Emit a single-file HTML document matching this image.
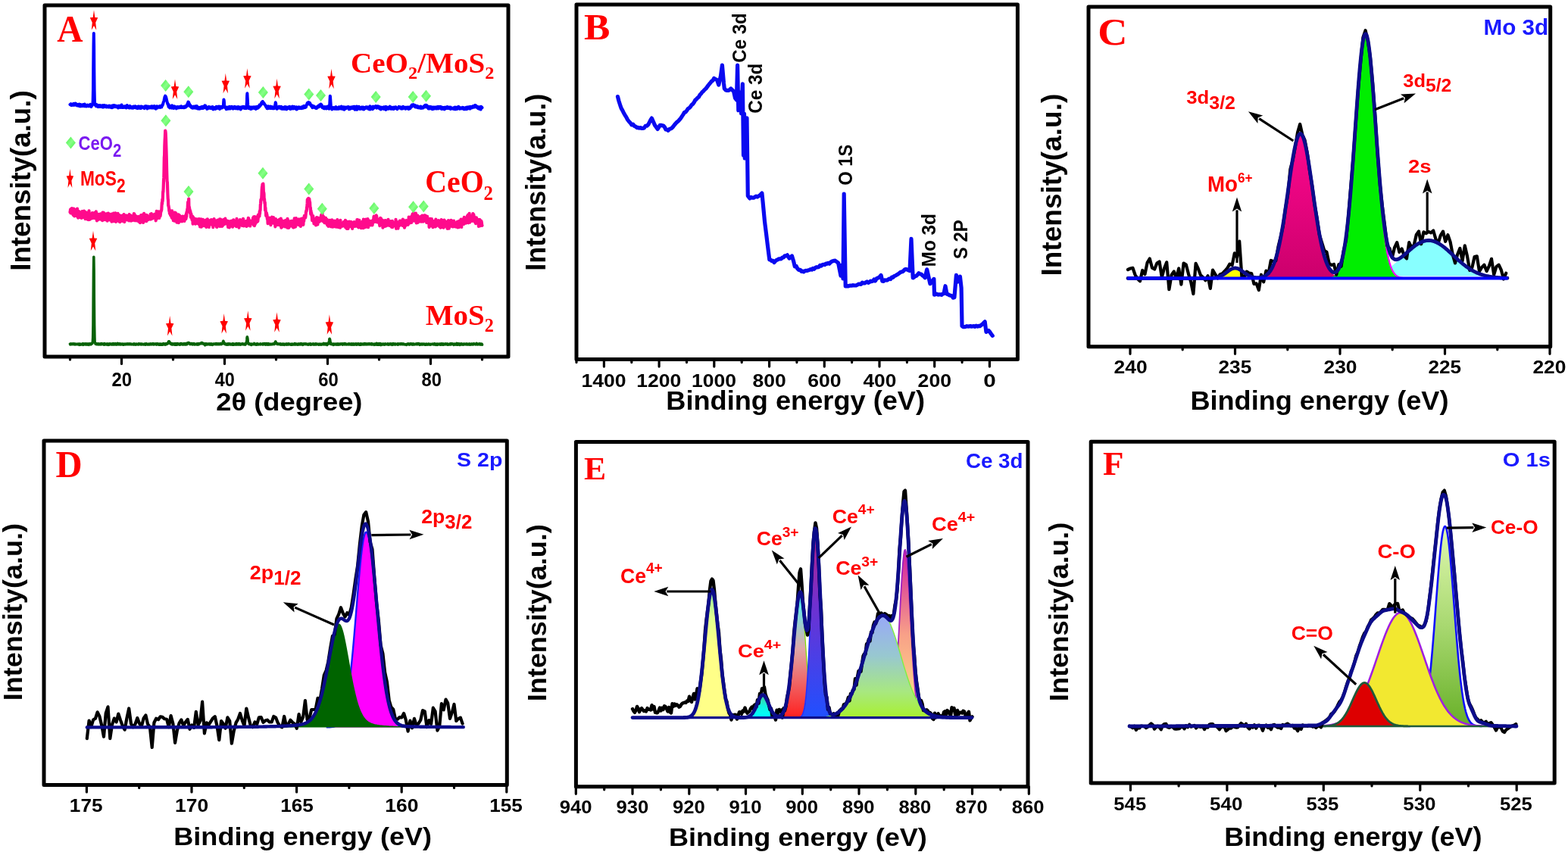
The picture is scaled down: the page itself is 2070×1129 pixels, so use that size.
<!DOCTYPE html>
<html><head><meta charset="utf-8"><title>CeO2/MoS2 XRD and XPS</title>
<style>html,body{margin:0;padding:0;background:#fff;}svg{display:block;filter:blur(0.55px);}</style></head>
<body><svg width="2070" height="1129" viewBox="0 0 2070 1129">
<defs><linearGradient id="dgrad" x1="0" y1="0" x2="1" y2="1"><stop offset="0" stop-color="#44ee44"/><stop offset="0.5" stop-color="#88ff88"/><stop offset="1" stop-color="#44ee44"/></linearGradient><linearGradient id="gP" gradientUnits="userSpaceOnUse" x1="0" y1="170" x2="0" y2="367"><stop offset="0" stop-color="#ff0890"/><stop offset="1" stop-color="#cc006c"/></linearGradient><linearGradient id="gE1" gradientUnits="userSpaceOnUse" x1="0" y1="778" x2="0" y2="947"><stop offset="0" stop-color="#90e8a0"/><stop offset="0.22" stop-color="#e0ff90"/><stop offset="0.45" stop-color="#ffff88"/><stop offset="1" stop-color="#ffff88"/></linearGradient><linearGradient id="gE2" gradientUnits="userSpaceOnUse" x1="0" y1="917" x2="0" y2="947"><stop offset="0" stop-color="#50c890"/><stop offset="0.5" stop-color="#10f0e0"/><stop offset="1" stop-color="#00ffff"/></linearGradient><linearGradient id="gE3" gradientUnits="userSpaceOnUse" x1="0" y1="782" x2="0" y2="947"><stop offset="0" stop-color="#40ffff"/><stop offset="0.45" stop-color="#e0a8a8"/><stop offset="1" stop-color="#ff2020"/></linearGradient><linearGradient id="gE4" gradientUnits="userSpaceOnUse" x1="0" y1="697" x2="0" y2="947"><stop offset="0" stop-color="#c02080"/><stop offset="0.4" stop-color="#7030d0"/><stop offset="1" stop-color="#2050ff"/></linearGradient><linearGradient id="gE5" gradientUnits="userSpaceOnUse" x1="0" y1="812" x2="0" y2="947"><stop offset="0" stop-color="#98a8f8"/><stop offset="0.4" stop-color="#98c8d0"/><stop offset="0.75" stop-color="#a8e880"/><stop offset="1" stop-color="#a8f030"/></linearGradient><linearGradient id="gE6" gradientUnits="userSpaceOnUse" x1="0" y1="728" x2="0" y2="947"><stop offset="0" stop-color="#d020a0"/><stop offset="0.5" stop-color="#f8a088"/><stop offset="1" stop-color="#ffe888"/></linearGradient><linearGradient id="gF" gradientUnits="userSpaceOnUse" x1="0" y1="695" x2="0" y2="958"><stop offset="0" stop-color="#e0f8b0"/><stop offset="0.5" stop-color="#a8d870"/><stop offset="1" stop-color="#68b028"/></linearGradient></defs>
<rect width="2070" height="1129" fill="#fff"/>
<rect x="59" y="7" width="612" height="464" fill="none" stroke="#000" stroke-width="5" stroke-linejoin="round"/>
<path d="M160.5,471.0V480.5 M296.5,471.0V480.5 M432.5,471.0V480.5 M568.5,471.0V480.5 M92.5,471.0V475.0 M228.5,471.0V475.0 M364.5,471.0V475.0 M500.5,471.0V475.0 M636.5,471.0V475.0" stroke="#000" stroke-width="3.2" stroke-linecap="round" fill="none"/>
<text transform="translate(147.51,510.00) scale(0.9410,1)" font-family='"Liberation Sans", Arial, sans-serif' font-weight="bold" font-size="25.36" fill="#000" ><tspan>20</tspan></text>
<text transform="translate(283.70,510.00) scale(0.9231,1)" font-family='"Liberation Sans", Arial, sans-serif' font-weight="bold" font-size="25.36" fill="#000" ><tspan>40</tspan></text>
<text transform="translate(420.21,510.00) scale(0.9410,1)" font-family='"Liberation Sans", Arial, sans-serif' font-weight="bold" font-size="25.36" fill="#000" ><tspan>60</tspan></text>
<text transform="translate(556.44,510.00) scale(0.9364,1)" font-family='"Liberation Sans", Arial, sans-serif' font-weight="bold" font-size="25.36" fill="#000" ><tspan>80</tspan></text>
<text transform="translate(285.23,542.00) scale(1.0759,1)" font-family='"Liberation Sans", Arial, sans-serif' font-weight="bold" font-size="33.77" fill="#000" ><tspan>2θ (degree)</tspan></text>
<text transform="translate(39.70,357.78) rotate(-90) scale(0.9698,1)" font-family='"Liberation Sans", Arial, sans-serif' font-weight="bold" font-size="37.83" fill="#000" ><tspan>Intensity(a.u.)</tspan></text>
<text transform="translate(75.13,55.00) scale(0.9347,1)" font-family='"Liberation Serif", "Times New Roman", serif' font-weight="bold" font-size="50.69" fill="#ff0000" ><tspan>A</tspan></text>
<polyline points="92.5,138.0 92.8,138.3 93.0,137.8 93.3,137.3 93.6,137.7 93.9,137.3 94.1,138.2 94.4,139.2 94.7,137.8 94.9,137.7 95.2,138.6 95.5,138.5 95.8,138.3 96.0,137.5 96.3,138.2 96.6,138.8 96.9,137.2 97.1,138.0 97.4,136.8 97.7,137.3 97.9,136.9 98.2,138.2 98.5,137.4 98.8,138.7 99.0,138.6 99.3,138.3 99.6,136.5 99.8,138.1 100.1,138.5 100.4,138.6 100.7,137.3 100.9,138.2 101.2,137.8 101.5,138.0 101.7,139.5 102.0,138.0 102.3,138.6 102.6,139.4 102.8,138.2 103.1,138.6 103.4,138.8 103.7,138.8 103.9,137.8 104.2,138.8 104.5,139.9 104.7,137.6 105.0,139.5 105.3,138.9 105.6,138.4 105.8,140.5 106.1,139.5 106.4,138.0 106.6,139.0 106.9,139.4 107.2,138.8 107.5,139.5 107.7,138.9 108.0,139.5 108.3,140.2 108.5,138.5 108.8,139.2 109.1,138.7 109.4,139.2 109.6,138.1 109.9,138.6 110.2,139.0 110.5,139.9 110.7,140.1 111.0,138.1 111.3,138.5 111.5,139.7 111.8,137.6 112.1,138.9 112.4,139.2 112.6,140.3 112.9,139.8 113.2,139.0 113.4,139.0 113.7,139.1 114.0,140.5 114.3,139.0 114.5,139.1 114.8,139.6 115.1,139.3 115.3,139.2 115.6,138.5 115.9,139.4 116.2,139.0 116.4,140.3 116.7,139.9 117.0,139.4 117.3,140.0 117.5,139.2 117.8,140.3 118.1,139.4 118.3,139.9 118.6,138.4 118.9,139.7 119.2,138.1 119.4,137.8 119.7,139.2 120.0,138.7 120.2,139.5 120.5,141.1 120.8,138.6 121.1,138.7 121.3,139.2 121.6,139.3 121.9,138.5 122.1,138.0 122.4,137.3 122.7,132.3 123.0,117.6 123.2,92.2 123.5,60.5 123.8,44.0 124.1,60.8 124.3,91.7 124.6,119.3 124.9,132.1 125.1,136.9 125.4,137.9 125.7,138.7 126.0,137.5 126.2,138.4 126.5,139.7 126.8,137.8 127.0,140.3 127.3,138.3 127.6,140.3 127.9,139.1 128.1,140.4 128.4,139.9 128.7,138.6 128.9,140.9 129.2,141.1 129.5,139.9 129.8,139.8 130.0,139.9 130.3,139.2 130.6,140.9 130.9,139.6 131.1,140.0 131.4,139.4 131.7,139.6 131.9,139.1 132.2,141.1 132.5,140.0 132.8,140.9 133.0,140.2 133.3,139.6 133.6,139.9 133.8,139.8 134.1,140.2 134.4,139.9 134.7,140.0 134.9,139.2 135.2,139.6 135.5,141.6 135.7,139.8 136.0,139.5 136.3,140.6 136.6,141.5 136.8,139.2 137.1,140.2 137.4,139.9 137.7,139.0 137.9,141.0 138.2,140.4 138.5,140.5 138.7,139.8 139.0,140.8 139.3,140.0 139.6,140.3 139.8,139.6 140.1,139.5 140.4,141.5 140.6,140.1 140.9,140.7 141.2,140.5 141.5,140.2 141.7,140.1 142.0,141.0 142.3,140.3 142.5,140.4 142.8,140.6 143.1,141.5 143.4,141.1 143.6,140.9 143.9,140.1 144.2,139.5 144.5,141.4 144.7,141.4 145.0,140.5 145.3,141.1 145.5,141.3 145.8,141.3 146.1,141.4 146.4,140.3 146.6,141.9 146.9,139.7 147.2,141.4 147.4,141.1 147.7,141.4 148.0,142.2 148.3,141.9 148.5,139.8 148.8,139.4 149.1,141.4 149.3,140.0 149.6,140.8 149.9,141.5 150.2,139.5 150.4,139.1 150.7,141.0 151.0,140.8 151.3,140.6 151.5,140.9 151.8,140.1 152.1,139.6 152.3,140.7 152.6,140.1 152.9,139.6 153.2,141.3 153.4,140.8 153.7,141.2 154.0,140.1 154.2,140.4 154.5,140.1 154.8,140.2 155.1,141.1 155.3,140.3 155.6,141.2 155.9,141.2 156.1,142.6 156.4,139.8 156.7,141.7 157.0,140.9 157.2,141.0 157.5,139.8 157.8,140.6 158.1,141.6 158.3,140.9 158.6,141.1 158.9,140.8 159.1,142.0 159.4,141.0 159.7,139.3 160.0,140.5 160.2,139.5 160.5,138.5 160.8,140.6 161.0,142.1 161.3,141.1 161.6,140.2 161.9,140.3 162.1,142.0 162.4,141.2 162.7,141.2 162.9,141.1 163.2,141.2 163.5,141.8 163.8,141.6 164.0,141.3 164.3,140.3 164.6,141.6 164.9,140.6 165.1,142.1 165.4,140.2 165.7,141.1 165.9,141.2 166.2,140.1 166.5,142.6 166.8,142.4 167.0,140.8 167.3,141.8 167.6,141.5 167.8,139.1 168.1,141.4 168.4,141.2 168.7,141.3 168.9,140.4 169.2,141.0 169.5,141.1 169.7,142.2 170.0,141.5 170.3,141.3 170.6,142.5 170.8,140.9 171.1,141.0 171.4,139.9 171.7,142.6 171.9,142.1 172.2,142.1 172.5,141.9 172.7,141.4 173.0,141.5 173.3,141.1 173.6,141.2 173.8,141.4 174.1,142.6 174.4,141.8 174.6,141.3 174.9,140.9 175.2,140.9 175.5,142.7 175.7,141.8 176.0,141.5 176.3,141.1 176.5,140.5 176.8,141.4 177.1,142.1 177.4,141.1 177.6,141.2 177.9,141.3 178.2,141.5 178.5,140.2 178.7,141.3 179.0,140.8 179.3,142.2 179.5,140.8 179.8,141.9 180.1,142.7 180.4,141.2 180.6,141.0 180.9,141.6 181.2,141.5 181.4,140.7 181.7,141.9 182.0,143.1 182.3,141.3 182.5,141.3 182.8,140.7 183.1,141.8 183.3,140.5 183.6,140.6 183.9,142.6 184.2,140.8 184.4,142.4 184.7,142.8 185.0,141.7 185.3,142.0 185.5,143.1 185.8,141.4 186.1,141.1 186.3,140.5 186.6,141.6 186.9,142.8 187.2,142.3 187.4,140.8 187.7,140.9 188.0,141.2 188.2,141.8 188.5,141.4 188.8,141.8 189.1,141.8 189.3,141.4 189.6,141.6 189.9,141.8 190.1,141.5 190.4,142.0 190.7,143.1 191.0,142.1 191.2,141.7 191.5,140.3 191.8,141.9 192.1,140.1 192.3,140.5 192.6,142.3 192.9,142.2 193.1,141.5 193.4,140.3 193.7,141.3 194.0,141.1 194.2,142.2 194.5,143.5 194.8,141.8 195.0,141.0 195.3,140.7 195.6,141.6 195.9,141.5 196.1,140.7 196.4,141.8 196.7,140.7 196.9,142.6 197.2,142.5 197.5,142.5 197.8,141.3 198.0,142.1 198.3,141.6 198.6,141.4 198.9,141.4 199.1,140.6 199.4,140.5 199.7,142.3 199.9,141.5 200.2,141.9 200.5,142.5 200.8,140.3 201.0,141.1 201.3,141.8 201.6,142.0 201.8,141.4 202.1,142.5 202.4,141.8 202.7,140.7 202.9,140.9 203.2,142.3 203.5,142.0 203.7,140.1 204.0,142.7 204.3,142.1 204.6,142.7 204.8,141.3 205.1,141.4 205.4,140.7 205.7,143.7 205.9,141.5 206.2,142.9 206.5,141.1 206.7,141.7 207.0,140.2 207.3,141.3 207.6,142.3 207.8,140.5 208.1,142.4 208.4,141.8 208.6,140.7 208.9,141.1 209.2,141.1 209.5,141.4 209.7,141.0 210.0,140.7 210.3,141.1 210.5,140.5 210.8,140.2 211.1,141.2 211.4,141.9 211.6,139.9 211.9,141.0 212.2,140.4 212.5,140.1 212.7,141.4 213.0,140.1 213.3,141.5 213.5,139.5 213.8,140.1 214.1,139.3 214.4,138.4 214.6,139.0 214.9,137.8 215.2,137.8 215.4,136.5 215.7,134.8 216.0,134.6 216.3,133.8 216.5,133.5 216.8,130.9 217.1,130.6 217.3,128.3 217.6,129.4 217.9,127.5 218.2,126.6 218.4,128.0 218.7,129.2 219.0,127.7 219.3,128.8 219.5,130.0 219.8,130.8 220.1,133.0 220.3,133.1 220.6,134.2 220.9,136.2 221.2,136.0 221.4,137.7 221.7,137.2 222.0,137.6 222.2,137.6 222.5,141.0 222.8,139.6 223.1,140.4 223.3,140.4 223.6,140.8 223.9,140.8 224.1,142.5 224.4,140.2 224.7,139.9 225.0,140.4 225.2,140.2 225.5,141.9 225.8,142.1 226.1,140.7 226.3,140.4 226.6,141.2 226.9,142.7 227.1,139.3 227.4,142.0 227.7,140.8 228.0,142.5 228.2,140.8 228.5,141.5 228.8,140.5 229.0,141.0 229.3,142.9 229.6,142.4 229.9,141.5 230.1,141.1 230.4,140.3 230.7,141.5 230.9,141.8 231.2,141.8 231.5,141.8 231.8,141.0 232.0,141.8 232.3,141.9 232.6,142.9 232.9,143.4 233.1,141.8 233.4,141.3 233.7,141.9 233.9,141.4 234.2,141.3 234.5,141.9 234.8,141.1 235.0,142.4 235.3,141.9 235.6,142.2 235.8,141.8 236.1,141.4 236.4,141.2 236.7,141.8 236.9,141.5 237.2,142.2 237.5,142.0 237.7,140.9 238.0,142.0 238.3,140.9 238.6,141.5 238.8,141.7 239.1,140.3 239.4,142.0 239.7,142.1 239.9,141.8 240.2,141.6 240.5,141.6 240.7,141.1 241.0,141.7 241.3,141.5 241.6,142.0 241.8,140.9 242.1,142.1 242.4,142.0 242.6,141.7 242.9,141.5 243.2,142.2 243.5,140.4 243.7,142.1 244.0,141.8 244.3,141.8 244.5,141.8 244.8,140.8 245.1,141.0 245.4,141.5 245.6,141.2 245.9,140.7 246.2,139.0 246.5,140.3 246.7,140.3 247.0,139.7 247.3,138.6 247.5,136.7 247.8,138.1 248.1,136.8 248.4,134.5 248.6,136.6 248.9,135.0 249.2,135.2 249.4,136.0 249.7,137.9 250.0,137.1 250.3,138.1 250.5,139.8 250.8,140.2 251.1,139.4 251.3,139.7 251.6,139.2 251.9,140.0 252.2,141.2 252.4,141.4 252.7,141.4 253.0,142.2 253.3,140.9 253.5,141.6 253.8,142.3 254.1,142.3 254.3,142.7 254.6,142.2 254.9,141.7 255.2,142.2 255.4,141.2 255.7,140.7 256.0,142.5 256.2,142.0 256.5,142.3 256.8,140.7 257.1,141.8 257.3,141.6 257.6,141.4 257.9,140.3 258.1,141.8 258.4,142.8 258.7,142.4 259.0,141.7 259.2,142.1 259.5,142.8 259.8,139.9 260.1,142.1 260.3,142.6 260.6,142.7 260.9,143.5 261.1,143.1 261.4,142.4 261.7,142.4 262.0,142.8 262.2,141.8 262.5,142.2 262.8,142.9 263.0,143.8 263.3,142.1 263.6,142.2 263.9,142.4 264.1,143.3 264.4,142.2 264.7,143.4 264.9,141.4 265.2,142.1 265.5,142.1 265.8,142.8 266.0,143.0 266.3,141.0 266.6,141.5 266.9,142.5 267.1,141.6 267.4,140.9 267.7,143.0 267.9,142.5 268.2,142.5 268.5,141.6 268.8,142.7 269.0,141.5 269.3,142.4 269.6,140.4 269.8,140.0 270.1,140.5 270.4,139.4 270.7,140.3 270.9,140.2 271.2,139.6 271.5,140.8 271.7,140.9 272.0,142.2 272.3,141.2 272.6,141.6 272.8,143.0 273.1,143.9 273.4,143.8 273.7,142.2 273.9,142.4 274.2,143.5 274.5,142.1 274.7,141.5 275.0,142.4 275.3,142.6 275.6,141.6 275.8,141.0 276.1,141.1 276.4,142.8 276.6,141.7 276.9,142.2 277.2,142.5 277.5,142.8 277.7,142.0 278.0,142.7 278.3,141.6 278.5,142.0 278.8,141.5 279.1,143.2 279.4,142.3 279.6,141.7 279.9,142.1 280.2,142.2 280.5,142.9 280.7,141.1 281.0,141.5 281.3,142.0 281.5,144.4 281.8,143.1 282.1,142.3 282.4,142.9 282.6,144.0 282.9,142.2 283.2,142.1 283.4,143.3 283.7,142.7 284.0,142.9 284.3,141.9 284.5,143.9 284.8,143.7 285.1,142.8 285.3,142.9 285.6,140.7 285.9,142.9 286.2,142.2 286.4,142.7 286.7,142.9 287.0,142.1 287.3,141.0 287.5,142.7 287.8,141.8 288.1,142.1 288.3,141.9 288.6,142.1 288.9,140.5 289.2,143.3 289.4,142.6 289.7,143.3 290.0,143.9 290.2,142.4 290.5,140.9 290.8,141.6 291.1,141.4 291.3,142.0 291.6,142.4 291.9,140.7 292.1,142.6 292.4,141.1 292.7,142.6 293.0,142.2 293.2,142.0 293.5,142.2 293.8,141.8 294.1,141.6 294.3,140.4 294.6,140.6 294.9,139.4 295.1,135.3 295.4,131.6 295.7,132.3 296.0,135.3 296.2,140.6 296.5,141.3 296.8,141.9 297.0,141.9 297.3,142.3 297.6,141.9 297.9,142.2 298.1,141.5 298.4,142.0 298.7,144.2 298.9,142.3 299.2,142.2 299.5,142.8 299.8,142.9 300.0,141.5 300.3,142.2 300.6,143.1 300.9,142.6 301.1,142.5 301.4,143.6 301.7,141.9 301.9,142.5 302.2,142.0 302.5,143.6 302.8,140.8 303.0,141.9 303.3,142.0 303.6,142.9 303.8,142.9 304.1,143.5 304.4,141.2 304.7,143.0 304.9,142.2 305.2,141.9 305.5,142.8 305.7,141.7 306.0,140.8 306.3,142.1 306.6,141.2 306.8,141.9 307.1,142.7 307.4,142.7 307.7,143.7 307.9,142.3 308.2,141.2 308.5,141.8 308.7,141.7 309.0,141.4 309.3,142.8 309.6,141.9 309.8,140.8 310.1,143.0 310.4,142.3 310.6,142.7 310.9,142.5 311.2,142.9 311.5,142.5 311.7,143.4 312.0,142.8 312.3,142.7 312.5,142.8 312.8,141.3 313.1,142.3 313.4,142.2 313.6,142.6 313.9,141.3 314.2,143.7 314.5,142.5 314.7,141.5 315.0,141.1 315.3,142.2 315.5,142.3 315.8,141.8 316.1,142.5 316.4,141.9 316.6,142.9 316.9,141.8 317.2,142.4 317.4,143.2 317.7,144.5 318.0,141.6 318.3,142.0 318.5,141.7 318.8,143.0 319.1,141.5 319.3,142.0 319.6,142.4 319.9,141.6 320.2,141.6 320.4,142.0 320.7,140.7 321.0,141.2 321.3,142.1 321.5,142.5 321.8,142.2 322.1,141.0 322.3,142.0 322.6,143.0 322.9,142.8 323.2,142.3 323.4,141.6 323.7,142.8 324.0,141.8 324.2,141.3 324.5,141.5 324.8,143.2 325.1,142.0 325.3,142.0 325.6,138.4 325.9,134.5 326.1,126.5 326.4,123.3 326.7,129.0 327.0,134.3 327.2,138.4 327.5,141.0 327.8,142.1 328.1,143.0 328.3,141.7 328.6,140.8 328.9,142.0 329.1,142.3 329.4,142.4 329.7,143.3 330.0,142.5 330.2,143.0 330.5,141.4 330.8,143.0 331.0,144.0 331.3,142.9 331.6,142.5 331.9,142.4 332.1,143.7 332.4,141.6 332.7,142.2 332.9,142.7 333.2,142.9 333.5,141.9 333.8,142.5 334.0,142.1 334.3,142.4 334.6,142.2 334.9,141.3 335.1,142.2 335.4,142.9 335.7,141.5 335.9,142.0 336.2,142.7 336.5,141.3 336.8,142.3 337.0,141.3 337.3,143.0 337.6,144.0 337.8,143.7 338.1,141.9 338.4,142.6 338.7,142.1 338.9,142.1 339.2,143.2 339.5,140.8 339.7,142.7 340.0,141.7 340.3,142.8 340.6,141.7 340.8,140.9 341.1,141.6 341.4,141.8 341.7,141.0 341.9,141.2 342.2,140.2 342.5,138.6 342.7,140.8 343.0,140.3 343.3,139.5 343.6,139.1 343.8,139.5 344.1,137.9 344.4,137.2 344.6,137.2 344.9,137.9 345.2,135.4 345.5,137.1 345.7,135.2 346.0,134.6 346.3,136.2 346.5,135.0 346.8,134.0 347.1,134.8 347.4,135.9 347.6,136.4 347.9,135.4 348.2,136.4 348.5,137.1 348.7,136.4 349.0,137.7 349.3,137.8 349.5,137.8 349.8,138.3 350.1,139.1 350.4,139.4 350.6,139.3 350.9,139.7 351.2,141.2 351.4,140.8 351.7,141.5 352.0,142.0 352.3,141.7 352.5,143.2 352.8,140.8 353.1,142.2 353.3,141.4 353.6,143.2 353.9,143.2 354.2,140.3 354.4,141.2 354.7,142.5 355.0,142.7 355.3,142.6 355.5,142.0 355.8,142.5 356.1,142.7 356.3,142.1 356.6,143.0 356.9,140.4 357.2,142.7 357.4,141.4 357.7,143.0 358.0,142.1 358.2,141.5 358.5,142.6 358.8,141.5 359.1,141.5 359.3,141.0 359.6,142.3 359.9,142.7 360.1,143.1 360.4,142.2 360.7,143.1 361.0,142.3 361.2,142.2 361.5,142.7 361.8,143.1 362.1,141.9 362.3,141.9 362.6,141.6 362.9,141.0 363.1,138.7 363.4,138.1 363.7,135.3 364.0,136.0 364.2,136.7 364.5,139.7 364.8,141.3 365.0,141.5 365.3,143.7 365.6,142.6 365.9,143.7 366.1,143.1 366.4,141.8 366.7,142.1 366.9,142.7 367.2,142.4 367.5,142.4 367.8,142.2 368.0,141.0 368.3,142.2 368.6,140.6 368.9,142.7 369.1,141.9 369.4,141.9 369.7,142.3 369.9,142.7 370.2,141.3 370.5,141.0 370.8,141.6 371.0,140.8 371.3,141.7 371.6,143.7 371.8,141.6 372.1,143.0 372.4,141.4 372.7,142.7 372.9,142.2 373.2,142.4 373.5,142.9 373.7,143.9 374.0,142.6 374.3,142.6 374.6,141.7 374.8,142.9 375.1,142.3 375.4,143.1 375.7,142.4 375.9,143.9 376.2,140.9 376.5,142.2 376.7,143.2 377.0,142.2 377.3,141.8 377.6,142.3 377.8,141.4 378.1,142.6 378.4,144.4 378.6,143.4 378.9,141.6 379.2,141.8 379.5,142.1 379.7,143.3 380.0,141.8 380.3,141.9 380.5,143.2 380.8,143.2 381.1,142.2 381.4,141.6 381.6,141.2 381.9,141.9 382.2,140.7 382.5,143.1 382.7,142.0 383.0,142.9 383.3,144.0 383.5,143.4 383.8,141.5 384.1,143.2 384.4,143.4 384.6,141.9 384.9,141.7 385.2,142.4 385.4,141.2 385.7,143.6 386.0,140.5 386.3,141.6 386.5,142.2 386.8,142.3 387.1,142.6 387.3,142.7 387.6,142.3 387.9,143.4 388.2,140.7 388.4,142.4 388.7,141.9 389.0,142.5 389.3,142.6 389.5,141.7 389.8,141.9 390.1,143.1 390.3,142.7 390.6,141.9 390.9,144.0 391.2,144.3 391.4,141.2 391.7,142.6 392.0,144.4 392.2,143.0 392.5,142.6 392.8,142.2 393.1,141.9 393.3,142.2 393.6,141.9 393.9,143.0 394.1,142.0 394.4,142.0 394.7,141.4 395.0,142.3 395.2,141.6 395.5,142.2 395.8,143.1 396.1,142.6 396.3,142.7 396.6,142.6 396.9,142.3 397.1,142.1 397.4,142.0 397.7,142.8 398.0,141.3 398.2,143.2 398.5,142.2 398.8,141.5 399.0,141.7 399.3,141.5 399.6,142.2 399.9,141.4 400.1,142.8 400.4,141.2 400.7,140.0 400.9,141.1 401.2,140.0 401.5,141.5 401.8,142.2 402.0,141.7 402.3,140.0 402.6,140.2 402.9,142.1 403.1,140.6 403.4,140.1 403.7,140.7 403.9,141.4 404.2,140.2 404.5,138.9 404.8,138.6 405.0,138.4 405.3,137.0 405.6,136.3 405.8,136.8 406.1,135.6 406.4,136.0 406.7,135.9 406.9,137.5 407.2,134.9 407.5,135.4 407.7,135.5 408.0,136.2 408.3,136.9 408.6,136.0 408.8,136.1 409.1,135.8 409.4,136.8 409.7,138.4 409.9,138.4 410.2,137.9 410.5,138.8 410.7,139.5 411.0,140.2 411.3,139.6 411.6,140.2 411.8,139.1 412.1,139.9 412.4,142.3 412.6,139.4 412.9,141.1 413.2,141.6 413.5,141.3 413.7,141.0 414.0,141.7 414.3,141.8 414.5,141.8 414.8,140.4 415.1,141.8 415.4,141.3 415.6,141.5 415.9,142.2 416.2,142.5 416.5,142.7 416.7,141.6 417.0,142.8 417.3,143.0 417.5,142.9 417.8,143.1 418.1,141.9 418.4,141.8 418.6,142.5 418.9,140.7 419.2,141.9 419.4,141.2 419.7,141.2 420.0,139.9 420.3,140.4 420.5,140.8 420.8,141.3 421.1,141.0 421.3,139.8 421.6,139.4 421.9,138.6 422.2,139.2 422.4,138.5 422.7,139.0 423.0,139.8 423.3,138.5 423.5,137.5 423.8,138.2 424.1,138.1 424.3,138.6 424.6,141.0 424.9,140.5 425.2,139.4 425.4,141.4 425.7,142.2 426.0,141.1 426.2,141.0 426.5,141.5 426.8,142.1 427.1,142.5 427.3,143.0 427.6,143.1 427.9,143.1 428.1,143.3 428.4,142.8 428.7,141.0 429.0,142.2 429.2,142.5 429.5,142.0 429.8,143.0 430.1,142.0 430.3,141.6 430.6,143.5 430.9,142.9 431.1,142.5 431.4,143.1 431.7,143.2 432.0,142.6 432.2,140.4 432.5,141.8 432.8,142.0 433.0,141.6 433.3,142.5 433.6,143.3 433.9,141.9 434.1,141.3 434.4,143.7 434.7,141.4 434.9,139.6 435.2,137.8 435.5,132.7 435.8,126.7 436.0,127.9 436.3,131.9 436.6,136.9 436.9,140.8 437.1,142.4 437.4,141.6 437.7,142.5 437.9,142.2 438.2,144.6 438.5,141.8 438.8,143.5 439.0,142.4 439.3,142.3 439.6,143.0 439.8,143.2 440.1,143.5 440.4,142.7 440.7,142.0 440.9,142.1 441.2,142.9 441.5,143.0 441.7,143.6 442.0,142.8 442.3,143.4 442.6,143.7 442.8,142.6 443.1,141.3 443.4,141.6 443.7,141.4 443.9,143.8 444.2,141.8 444.5,143.5 444.7,143.0 445.0,143.9 445.3,143.3 445.6,142.4 445.8,142.4 446.1,142.6 446.4,142.7 446.6,142.1 446.9,142.5 447.2,143.8 447.5,141.2 447.7,142.7 448.0,141.8 448.3,142.7 448.5,143.2 448.8,142.5 449.1,143.2 449.4,141.3 449.6,143.4 449.9,142.1 450.2,143.0 450.5,142.7 450.7,140.5 451.0,141.9 451.3,142.7 451.5,143.8 451.8,142.8 452.1,142.8 452.4,141.4 452.6,143.7 452.9,144.0 453.2,142.6 453.4,142.4 453.7,141.3 454.0,143.3 454.3,144.7 454.5,143.1 454.8,143.6 455.1,143.0 455.3,141.8 455.6,143.6 455.9,141.6 456.2,142.4 456.4,142.8 456.7,143.3 457.0,142.9 457.3,142.9 457.5,141.9 457.8,141.5 458.1,142.6 458.3,142.0 458.6,141.5 458.9,141.5 459.2,142.2 459.4,141.1 459.7,141.5 460.0,141.2 460.2,142.7 460.5,142.9 460.8,144.2 461.1,141.4 461.3,142.0 461.6,143.3 461.9,142.4 462.1,142.3 462.4,143.9 462.7,142.3 463.0,141.6 463.2,141.5 463.5,142.8 463.8,142.8 464.1,141.5 464.3,141.8 464.6,143.0 464.9,143.0 465.1,142.0 465.4,143.1 465.7,143.0 466.0,141.1 466.2,142.3 466.5,142.9 466.8,142.1 467.0,140.8 467.3,142.3 467.6,143.2 467.9,143.8 468.1,140.8 468.4,144.7 468.7,141.7 468.9,143.3 469.2,143.5 469.5,143.3 469.8,142.7 470.0,141.6 470.3,143.1 470.6,142.0 470.9,140.5 471.1,144.8 471.4,143.1 471.7,144.0 471.9,141.8 472.2,143.7 472.5,143.8 472.8,143.8 473.0,142.5 473.3,141.6 473.6,142.4 473.8,140.8 474.1,141.2 474.4,142.6 474.7,141.8 474.9,142.4 475.2,142.5 475.5,144.1 475.7,143.6 476.0,142.5 476.3,143.5 476.6,141.9 476.8,142.3 477.1,143.3 477.4,141.6 477.7,142.3 477.9,141.5 478.2,142.6 478.5,143.9 478.7,142.0 479.0,142.7 479.3,141.8 479.6,141.6 479.8,141.6 480.1,143.7 480.4,144.4 480.6,142.9 480.9,142.0 481.2,143.1 481.5,142.3 481.7,143.2 482.0,142.8 482.3,142.8 482.5,143.0 482.8,142.1 483.1,142.2 483.4,141.2 483.6,142.2 483.9,141.4 484.2,142.4 484.5,141.8 484.7,142.6 485.0,142.9 485.3,141.4 485.5,141.9 485.8,141.8 486.1,143.1 486.4,143.9 486.6,143.2 486.9,142.2 487.2,143.7 487.4,141.3 487.7,143.7 488.0,142.0 488.3,140.3 488.5,144.6 488.8,143.7 489.1,141.6 489.3,142.6 489.6,142.3 489.9,142.5 490.2,141.2 490.4,141.9 490.7,142.8 491.0,142.6 491.3,143.3 491.5,142.4 491.8,144.2 492.1,141.7 492.3,142.4 492.6,140.6 492.9,141.1 493.2,143.1 493.4,141.2 493.7,142.3 494.0,141.7 494.2,140.8 494.5,141.2 494.8,141.0 495.1,140.9 495.3,141.7 495.6,141.5 495.9,140.4 496.1,140.0 496.4,140.9 496.7,140.5 497.0,141.4 497.2,142.7 497.5,141.3 497.8,140.6 498.1,140.6 498.3,140.2 498.6,140.3 498.9,140.3 499.1,140.9 499.4,141.0 499.7,142.1 500.0,141.3 500.2,141.6 500.5,140.9 500.8,143.3 501.0,142.4 501.3,143.5 501.6,142.8 501.9,143.4 502.1,142.1 502.4,142.9 502.7,144.5 502.9,141.4 503.2,143.3 503.5,143.8 503.8,142.8 504.0,143.0 504.3,143.5 504.6,141.9 504.9,142.8 505.1,141.8 505.4,141.9 505.7,142.0 505.9,142.4 506.2,142.6 506.5,142.9 506.8,141.3 507.0,144.1 507.3,143.5 507.6,143.1 507.8,142.2 508.1,142.4 508.4,143.0 508.7,142.9 508.9,141.1 509.2,143.1 509.5,144.9 509.7,141.0 510.0,143.3 510.3,142.8 510.6,142.4 510.8,143.7 511.1,141.6 511.4,142.7 511.7,143.7 511.9,142.4 512.2,142.2 512.5,142.6 512.7,142.2 513.0,143.8 513.3,141.8 513.6,143.3 513.8,141.5 514.1,143.1 514.4,142.5 514.6,140.4 514.9,142.5 515.2,141.7 515.5,142.2 515.7,143.8 516.0,141.6 516.3,141.7 516.5,143.7 516.8,142.6 517.1,143.8 517.4,142.8 517.6,141.8 517.9,142.5 518.2,143.6 518.5,143.3 518.7,142.5 519.0,142.6 519.3,142.5 519.5,142.1 519.8,144.1 520.1,142.6 520.4,141.6 520.6,142.2 520.9,143.1 521.2,143.1 521.4,142.4 521.7,142.0 522.0,142.6 522.3,141.2 522.5,141.5 522.8,143.2 523.1,142.1 523.3,142.8 523.6,143.5 523.9,143.1 524.2,142.6 524.4,144.3 524.7,143.1 525.0,142.2 525.3,143.1 525.5,142.9 525.8,141.8 526.1,142.6 526.3,142.4 526.6,140.9 526.9,142.4 527.2,142.3 527.4,142.2 527.7,141.2 528.0,142.2 528.2,142.5 528.5,142.6 528.8,141.6 529.1,143.0 529.3,141.5 529.6,142.3 529.9,143.6 530.1,141.9 530.4,142.1 530.7,143.4 531.0,142.2 531.2,142.3 531.5,142.7 531.8,143.4 532.1,140.7 532.3,141.8 532.6,141.7 532.9,141.6 533.1,141.8 533.4,141.8 533.7,142.7 534.0,141.7 534.2,142.6 534.5,142.8 534.8,141.9 535.0,142.6 535.3,143.8 535.6,142.7 535.9,141.9 536.1,142.4 536.4,141.7 536.7,142.6 536.9,143.1 537.2,141.7 537.5,142.2 537.8,143.3 538.0,141.9 538.3,142.5 538.6,141.5 538.9,141.6 539.1,141.8 539.4,143.9 539.7,141.8 539.9,141.7 540.2,141.6 540.5,141.8 540.8,142.4 541.0,142.0 541.3,143.4 541.6,141.8 541.8,142.6 542.1,141.6 542.4,141.7 542.7,139.9 542.9,140.8 543.2,140.6 543.5,140.3 543.7,138.5 544.0,140.8 544.3,139.5 544.6,139.3 544.8,139.3 545.1,139.1 545.4,139.5 545.7,138.1 545.9,138.3 546.2,139.3 546.5,139.2 546.7,138.9 547.0,138.8 547.3,138.8 547.6,139.6 547.8,140.8 548.1,139.2 548.4,141.5 548.6,141.1 548.9,140.3 549.2,141.4 549.5,139.8 549.7,139.8 550.0,140.3 550.3,141.1 550.5,141.3 550.8,141.2 551.1,141.8 551.4,140.1 551.6,142.3 551.9,140.8 552.2,141.5 552.5,141.7 552.7,141.2 553.0,141.0 553.3,141.3 553.5,142.1 553.8,142.6 554.1,142.6 554.4,141.4 554.6,141.5 554.9,141.4 555.2,142.5 555.4,140.5 555.7,143.1 556.0,141.6 556.3,141.4 556.5,142.2 556.8,142.7 557.1,142.1 557.3,142.6 557.6,141.8 557.9,142.6 558.2,142.5 558.4,141.4 558.7,142.5 559.0,141.4 559.3,141.2 559.5,140.3 559.8,140.7 560.1,141.5 560.3,139.7 560.6,141.2 560.9,140.9 561.2,140.8 561.4,138.8 561.7,140.4 562.0,141.1 562.2,140.0 562.5,140.7 562.8,138.8 563.1,141.3 563.3,140.3 563.6,141.7 563.9,139.6 564.1,141.7 564.4,141.1 564.7,142.0 565.0,140.8 565.2,141.1 565.5,143.5 565.8,141.1 566.1,141.3 566.3,141.7 566.6,141.2 566.9,143.0 567.1,143.5 567.4,141.6 567.7,140.8 568.0,143.2 568.2,143.2 568.5,143.0 568.8,143.2 569.0,141.7 569.3,142.2 569.6,141.3 569.9,141.3 570.1,143.2 570.4,141.9 570.7,144.3 570.9,142.5 571.2,141.9 571.5,143.1 571.8,143.9 572.0,142.9 572.3,141.5 572.6,142.8 572.9,143.6 573.1,142.1 573.4,141.9 573.7,143.3 573.9,142.6 574.2,141.6 574.5,142.2 574.8,141.9 575.0,142.7 575.3,142.6 575.6,143.4 575.8,143.1 576.1,141.3 576.4,142.8 576.7,143.2 576.9,142.9 577.2,143.4 577.5,142.1 577.7,141.8 578.0,143.3 578.3,141.7 578.6,140.8 578.8,143.4 579.1,142.0 579.4,142.3 579.7,141.4 579.9,141.5 580.2,141.6 580.5,142.3 580.7,142.8 581.0,140.7 581.3,143.1 581.6,141.6 581.8,141.7 582.1,143.1 582.4,142.5 582.6,141.3 582.9,144.0 583.2,141.9 583.5,142.8 583.7,142.7 584.0,143.7 584.3,142.2 584.5,143.4 584.8,142.0 585.1,143.5 585.4,141.9 585.6,142.3 585.9,144.1 586.2,142.8 586.5,142.6 586.7,144.4 587.0,142.9 587.3,141.9 587.5,143.2 587.8,141.6 588.1,143.5 588.4,143.5 588.6,142.1 588.9,142.1 589.2,142.7 589.4,142.6 589.7,141.8 590.0,143.0 590.3,140.9 590.5,142.2 590.8,142.2 591.1,142.3 591.3,142.8 591.6,141.6 591.9,143.0 592.2,142.4 592.4,142.0 592.7,141.5 593.0,141.6 593.3,142.9 593.5,141.8 593.8,142.6 594.1,143.4 594.3,143.4 594.6,143.8 594.9,142.3 595.2,141.7 595.4,143.4 595.7,142.8 596.0,143.5 596.2,142.6 596.5,143.5 596.8,143.2 597.1,143.1 597.3,143.0 597.6,142.9 597.9,142.8 598.1,142.8 598.4,143.4 598.7,142.2 599.0,144.0 599.2,142.5 599.5,143.4 599.8,142.5 600.1,142.4 600.3,144.2 600.6,142.3 600.9,141.5 601.1,142.0 601.4,142.3 601.7,144.3 602.0,142.7 602.2,143.3 602.5,141.8 602.8,142.9 603.0,143.1 603.3,144.0 603.6,142.0 603.9,143.1 604.1,142.8 604.4,141.7 604.7,142.6 604.9,142.4 605.2,140.7 605.5,143.0 605.8,143.0 606.0,142.2 606.3,141.5 606.6,143.7 606.9,142.8 607.1,143.4 607.4,143.7 607.7,142.1 607.9,143.2 608.2,142.4 608.5,142.5 608.8,142.5 609.0,142.6 609.3,143.4 609.6,142.7 609.8,142.4 610.1,142.3 610.4,142.8 610.7,141.8 610.9,142.2 611.2,142.5 611.5,142.1 611.7,142.5 612.0,142.1 612.3,144.2 612.6,143.6 612.8,142.9 613.1,142.5 613.4,144.3 613.7,142.8 613.9,142.5 614.2,142.8 614.5,142.8 614.7,143.7 615.0,142.5 615.3,144.2 615.6,141.8 615.8,143.1 616.1,141.7 616.4,144.0 616.6,142.2 616.9,142.5 617.2,143.2 617.5,143.5 617.7,141.6 618.0,142.2 618.3,141.4 618.5,142.6 618.8,142.4 619.1,142.2 619.4,141.9 619.6,142.1 619.9,141.8 620.2,142.8 620.5,143.6 620.7,140.8 621.0,142.2 621.3,142.0 621.5,142.7 621.8,141.5 622.1,142.0 622.4,141.3 622.6,142.6 622.9,142.0 623.2,141.7 623.4,142.0 623.7,141.4 624.0,140.2 624.3,141.8 624.5,141.4 624.8,140.9 625.1,141.7 625.3,141.7 625.6,139.7 625.9,139.8 626.2,141.5 626.4,141.3 626.7,139.5 627.0,139.1 627.3,139.6 627.5,139.8 627.8,139.0 628.1,140.4 628.3,139.5 628.6,139.7 628.9,141.6 629.2,140.5 629.4,141.1 629.7,141.8 630.0,142.1 630.2,141.3 630.5,141.8 630.8,141.2 631.1,143.3 631.3,142.5 631.6,141.2 631.9,142.2 632.1,142.8 632.4,142.6 632.7,143.8 633.0,143.4 633.2,141.9 633.5,142.3 633.8,141.4 634.1,142.6 634.3,142.6 634.6,144.6 634.9,142.5 635.1,140.8 635.4,141.9 635.7,142.6 636.0,141.5 636.2,141.8 636.5,142.2" fill="none" stroke="#0000ff" stroke-width="4.0" stroke-linejoin="round" stroke-linecap="round" />
<polyline points="92.5,279.9 92.8,278.6 93.0,276.6 93.3,281.4 93.6,277.8 93.9,278.0 94.1,275.6 94.4,277.3 94.7,281.4 94.9,275.2 95.2,279.6 95.5,281.9 95.8,278.9 96.0,280.7 96.3,277.0 96.6,283.8 96.9,283.3 97.1,281.0 97.4,275.5 97.7,277.6 97.9,283.3 98.2,285.4 98.5,281.6 98.8,284.3 99.0,279.2 99.3,280.4 99.6,281.0 99.8,282.3 100.1,276.9 100.4,283.8 100.7,285.0 100.9,278.1 101.2,277.6 101.5,282.4 101.7,279.7 102.0,275.6 102.3,283.9 102.6,282.1 102.8,280.4 103.1,287.7 103.4,282.3 103.7,279.8 103.9,282.3 104.2,279.1 104.5,280.0 104.7,283.2 105.0,280.7 105.3,281.0 105.6,287.0 105.8,284.8 106.1,284.7 106.4,284.0 106.6,283.9 106.9,286.7 107.2,282.6 107.5,288.0 107.7,280.2 108.0,282.2 108.3,279.1 108.5,282.0 108.8,284.5 109.1,287.2 109.4,281.3 109.6,283.3 109.9,282.3 110.2,281.3 110.5,280.1 110.7,283.7 111.0,278.7 111.3,283.9 111.5,283.7 111.8,281.9 112.1,281.0 112.4,280.0 112.6,289.1 112.9,280.2 113.2,288.3 113.4,285.7 113.7,283.0 114.0,280.8 114.3,287.0 114.5,289.0 114.8,281.5 115.1,283.3 115.3,287.1 115.6,285.2 115.9,289.9 116.2,282.7 116.4,285.8 116.7,280.8 117.0,290.2 117.3,282.3 117.5,278.4 117.8,284.1 118.1,284.1 118.3,289.9 118.6,283.6 118.9,284.5 119.2,286.2 119.4,289.0 119.7,284.4 120.0,287.6 120.2,286.1 120.5,283.9 120.8,284.9 121.1,284.8 121.3,282.2 121.6,288.2 121.9,281.0 122.1,288.1 122.4,287.6 122.7,284.7 123.0,282.8 123.2,284.3 123.5,286.3 123.8,287.1 124.1,285.9 124.3,287.9 124.6,283.5 124.9,285.8 125.1,280.8 125.4,287.3 125.7,285.6 126.0,284.1 126.2,288.5 126.5,287.2 126.8,279.3 127.0,285.4 127.3,281.3 127.6,288.4 127.9,291.4 128.1,284.0 128.4,285.7 128.7,284.8 128.9,286.5 129.2,287.4 129.5,289.2 129.8,282.8 130.0,290.0 130.3,283.0 130.6,286.5 130.9,289.0 131.1,287.7 131.4,283.1 131.7,283.8 131.9,284.5 132.2,285.7 132.5,289.1 132.8,282.3 133.0,287.2 133.3,287.7 133.6,287.5 133.8,287.3 134.1,290.2 134.4,287.4 134.7,288.4 134.9,287.6 135.2,291.1 135.5,280.7 135.7,289.7 136.0,285.4 136.3,285.3 136.6,283.4 136.8,280.9 137.1,285.1 137.4,284.2 137.7,287.6 137.9,282.1 138.2,290.2 138.5,287.0 138.7,285.5 139.0,284.3 139.3,284.1 139.6,283.1 139.8,284.8 140.1,286.3 140.4,285.8 140.6,282.4 140.9,285.6 141.2,283.9 141.5,286.8 141.7,291.6 142.0,288.2 142.3,285.6 142.5,281.9 142.8,282.5 143.1,281.7 143.4,288.5 143.6,284.4 143.9,286.7 144.2,284.8 144.5,286.8 144.7,290.5 145.0,284.7 145.3,285.6 145.5,284.3 145.8,289.1 146.1,283.8 146.4,283.5 146.6,282.8 146.9,282.7 147.2,288.0 147.4,292.7 147.7,283.9 148.0,289.4 148.3,287.5 148.5,283.7 148.8,286.0 149.1,286.1 149.3,284.9 149.6,292.2 149.9,281.5 150.2,287.9 150.4,287.8 150.7,285.3 151.0,287.3 151.3,289.4 151.5,287.3 151.8,288.1 152.1,288.9 152.3,281.3 152.6,291.1 152.9,293.0 153.2,289.8 153.4,289.9 153.7,283.1 154.0,286.7 154.2,284.8 154.5,285.4 154.8,289.8 155.1,284.9 155.3,286.8 155.6,281.8 155.9,286.7 156.1,287.4 156.4,285.2 156.7,285.2 157.0,292.5 157.2,283.8 157.5,284.3 157.8,285.0 158.1,290.6 158.3,293.2 158.6,288.2 158.9,285.3 159.1,286.1 159.4,290.3 159.7,284.8 160.0,291.4 160.2,291.3 160.5,287.6 160.8,289.2 161.0,289.5 161.3,291.8 161.6,284.5 161.9,290.8 162.1,286.4 162.4,285.3 162.7,287.8 162.9,286.9 163.2,284.7 163.5,283.0 163.8,284.9 164.0,291.6 164.3,293.0 164.6,289.4 164.9,290.9 165.1,286.1 165.4,287.4 165.7,288.4 165.9,284.6 166.2,284.8 166.5,287.9 166.8,286.7 167.0,284.7 167.3,288.7 167.6,286.9 167.8,290.5 168.1,287.7 168.4,286.9 168.7,288.1 168.9,287.2 169.2,285.9 169.5,286.6 169.7,289.9 170.0,289.6 170.3,291.4 170.6,283.0 170.8,286.7 171.1,286.6 171.4,288.3 171.7,286.6 171.9,286.4 172.2,290.0 172.5,288.4 172.7,284.6 173.0,291.6 173.3,290.7 173.6,286.3 173.8,290.2 174.1,285.8 174.4,291.1 174.6,287.3 174.9,285.7 175.2,286.9 175.5,285.8 175.7,288.5 176.0,288.5 176.3,288.1 176.5,286.4 176.8,282.0 177.1,288.3 177.4,282.7 177.6,288.7 177.9,291.2 178.2,288.8 178.5,286.9 178.7,287.5 179.0,287.7 179.3,286.5 179.5,286.4 179.8,285.5 180.1,291.4 180.4,288.0 180.6,290.8 180.9,287.4 181.2,288.3 181.4,287.6 181.7,289.4 182.0,290.4 182.3,288.8 182.5,286.2 182.8,285.9 183.1,292.7 183.3,287.3 183.6,287.3 183.9,292.2 184.2,291.1 184.4,289.6 184.7,287.0 185.0,294.1 185.3,289.2 185.5,289.6 185.8,287.6 186.1,284.1 186.3,284.3 186.6,289.2 186.9,289.2 187.2,287.4 187.4,284.8 187.7,284.0 188.0,287.1 188.2,284.0 188.5,290.5 188.8,291.2 189.1,294.0 189.3,290.4 189.6,286.3 189.9,285.5 190.1,281.9 190.4,286.3 190.7,287.4 191.0,290.6 191.2,289.6 191.5,289.5 191.8,288.4 192.1,289.7 192.3,291.9 192.6,284.8 192.9,286.5 193.1,283.8 193.4,292.2 193.7,291.3 194.0,289.8 194.2,284.3 194.5,288.1 194.8,286.9 195.0,287.8 195.3,287.0 195.6,288.9 195.9,286.4 196.1,289.8 196.4,288.1 196.7,286.5 196.9,287.0 197.2,286.1 197.5,289.5 197.8,286.4 198.0,288.0 198.3,286.0 198.6,282.9 198.9,289.6 199.1,284.0 199.4,288.8 199.7,288.1 199.9,282.2 200.2,284.1 200.5,285.3 200.8,284.4 201.0,283.3 201.3,288.6 201.6,285.8 201.8,287.5 202.1,285.2 202.4,287.2 202.7,284.1 202.9,286.1 203.2,287.7 203.5,286.1 203.7,284.7 204.0,282.8 204.3,286.2 204.6,286.6 204.8,284.9 205.1,283.3 205.4,286.9 205.7,291.3 205.9,284.3 206.2,286.0 206.5,286.0 206.7,278.8 207.0,285.1 207.3,282.6 207.6,288.3 207.8,283.6 208.1,281.9 208.4,283.3 208.6,284.2 208.9,282.0 209.2,283.2 209.5,279.4 209.7,282.3 210.0,284.9 210.3,287.9 210.5,284.1 210.8,282.5 211.1,284.7 211.4,283.9 211.6,285.3 211.9,283.1 212.2,279.2 212.5,279.6 212.7,278.6 213.0,278.1 213.3,276.7 213.5,272.6 213.8,267.3 214.1,269.3 214.4,263.0 214.6,265.8 214.9,261.9 215.2,252.7 215.4,253.9 215.7,248.1 216.0,238.7 216.3,234.9 216.5,226.5 216.8,208.3 217.1,204.8 217.3,193.8 217.6,185.5 217.9,180.7 218.2,172.7 218.4,173.1 218.7,175.8 219.0,182.3 219.3,192.4 219.5,198.0 219.8,208.9 220.1,223.0 220.3,230.2 220.6,239.7 220.9,240.7 221.2,250.1 221.4,256.2 221.7,262.4 222.0,264.4 222.2,271.7 222.5,271.5 222.8,273.7 223.1,275.4 223.3,278.6 223.6,276.5 223.9,281.9 224.1,280.8 224.4,280.6 224.7,280.9 225.0,282.8 225.2,284.6 225.5,284.8 225.8,283.6 226.1,285.4 226.3,283.6 226.6,287.1 226.9,283.8 227.1,278.3 227.4,288.1 227.7,284.9 228.0,281.5 228.2,284.4 228.5,282.7 228.8,291.2 229.0,286.9 229.3,281.3 229.6,287.4 229.9,284.9 230.1,291.6 230.4,283.4 230.7,280.5 230.9,286.8 231.2,285.8 231.5,285.7 231.8,281.0 232.0,288.3 232.3,292.0 232.6,282.0 232.9,290.8 233.1,286.0 233.4,293.7 233.7,289.0 233.9,287.4 234.2,291.1 234.5,289.6 234.8,286.5 235.0,290.3 235.3,286.9 235.6,283.4 235.8,294.2 236.1,287.6 236.4,287.0 236.7,289.7 236.9,284.4 237.2,285.1 237.5,287.5 237.7,287.5 238.0,289.2 238.3,292.2 238.6,287.8 238.8,290.6 239.1,290.9 239.4,286.2 239.7,289.9 239.9,286.7 240.2,292.3 240.5,290.6 240.7,289.4 241.0,285.6 241.3,289.6 241.6,287.2 241.8,291.2 242.1,288.9 242.4,286.9 242.6,291.6 242.9,290.9 243.2,287.1 243.5,291.8 243.7,287.5 244.0,287.1 244.3,287.9 244.5,285.0 244.8,285.3 245.1,285.3 245.4,289.2 245.6,288.2 245.9,282.1 246.2,286.1 246.5,280.0 246.7,279.6 247.0,279.4 247.3,276.0 247.5,279.4 247.8,272.4 248.1,266.9 248.4,272.8 248.6,267.2 248.9,267.3 249.2,262.5 249.4,272.1 249.7,272.8 250.0,274.3 250.3,276.6 250.5,280.4 250.8,277.4 251.1,281.9 251.3,278.8 251.6,281.4 251.9,286.8 252.2,286.1 252.4,282.4 252.7,288.0 253.0,287.3 253.3,286.2 253.5,290.3 253.8,288.4 254.1,285.6 254.3,287.2 254.6,295.6 254.9,286.6 255.2,291.7 255.4,293.0 255.7,293.3 256.0,288.2 256.2,290.9 256.5,292.3 256.8,294.2 257.1,290.3 257.3,288.9 257.6,295.1 257.9,295.5 258.1,293.5 258.4,290.8 258.7,293.7 259.0,293.0 259.2,295.1 259.5,289.3 259.8,293.2 260.1,292.5 260.3,289.9 260.6,293.6 260.9,293.2 261.1,292.0 261.4,294.3 261.7,289.3 262.0,293.1 262.2,294.5 262.5,294.2 262.8,296.4 263.0,290.1 263.3,289.2 263.6,294.1 263.9,294.8 264.1,299.4 264.4,295.2 264.7,291.1 264.9,295.8 265.2,291.2 265.5,289.4 265.8,299.6 266.0,294.5 266.3,295.6 266.6,295.2 266.9,298.7 267.1,294.5 267.4,297.1 267.7,290.8 267.9,289.8 268.2,297.7 268.5,297.9 268.8,295.2 269.0,294.4 269.3,294.3 269.6,291.9 269.8,298.1 270.1,295.7 270.4,295.3 270.7,294.9 270.9,296.8 271.2,295.3 271.5,296.0 271.7,290.6 272.0,295.3 272.3,299.9 272.6,292.5 272.8,293.6 273.1,296.4 273.4,296.6 273.7,295.7 273.9,289.4 274.2,295.4 274.5,290.7 274.7,291.7 275.0,295.5 275.3,293.2 275.6,296.3 275.8,300.0 276.1,296.2 276.4,296.1 276.6,291.6 276.9,292.3 277.2,291.1 277.5,292.6 277.7,291.0 278.0,292.3 278.3,293.5 278.5,291.3 278.8,290.2 279.1,290.3 279.4,295.4 279.6,294.3 279.9,297.0 280.2,297.1 280.5,293.2 280.7,296.1 281.0,290.2 281.3,300.2 281.5,297.6 281.8,293.6 282.1,291.0 282.4,295.3 282.6,289.0 282.9,292.1 283.2,296.3 283.4,294.5 283.7,292.9 284.0,296.9 284.3,291.4 284.5,295.1 284.8,292.9 285.1,291.9 285.3,295.6 285.6,291.5 285.9,299.6 286.2,292.7 286.4,299.9 286.7,291.3 287.0,296.0 287.3,291.0 287.5,290.6 287.8,294.8 288.1,296.3 288.3,290.8 288.6,297.7 288.9,292.2 289.2,294.8 289.4,295.5 289.7,296.1 290.0,289.4 290.2,299.0 290.5,296.0 290.8,293.2 291.1,291.6 291.3,289.7 291.6,290.6 291.9,296.0 292.1,293.5 292.4,291.3 292.7,293.0 293.0,298.9 293.2,293.6 293.5,292.9 293.8,298.3 294.1,295.8 294.3,294.6 294.6,292.8 294.9,290.2 295.1,291.3 295.4,293.2 295.7,293.9 296.0,295.5 296.2,296.1 296.5,295.2 296.8,295.2 297.0,291.8 297.3,288.6 297.6,293.1 297.9,291.9 298.1,292.8 298.4,293.8 298.7,291.1 298.9,291.5 299.2,294.3 299.5,294.9 299.8,292.8 300.0,296.0 300.3,294.0 300.6,291.8 300.9,294.8 301.1,299.9 301.4,292.8 301.7,297.9 301.9,298.5 302.2,298.9 302.5,292.4 302.8,300.3 303.0,295.0 303.3,294.0 303.6,294.0 303.8,296.4 304.1,294.8 304.4,294.2 304.7,298.3 304.9,292.7 305.2,291.8 305.5,296.9 305.7,296.7 306.0,297.8 306.3,291.7 306.6,297.8 306.8,296.1 307.1,299.7 307.4,291.2 307.7,295.4 307.9,294.0 308.2,290.3 308.5,292.7 308.7,297.9 309.0,293.4 309.3,292.7 309.6,297.2 309.8,297.5 310.1,297.5 310.4,292.5 310.6,294.6 310.9,297.6 311.2,292.9 311.5,292.7 311.7,297.1 312.0,299.1 312.3,291.5 312.5,288.8 312.8,290.7 313.1,291.9 313.4,294.4 313.6,296.5 313.9,294.3 314.2,292.8 314.5,295.2 314.7,292.0 315.0,294.6 315.3,292.9 315.5,300.7 315.8,297.0 316.1,292.4 316.4,291.9 316.6,293.5 316.9,290.1 317.2,292.6 317.4,292.6 317.7,297.1 318.0,293.5 318.3,292.4 318.5,290.9 318.8,291.3 319.1,294.4 319.3,294.0 319.6,297.8 319.9,292.8 320.2,297.5 320.4,295.3 320.7,294.5 321.0,288.9 321.3,290.9 321.5,296.6 321.8,298.4 322.1,295.0 322.3,296.6 322.6,293.3 322.9,293.3 323.2,292.5 323.4,297.1 323.7,295.3 324.0,293.6 324.2,293.4 324.5,295.8 324.8,295.1 325.1,291.9 325.3,299.0 325.6,294.9 325.9,294.1 326.1,298.2 326.4,296.9 326.7,293.8 327.0,295.5 327.2,291.0 327.5,292.1 327.8,287.9 328.1,297.3 328.3,288.5 328.6,295.7 328.9,291.4 329.1,291.0 329.4,293.1 329.7,294.4 330.0,295.3 330.2,298.5 330.5,294.5 330.8,295.9 331.0,291.7 331.3,295.3 331.6,293.7 331.9,291.9 332.1,292.9 332.4,292.9 332.7,293.6 332.9,294.1 333.2,291.5 333.5,290.8 333.8,294.8 334.0,287.9 334.3,290.9 334.6,296.9 334.9,286.4 335.1,290.4 335.4,294.2 335.7,287.5 335.9,298.1 336.2,286.0 336.5,295.9 336.8,296.1 337.0,294.2 337.3,290.9 337.6,292.3 337.8,288.7 338.1,293.3 338.4,287.7 338.7,289.9 338.9,293.3 339.2,287.1 339.5,289.0 339.7,290.2 340.0,285.7 340.3,292.3 340.6,289.6 340.8,283.9 341.1,287.4 341.4,284.7 341.7,284.3 341.9,285.4 342.2,282.1 342.5,285.5 342.7,279.3 343.0,282.3 343.3,277.4 343.6,277.6 343.8,271.2 344.1,268.5 344.4,263.6 344.6,265.2 344.9,262.8 345.2,262.6 345.5,256.8 345.7,250.7 346.0,246.6 346.3,246.0 346.5,243.4 346.8,247.1 347.1,246.1 347.4,242.6 347.6,245.2 347.9,253.8 348.2,254.1 348.5,256.0 348.7,263.5 349.0,262.5 349.3,266.1 349.5,268.6 349.8,267.2 350.1,277.7 350.4,274.2 350.6,278.0 350.9,279.2 351.2,284.8 351.4,283.9 351.7,285.2 352.0,281.4 352.3,286.7 352.5,283.5 352.8,289.0 353.1,289.7 353.3,289.0 353.6,295.2 353.9,291.3 354.2,291.7 354.4,290.7 354.7,290.0 355.0,293.4 355.3,294.0 355.5,287.5 355.8,294.2 356.1,292.8 356.3,294.2 356.6,293.0 356.9,288.3 357.2,288.6 357.4,297.1 357.7,292.8 358.0,288.3 358.2,293.3 358.5,291.4 358.8,287.4 359.1,286.6 359.3,288.2 359.6,293.5 359.9,292.7 360.1,292.2 360.4,293.8 360.7,294.7 361.0,287.2 361.2,292.3 361.5,290.9 361.8,289.9 362.1,291.8 362.3,293.1 362.6,292.7 362.9,289.5 363.1,292.2 363.4,299.3 363.7,290.7 364.0,289.0 364.2,294.6 364.5,295.5 364.8,295.2 365.0,290.8 365.3,296.8 365.6,291.8 365.9,290.9 366.1,292.4 366.4,293.8 366.7,296.2 366.9,295.9 367.2,294.2 367.5,296.9 367.8,294.5 368.0,296.8 368.3,290.4 368.6,290.0 368.9,296.6 369.1,290.6 369.4,293.6 369.7,294.2 369.9,293.2 370.2,293.3 370.5,298.5 370.8,288.6 371.0,297.1 371.3,300.6 371.6,294.7 371.8,294.6 372.1,296.7 372.4,299.8 372.7,291.4 372.9,295.0 373.2,294.2 373.5,296.4 373.7,295.2 374.0,296.7 374.3,293.6 374.6,295.0 374.8,293.0 375.1,293.0 375.4,294.5 375.7,294.5 375.9,291.6 376.2,299.3 376.5,294.5 376.7,291.0 377.0,298.0 377.3,292.8 377.6,296.3 377.8,294.9 378.1,295.6 378.4,295.4 378.6,293.3 378.9,295.0 379.2,300.6 379.5,288.9 379.7,295.1 380.0,296.1 380.3,291.9 380.5,291.0 380.8,300.9 381.1,293.8 381.4,300.7 381.6,296.4 381.9,295.1 382.2,296.2 382.5,296.6 382.7,298.1 383.0,296.0 383.3,295.2 383.5,295.3 383.8,298.5 384.1,297.0 384.4,291.9 384.6,292.9 384.9,295.6 385.2,292.9 385.4,293.6 385.7,291.9 386.0,293.9 386.3,295.8 386.5,297.3 386.8,294.6 387.1,300.3 387.3,294.3 387.6,300.4 387.9,297.2 388.2,295.8 388.4,293.0 388.7,288.3 389.0,293.9 389.3,294.8 389.5,299.6 389.8,290.3 390.1,299.5 390.3,293.4 390.6,296.1 390.9,288.1 391.2,294.4 391.4,293.0 391.7,295.8 392.0,294.1 392.2,290.6 392.5,296.4 392.8,295.7 393.1,295.4 393.3,296.5 393.6,296.7 393.9,293.5 394.1,289.7 394.4,289.5 394.7,297.1 395.0,295.3 395.2,293.5 395.5,292.0 395.8,293.2 396.1,293.1 396.3,292.0 396.6,290.9 396.9,298.8 397.1,293.3 397.4,290.9 397.7,288.8 398.0,290.3 398.2,294.3 398.5,294.3 398.8,291.4 399.0,292.0 399.3,290.8 399.6,288.4 399.9,294.9 400.1,292.1 400.4,296.8 400.7,288.4 400.9,289.8 401.2,292.2 401.5,288.6 401.8,284.9 402.0,285.5 402.3,287.7 402.6,287.6 402.9,285.4 403.1,287.5 403.4,286.2 403.7,283.1 403.9,280.8 404.2,278.4 404.5,279.0 404.8,278.2 405.0,273.9 405.3,273.0 405.6,268.9 405.8,263.9 406.1,263.2 406.4,266.5 406.7,264.3 406.9,266.6 407.2,261.8 407.5,264.0 407.7,265.8 408.0,265.8 408.3,262.7 408.6,265.4 408.8,268.1 409.1,266.9 409.4,273.0 409.7,276.5 409.9,274.2 410.2,282.8 410.5,278.2 410.7,280.0 411.0,281.3 411.3,281.3 411.6,285.6 411.8,285.6 412.1,291.1 412.4,288.9 412.6,289.4 412.9,287.9 413.2,285.0 413.5,289.2 413.7,287.4 414.0,292.8 414.3,290.3 414.5,295.3 414.8,292.8 415.1,293.3 415.4,291.7 415.6,291.7 415.9,293.1 416.2,293.9 416.5,289.3 416.7,292.7 417.0,297.3 417.3,291.1 417.5,290.5 417.8,289.3 418.1,287.1 418.4,294.3 418.6,291.0 418.9,291.6 419.2,295.7 419.4,296.4 419.7,287.7 420.0,292.9 420.3,291.4 420.5,290.5 420.8,290.5 421.1,288.8 421.3,293.0 421.6,290.0 421.9,288.9 422.2,291.2 422.4,289.9 422.7,288.4 423.0,287.8 423.3,291.6 423.5,288.0 423.8,286.2 424.1,284.0 424.3,285.5 424.6,283.6 424.9,286.9 425.2,287.5 425.4,281.3 425.7,287.4 426.0,289.5 426.2,288.4 426.5,285.7 426.8,292.3 427.1,287.1 427.3,286.0 427.6,286.8 427.9,290.2 428.1,293.4 428.4,294.2 428.7,291.9 429.0,288.3 429.2,290.1 429.5,289.7 429.8,292.0 430.1,287.8 430.3,293.3 430.6,295.0 430.9,293.0 431.1,294.9 431.4,291.1 431.7,289.8 432.0,292.2 432.2,297.4 432.5,297.1 432.8,293.1 433.0,297.8 433.3,293.6 433.6,298.9 433.9,296.0 434.1,293.5 434.4,297.0 434.7,292.7 434.9,292.3 435.2,290.9 435.5,295.7 435.8,294.9 436.0,294.9 436.3,294.0 436.6,299.2 436.9,294.0 437.1,293.2 437.4,298.7 437.7,299.2 437.9,296.2 438.2,290.4 438.5,293.6 438.8,297.1 439.0,295.4 439.3,299.7 439.6,291.6 439.8,297.3 440.1,293.7 440.4,299.1 440.7,295.2 440.9,298.4 441.2,293.7 441.5,291.6 441.7,292.4 442.0,293.8 442.3,292.7 442.6,298.9 442.8,299.3 443.1,296.3 443.4,292.7 443.7,295.3 443.9,293.7 444.2,299.7 444.5,296.5 444.7,297.0 445.0,294.5 445.3,290.0 445.6,293.5 445.8,292.5 446.1,296.7 446.4,295.9 446.6,293.4 446.9,294.6 447.2,300.1 447.5,293.0 447.7,293.1 448.0,295.1 448.3,293.8 448.5,294.5 448.8,297.2 449.1,300.6 449.4,290.8 449.6,295.7 449.9,295.9 450.2,295.5 450.5,295.2 450.7,294.8 451.0,298.6 451.3,294.5 451.5,295.4 451.8,295.8 452.1,296.1 452.4,295.3 452.6,298.6 452.9,295.8 453.2,296.3 453.4,295.6 453.7,293.0 454.0,293.5 454.3,292.9 454.5,296.3 454.8,293.8 455.1,292.8 455.3,296.5 455.6,297.3 455.9,290.9 456.2,300.5 456.4,295.9 456.7,295.5 457.0,298.8 457.3,296.0 457.5,294.1 457.8,301.8 458.1,292.8 458.3,295.6 458.6,298.2 458.9,292.8 459.2,295.5 459.4,296.9 459.7,301.8 460.0,293.3 460.2,295.7 460.5,297.7 460.8,296.1 461.1,292.5 461.3,297.0 461.6,296.1 461.9,297.1 462.1,299.0 462.4,298.7 462.7,297.0 463.0,296.7 463.2,292.8 463.5,295.5 463.8,296.5 464.1,294.7 464.3,296.1 464.6,293.5 464.9,300.1 465.1,301.8 465.4,294.8 465.7,297.0 466.0,295.2 466.2,299.4 466.5,297.1 466.8,296.1 467.0,295.2 467.3,296.2 467.6,293.0 467.9,297.7 468.1,293.8 468.4,297.3 468.7,296.2 468.9,298.9 469.2,295.8 469.5,298.7 469.8,293.3 470.0,297.5 470.3,295.2 470.6,296.4 470.9,296.0 471.1,298.5 471.4,290.2 471.7,296.7 471.9,291.6 472.2,299.2 472.5,290.3 472.8,293.0 473.0,291.1 473.3,300.4 473.6,292.2 473.8,296.1 474.1,294.3 474.4,290.8 474.7,294.9 474.9,297.7 475.2,295.3 475.5,298.4 475.7,294.8 476.0,295.8 476.3,294.7 476.6,296.7 476.8,301.1 477.1,296.8 477.4,296.3 477.7,294.0 477.9,293.6 478.2,299.8 478.5,292.6 478.7,293.2 479.0,295.5 479.3,294.5 479.6,301.2 479.8,289.7 480.1,296.7 480.4,297.7 480.6,292.5 480.9,293.9 481.2,296.9 481.5,300.2 481.7,293.0 482.0,291.2 482.3,298.3 482.5,299.8 482.8,294.6 483.1,289.5 483.4,299.6 483.6,294.9 483.9,298.6 484.2,295.3 484.5,294.3 484.7,294.1 485.0,299.4 485.3,299.3 485.5,289.2 485.8,292.5 486.1,300.1 486.4,294.0 486.6,291.2 486.9,294.9 487.2,294.5 487.4,294.4 487.7,293.3 488.0,293.6 488.3,293.1 488.5,295.2 488.8,291.8 489.1,293.2 489.3,293.4 489.6,297.3 489.9,294.6 490.2,293.0 490.4,294.7 490.7,294.1 491.0,295.8 491.3,294.0 491.5,297.4 491.8,295.9 492.1,291.8 492.3,290.6 492.6,294.0 492.9,292.8 493.2,290.9 493.4,286.8 493.7,285.6 494.0,291.6 494.2,292.6 494.5,292.5 494.8,286.6 495.1,293.0 495.3,288.6 495.6,291.1 495.9,291.2 496.1,287.8 496.4,288.5 496.7,284.4 497.0,287.7 497.2,285.4 497.5,291.8 497.8,290.9 498.1,293.5 498.3,292.1 498.6,289.5 498.9,292.5 499.1,290.6 499.4,293.7 499.7,293.0 500.0,289.6 500.2,292.6 500.5,292.9 500.8,292.1 501.0,295.7 501.3,298.1 501.6,292.5 501.9,292.7 502.1,287.8 502.4,293.6 502.7,292.9 502.9,288.3 503.2,295.2 503.5,296.2 503.8,292.6 504.0,293.7 504.3,292.1 504.6,297.0 504.9,290.7 505.1,294.2 505.4,300.6 505.7,295.3 505.9,296.5 506.2,294.9 506.5,292.0 506.8,295.3 507.0,296.5 507.3,292.6 507.6,296.4 507.8,299.0 508.1,298.5 508.4,291.1 508.7,292.8 508.9,291.1 509.2,298.6 509.5,297.3 509.7,297.6 510.0,293.2 510.3,292.4 510.6,295.9 510.8,296.0 511.1,293.3 511.4,296.1 511.7,297.5 511.9,296.4 512.2,292.8 512.5,289.8 512.7,295.0 513.0,296.2 513.3,295.0 513.6,294.6 513.8,293.8 514.1,297.8 514.4,295.6 514.6,296.1 514.9,293.1 515.2,294.0 515.5,296.2 515.7,293.0 516.0,292.3 516.3,294.9 516.5,299.2 516.8,296.3 517.1,299.9 517.4,295.4 517.6,294.9 517.9,291.9 518.2,294.2 518.5,299.8 518.7,296.7 519.0,297.9 519.3,297.8 519.5,295.8 519.8,295.2 520.1,296.1 520.4,297.7 520.6,297.1 520.9,297.2 521.2,296.2 521.4,293.6 521.7,295.1 522.0,293.2 522.3,298.6 522.5,289.9 522.8,295.2 523.1,301.8 523.3,294.8 523.6,292.6 523.9,295.7 524.2,299.4 524.4,295.3 524.7,297.5 525.0,296.0 525.3,294.7 525.5,301.7 525.8,295.9 526.1,294.2 526.3,294.3 526.6,296.8 526.9,296.8 527.2,297.9 527.4,296.1 527.7,291.7 528.0,297.2 528.2,294.8 528.5,294.8 528.8,291.5 529.1,294.0 529.3,293.6 529.6,295.5 529.9,291.5 530.1,295.7 530.4,295.9 530.7,292.4 531.0,293.8 531.2,293.1 531.5,298.0 531.8,289.5 532.1,294.5 532.3,290.8 532.6,294.2 532.9,297.7 533.1,293.6 533.4,295.7 533.7,292.9 534.0,300.7 534.2,297.8 534.5,298.3 534.8,291.4 535.0,292.0 535.3,298.0 535.6,294.4 535.9,294.1 536.1,295.7 536.4,291.2 536.7,296.7 536.9,294.5 537.2,295.7 537.5,292.3 537.8,295.5 538.0,292.0 538.3,296.4 538.6,296.7 538.9,295.9 539.1,294.6 539.4,294.7 539.7,286.7 539.9,294.8 540.2,291.4 540.5,292.1 540.8,290.7 541.0,287.3 541.3,289.3 541.6,292.3 541.8,294.1 542.1,288.0 542.4,286.8 542.7,293.1 542.9,286.1 543.2,294.0 543.5,288.0 543.7,285.0 544.0,289.9 544.3,291.5 544.6,282.5 544.8,290.6 545.1,285.2 545.4,290.0 545.7,284.6 545.9,281.2 546.2,287.0 546.5,288.2 546.7,291.6 547.0,290.7 547.3,287.9 547.6,285.5 547.8,285.0 548.1,285.9 548.4,284.7 548.6,286.5 548.9,281.6 549.2,288.4 549.5,288.1 549.7,294.5 550.0,290.9 550.3,287.7 550.5,290.8 550.8,286.0 551.1,288.0 551.4,284.6 551.6,294.0 551.9,291.7 552.2,286.8 552.5,290.0 552.7,292.9 553.0,291.6 553.3,291.2 553.5,287.7 553.8,288.2 554.1,290.1 554.4,292.3 554.6,287.2 554.9,286.2 555.2,292.3 555.4,286.3 555.7,291.6 556.0,289.0 556.3,290.6 556.5,292.7 556.8,289.5 557.1,289.5 557.3,284.6 557.6,285.0 557.9,288.6 558.2,291.0 558.4,290.5 558.7,292.6 559.0,287.4 559.3,287.2 559.5,289.5 559.8,286.9 560.1,286.9 560.3,284.3 560.6,290.3 560.9,284.8 561.2,289.6 561.4,284.5 561.7,291.9 562.0,286.3 562.2,291.8 562.5,285.4 562.8,289.0 563.1,293.8 563.3,288.6 563.6,291.4 563.9,290.2 564.1,285.8 564.4,293.0 564.7,293.6 565.0,289.5 565.2,294.5 565.5,290.9 565.8,290.5 566.1,293.6 566.3,291.8 566.6,299.9 566.9,289.7 567.1,296.3 567.4,297.1 567.7,288.9 568.0,289.7 568.2,296.3 568.5,293.4 568.8,296.0 569.0,298.1 569.3,294.0 569.6,292.1 569.9,289.2 570.1,295.8 570.4,292.7 570.7,296.2 570.9,296.0 571.2,291.5 571.5,300.2 571.8,298.5 572.0,297.8 572.3,292.2 572.6,294.4 572.9,294.0 573.1,294.4 573.4,292.4 573.7,296.8 573.9,296.3 574.2,296.7 574.5,294.2 574.8,299.3 575.0,296.2 575.3,289.7 575.6,293.9 575.8,295.6 576.1,298.4 576.4,294.9 576.7,295.0 576.9,293.9 577.2,297.6 577.5,294.5 577.7,294.1 578.0,293.7 578.3,297.4 578.6,294.3 578.8,291.1 579.1,297.6 579.4,293.9 579.7,296.8 579.9,296.9 580.2,299.2 580.5,298.8 580.7,294.2 581.0,295.4 581.3,292.2 581.6,300.6 581.8,297.1 582.1,299.8 582.4,295.0 582.6,290.1 582.9,300.2 583.2,296.1 583.5,296.3 583.7,296.0 584.0,297.7 584.3,297.4 584.5,291.4 584.8,298.9 585.1,294.4 585.4,294.6 585.6,300.7 585.9,298.5 586.2,295.0 586.5,290.7 586.7,296.4 587.0,297.4 587.3,295.7 587.5,292.4 587.8,293.7 588.1,292.4 588.4,296.5 588.6,298.2 588.9,298.8 589.2,293.9 589.4,296.6 589.7,297.5 590.0,294.5 590.3,295.5 590.5,301.8 590.8,296.5 591.1,298.4 591.3,294.7 591.6,296.0 591.9,291.1 592.2,295.8 592.4,299.2 592.7,301.7 593.0,299.2 593.3,297.8 593.5,296.0 593.8,294.2 594.1,295.4 594.3,297.6 594.6,293.6 594.9,298.4 595.2,293.1 595.4,290.8 595.7,293.0 596.0,291.1 596.2,292.0 596.5,299.0 596.8,295.2 597.1,296.4 597.3,299.0 597.6,299.3 597.9,294.3 598.1,299.5 598.4,296.8 598.7,295.7 599.0,296.9 599.2,291.7 599.5,293.5 599.8,295.3 600.1,297.3 600.3,294.6 600.6,295.2 600.9,298.3 601.1,299.5 601.4,297.7 601.7,299.1 602.0,294.3 602.2,294.6 602.5,296.3 602.8,294.5 603.0,293.9 603.3,300.0 603.6,294.7 603.9,292.5 604.1,296.6 604.4,300.3 604.7,295.3 604.9,298.5 605.2,293.8 605.5,293.6 605.8,293.0 606.0,294.4 606.3,299.9 606.6,291.5 606.9,299.2 607.1,291.7 607.4,293.8 607.7,296.7 607.9,296.1 608.2,295.0 608.5,289.5 608.8,295.0 609.0,291.1 609.3,299.8 609.6,293.1 609.8,294.1 610.1,290.3 610.4,292.0 610.7,289.6 610.9,295.8 611.2,292.2 611.5,294.4 611.7,290.7 612.0,291.1 612.3,295.9 612.6,289.4 612.8,286.9 613.1,293.0 613.4,288.5 613.7,290.2 613.9,293.8 614.2,288.8 614.5,293.4 614.7,288.8 615.0,294.7 615.3,294.1 615.6,288.9 615.8,289.4 616.1,287.5 616.4,290.2 616.6,292.6 616.9,285.2 617.2,291.6 617.5,285.2 617.7,286.3 618.0,283.6 618.3,294.3 618.5,288.4 618.8,288.8 619.1,286.1 619.4,290.9 619.6,281.9 619.9,287.7 620.2,293.6 620.5,286.5 620.7,287.5 621.0,289.3 621.3,285.1 621.5,287.5 621.8,290.1 622.1,288.0 622.4,288.5 622.6,286.6 622.9,288.5 623.2,287.8 623.4,291.9 623.7,289.9 624.0,287.3 624.3,282.1 624.5,290.3 624.8,290.5 625.1,286.0 625.3,283.2 625.6,285.7 625.9,291.7 626.2,286.3 626.4,288.2 626.7,290.3 627.0,293.3 627.3,290.0 627.5,289.9 627.8,288.9 628.1,295.2 628.3,293.8 628.6,290.7 628.9,287.3 629.2,289.1 629.4,293.2 629.7,289.7 630.0,294.4 630.2,293.1 630.5,293.1 630.8,294.2 631.1,294.0 631.3,290.3 631.6,292.0 631.9,299.0 632.1,289.8 632.4,292.0 632.7,296.4 633.0,293.1 633.2,291.4 633.5,290.1 633.8,295.4 634.1,296.9 634.3,298.1 634.6,294.4 634.9,297.3 635.1,291.5 635.4,295.0 635.7,292.7 636.0,295.2 636.2,296.9 636.5,297.8" fill="none" stroke="#ff0a8c" stroke-width="4.2" stroke-linejoin="round" stroke-linecap="round" />
<polyline points="92.5,454.1 92.8,454.9 93.0,454.3 93.3,454.1 93.6,454.4 93.9,454.0 94.1,454.5 94.4,454.6 94.7,454.4 94.9,454.7 95.2,454.4 95.5,454.5 95.8,454.0 96.0,454.5 96.3,454.2 96.6,454.3 96.9,454.5 97.1,454.6 97.4,453.9 97.7,453.9 97.9,454.4 98.2,454.7 98.5,454.6 98.8,454.8 99.0,454.9 99.3,454.7 99.6,454.5 99.8,454.1 100.1,454.2 100.4,454.3 100.7,454.6 100.9,454.6 101.2,454.5 101.5,454.4 101.7,454.7 102.0,454.6 102.3,454.6 102.6,454.6 102.8,454.3 103.1,454.1 103.4,454.7 103.7,454.6 103.9,454.4 104.2,454.3 104.5,455.3 104.7,454.2 105.0,454.4 105.3,454.6 105.6,454.1 105.8,454.5 106.1,455.1 106.4,454.8 106.6,454.7 106.9,454.7 107.2,454.5 107.5,454.8 107.7,454.4 108.0,454.3 108.3,454.5 108.5,454.8 108.8,454.6 109.1,454.7 109.4,453.8 109.6,454.9 109.9,455.3 110.2,454.9 110.5,454.4 110.7,454.2 111.0,454.6 111.3,454.1 111.5,454.7 111.8,454.3 112.1,454.8 112.4,454.9 112.6,453.7 112.9,454.6 113.2,454.2 113.4,454.0 113.7,454.2 114.0,454.4 114.3,454.8 114.5,453.9 114.8,454.8 115.1,455.1 115.3,454.6 115.6,454.6 115.9,454.4 116.2,454.0 116.4,454.6 116.7,454.5 117.0,454.6 117.3,455.3 117.5,454.6 117.8,454.5 118.1,454.9 118.3,453.9 118.6,453.9 118.9,454.2 119.2,454.0 119.4,454.5 119.7,454.1 120.0,454.8 120.2,454.6 120.5,454.3 120.8,453.8 121.1,454.1 121.3,454.0 121.6,453.1 121.9,453.3 122.1,452.8 122.4,450.9 122.7,445.5 123.0,429.1 123.2,396.7 123.5,358.5 123.8,339.2 124.1,358.7 124.3,396.7 124.6,429.0 124.9,445.1 125.1,451.2 125.4,452.5 125.7,452.7 126.0,454.1 126.2,453.6 126.5,454.3 126.8,454.1 127.0,454.3 127.3,454.7 127.6,454.3 127.9,454.7 128.1,453.7 128.4,454.6 128.7,454.2 128.9,454.3 129.2,454.3 129.5,454.5 129.8,454.9 130.0,453.7 130.3,454.4 130.6,454.1 130.9,454.8 131.1,454.3 131.4,454.6 131.7,454.3 131.9,454.7 132.2,454.8 132.5,454.3 132.8,454.5 133.0,453.9 133.3,454.6 133.6,454.7 133.8,454.3 134.1,454.8 134.4,453.7 134.7,453.8 134.9,454.0 135.2,454.3 135.5,454.5 135.7,454.4 136.0,454.4 136.3,454.7 136.6,454.3 136.8,454.0 137.1,454.0 137.4,455.2 137.7,453.6 137.9,454.4 138.2,455.0 138.5,454.6 138.7,454.2 139.0,454.5 139.3,454.8 139.6,454.9 139.8,454.2 140.1,454.7 140.4,454.6 140.6,454.9 140.9,455.0 141.2,454.4 141.5,454.0 141.7,454.6 142.0,455.1 142.3,454.7 142.5,454.6 142.8,455.3 143.1,454.1 143.4,454.8 143.6,454.3 143.9,454.5 144.2,454.5 144.5,455.0 144.7,454.2 145.0,454.3 145.3,453.9 145.5,454.7 145.8,454.3 146.1,454.6 146.4,454.1 146.6,454.4 146.9,454.9 147.2,454.4 147.4,454.7 147.7,454.7 148.0,454.4 148.3,453.9 148.5,454.8 148.8,454.6 149.1,454.8 149.3,453.8 149.6,453.9 149.9,453.7 150.2,454.2 150.4,454.9 150.7,454.7 151.0,454.5 151.3,454.5 151.5,454.8 151.8,454.4 152.1,454.6 152.3,454.5 152.6,453.7 152.9,454.4 153.2,455.0 153.4,454.4 153.7,454.4 154.0,454.3 154.2,454.3 154.5,454.9 154.8,454.4 155.1,454.1 155.3,453.4 155.6,454.3 155.9,453.8 156.1,453.9 156.4,454.8 156.7,454.7 157.0,453.8 157.2,454.8 157.5,454.7 157.8,454.2 158.1,454.8 158.3,453.9 158.6,454.1 158.9,454.0 159.1,454.1 159.4,454.8 159.7,454.0 160.0,454.1 160.2,454.2 160.5,454.6 160.8,454.4 161.0,454.8 161.3,454.2 161.6,454.0 161.9,454.3 162.1,454.5 162.4,454.2 162.7,454.6 162.9,455.1 163.2,454.3 163.5,454.5 163.8,455.0 164.0,454.3 164.3,454.2 164.6,454.1 164.9,454.6 165.1,454.7 165.4,454.4 165.7,454.5 165.9,454.9 166.2,454.8 166.5,454.0 166.8,454.5 167.0,454.5 167.3,454.7 167.6,454.4 167.8,454.3 168.1,454.3 168.4,453.9 168.7,454.5 168.9,454.3 169.2,454.6 169.5,454.1 169.7,454.3 170.0,454.1 170.3,454.1 170.6,454.7 170.8,454.3 171.1,454.6 171.4,454.1 171.7,454.5 171.9,453.9 172.2,454.3 172.5,454.3 172.7,454.7 173.0,454.5 173.3,454.4 173.6,454.8 173.8,454.5 174.1,454.7 174.4,454.7 174.6,454.5 174.9,454.4 175.2,454.6 175.5,454.3 175.7,454.6 176.0,454.9 176.3,454.8 176.5,454.3 176.8,454.0 177.1,454.5 177.4,454.4 177.6,454.9 177.9,454.3 178.2,454.4 178.5,454.7 178.7,454.3 179.0,454.4 179.3,455.1 179.5,455.0 179.8,454.7 180.1,454.6 180.4,454.1 180.6,454.7 180.9,454.5 181.2,454.6 181.4,454.3 181.7,454.5 182.0,454.4 182.3,454.6 182.5,455.0 182.8,454.6 183.1,453.9 183.3,454.1 183.6,453.9 183.9,454.2 184.2,454.7 184.4,454.6 184.7,454.3 185.0,454.6 185.3,454.2 185.5,454.0 185.8,454.0 186.1,454.2 186.3,455.0 186.6,454.0 186.9,454.9 187.2,454.9 187.4,454.4 187.7,454.5 188.0,454.3 188.2,454.5 188.5,454.7 188.8,454.5 189.1,454.8 189.3,454.9 189.6,454.6 189.9,454.6 190.1,454.5 190.4,454.6 190.7,454.1 191.0,454.6 191.2,454.5 191.5,454.2 191.8,455.2 192.1,454.1 192.3,454.2 192.6,454.6 192.9,453.8 193.1,454.2 193.4,453.9 193.7,454.1 194.0,454.4 194.2,454.6 194.5,454.9 194.8,454.8 195.0,454.9 195.3,454.7 195.6,454.3 195.9,454.9 196.1,454.3 196.4,454.3 196.7,455.0 196.9,454.8 197.2,454.6 197.5,454.7 197.8,454.8 198.0,454.0 198.3,454.4 198.6,454.1 198.9,454.5 199.1,454.2 199.4,454.9 199.7,454.7 199.9,454.2 200.2,454.5 200.5,454.1 200.8,454.5 201.0,454.7 201.3,454.6 201.6,453.8 201.8,454.4 202.1,454.7 202.4,454.6 202.7,454.9 202.9,454.0 203.2,454.7 203.5,454.2 203.7,454.5 204.0,454.6 204.3,454.7 204.6,454.3 204.8,454.5 205.1,454.1 205.4,454.0 205.7,454.7 205.9,454.5 206.2,453.9 206.5,454.2 206.7,454.5 207.0,455.0 207.3,454.8 207.6,454.7 207.8,453.8 208.1,454.4 208.4,454.6 208.6,454.6 208.9,454.6 209.2,454.4 209.5,455.1 209.7,455.0 210.0,454.4 210.3,454.1 210.5,455.2 210.8,454.3 211.1,454.9 211.4,455.1 211.6,454.1 211.9,454.6 212.2,454.3 212.5,454.6 212.7,454.6 213.0,455.1 213.3,454.7 213.5,454.5 213.8,454.8 214.1,454.4 214.4,454.3 214.6,455.2 214.9,454.2 215.2,454.3 215.4,454.5 215.7,454.1 216.0,453.7 216.3,454.8 216.5,454.2 216.8,454.2 217.1,454.3 217.3,454.1 217.6,454.0 217.9,454.5 218.2,455.2 218.4,454.6 218.7,454.6 219.0,453.8 219.3,454.3 219.5,453.9 219.8,454.6 220.1,454.2 220.3,454.2 220.6,454.1 220.9,453.8 221.2,453.3 221.4,453.8 221.7,452.7 222.0,452.2 222.2,451.9 222.5,451.0 222.8,450.8 223.1,450.8 223.3,450.8 223.6,451.3 223.9,452.0 224.1,452.9 224.4,452.5 224.7,453.7 225.0,453.5 225.2,453.6 225.5,454.1 225.8,454.1 226.1,454.5 226.3,454.7 226.6,453.5 226.9,454.3 227.1,455.0 227.4,454.7 227.7,454.9 228.0,454.4 228.2,453.9 228.5,454.0 228.8,454.7 229.0,454.8 229.3,454.2 229.6,454.3 229.9,454.5 230.1,453.8 230.4,454.3 230.7,455.0 230.9,455.2 231.2,454.4 231.5,455.1 231.8,454.3 232.0,454.2 232.3,453.7 232.6,454.8 232.9,454.3 233.1,455.3 233.4,454.6 233.7,454.5 233.9,453.8 234.2,455.0 234.5,454.3 234.8,454.4 235.0,453.7 235.3,454.8 235.6,454.8 235.8,454.2 236.1,454.5 236.4,454.6 236.7,454.8 236.9,454.5 237.2,455.1 237.5,454.4 237.7,454.2 238.0,454.3 238.3,453.6 238.6,454.2 238.8,454.8 239.1,454.5 239.4,454.2 239.7,454.6 239.9,453.7 240.2,454.3 240.5,454.6 240.7,454.7 241.0,454.2 241.3,454.8 241.6,455.1 241.8,454.3 242.1,454.7 242.4,453.9 242.6,453.7 242.9,454.6 243.2,454.4 243.5,454.5 243.7,454.2 244.0,454.3 244.3,454.7 244.5,455.0 244.8,454.3 245.1,453.7 245.4,454.7 245.6,454.5 245.9,454.4 246.2,454.2 246.5,454.9 246.7,454.0 247.0,454.0 247.3,453.0 247.5,453.3 247.8,453.1 248.1,453.2 248.4,453.2 248.6,452.7 248.9,453.6 249.2,452.6 249.4,452.9 249.7,453.3 250.0,452.9 250.3,453.7 250.5,453.9 250.8,453.7 251.1,454.6 251.3,454.1 251.6,454.2 251.9,453.9 252.2,453.7 252.4,454.1 252.7,454.2 253.0,454.2 253.3,454.6 253.5,453.5 253.8,454.0 254.1,453.8 254.3,454.9 254.6,454.2 254.9,454.2 255.2,454.0 255.4,454.7 255.7,454.3 256.0,454.5 256.2,453.7 256.5,454.8 256.8,454.6 257.1,454.6 257.3,454.9 257.6,454.4 257.9,454.4 258.1,454.7 258.4,454.6 258.7,454.3 259.0,454.4 259.2,454.2 259.5,454.7 259.8,454.7 260.1,454.4 260.3,455.1 260.6,453.9 260.9,454.3 261.1,455.0 261.4,454.2 261.7,453.8 262.0,454.9 262.2,454.6 262.5,453.9 262.8,454.6 263.0,453.9 263.3,453.8 263.6,454.1 263.9,454.0 264.1,453.7 264.4,453.8 264.7,453.5 264.9,453.7 265.2,453.5 265.5,453.6 265.8,453.1 266.0,452.6 266.3,452.5 266.6,452.9 266.9,453.5 267.1,453.4 267.4,453.0 267.7,453.7 267.9,453.1 268.2,454.0 268.5,453.7 268.8,454.2 269.0,454.3 269.3,454.0 269.6,454.3 269.8,453.9 270.1,454.3 270.4,454.7 270.7,455.8 270.9,454.6 271.2,454.4 271.5,454.0 271.7,454.8 272.0,453.8 272.3,454.1 272.6,454.5 272.8,454.0 273.1,455.0 273.4,454.8 273.7,454.2 273.9,454.2 274.2,454.0 274.5,454.0 274.7,454.6 275.0,454.7 275.3,454.6 275.6,454.5 275.8,454.3 276.1,454.6 276.4,453.9 276.6,454.5 276.9,455.0 277.2,454.9 277.5,454.3 277.7,454.3 278.0,454.9 278.3,455.1 278.5,453.9 278.8,454.3 279.1,454.5 279.4,454.9 279.6,454.2 279.9,454.7 280.2,454.4 280.5,455.3 280.7,454.6 281.0,454.4 281.3,454.3 281.5,454.8 281.8,454.7 282.1,454.1 282.4,454.5 282.6,454.0 282.9,454.2 283.2,454.0 283.4,454.0 283.7,454.2 284.0,454.1 284.3,454.6 284.5,454.7 284.8,454.4 285.1,454.1 285.3,454.7 285.6,453.7 285.9,453.8 286.2,454.7 286.4,454.7 286.7,454.8 287.0,454.4 287.3,454.0 287.5,454.3 287.8,454.6 288.1,454.2 288.3,454.2 288.6,453.9 288.9,454.0 289.2,454.7 289.4,454.6 289.7,454.0 290.0,454.0 290.2,454.2 290.5,454.6 290.8,454.0 291.1,454.3 291.3,453.6 291.6,453.9 291.9,454.5 292.1,454.6 292.4,453.8 292.7,453.9 293.0,454.3 293.2,453.7 293.5,453.3 293.8,453.1 294.1,452.3 294.3,451.7 294.6,450.9 294.9,450.3 295.1,450.9 295.4,451.7 295.7,452.1 296.0,452.9 296.2,454.0 296.5,453.4 296.8,454.5 297.0,454.3 297.3,454.2 297.6,454.5 297.9,454.5 298.1,454.8 298.4,454.2 298.7,454.3 298.9,454.3 299.2,455.1 299.5,454.7 299.8,454.1 300.0,454.3 300.3,454.2 300.6,454.4 300.9,454.5 301.1,455.2 301.4,453.8 301.7,454.8 301.9,454.6 302.2,454.2 302.5,454.4 302.8,454.3 303.0,454.5 303.3,454.8 303.6,453.9 303.8,454.9 304.1,454.3 304.4,455.0 304.7,454.6 304.9,454.9 305.2,454.7 305.5,454.8 305.7,454.5 306.0,454.2 306.3,454.7 306.6,454.7 306.8,455.2 307.1,453.8 307.4,454.4 307.7,454.8 307.9,454.0 308.2,454.4 308.5,455.2 308.7,455.0 309.0,454.2 309.3,455.0 309.6,454.9 309.8,454.7 310.1,454.6 310.4,454.6 310.6,454.2 310.9,454.3 311.2,454.7 311.5,454.5 311.7,455.1 312.0,454.4 312.3,453.6 312.5,454.4 312.8,454.6 313.1,454.6 313.4,454.5 313.6,454.2 313.9,455.0 314.2,454.2 314.5,454.7 314.7,454.4 315.0,454.1 315.3,455.0 315.5,453.6 315.8,454.2 316.1,454.6 316.4,454.3 316.6,454.7 316.9,454.4 317.2,454.3 317.4,455.2 317.7,454.4 318.0,454.4 318.3,454.1 318.5,454.2 318.8,454.7 319.1,454.7 319.3,454.5 319.6,454.2 319.9,454.7 320.2,453.8 320.4,454.3 320.7,454.3 321.0,454.1 321.3,454.5 321.5,454.2 321.8,454.1 322.1,455.0 322.3,454.6 322.6,454.8 322.9,454.4 323.2,454.7 323.4,454.6 323.7,454.7 324.0,455.0 324.2,454.1 324.5,454.1 324.8,453.8 325.1,452.1 325.3,451.9 325.6,450.6 325.9,448.4 326.1,445.5 326.4,444.9 326.7,446.1 327.0,448.1 327.2,451.1 327.5,453.0 327.8,453.5 328.1,453.4 328.3,454.5 328.6,454.1 328.9,454.1 329.1,454.3 329.4,454.1 329.7,454.7 330.0,454.6 330.2,454.8 330.5,454.6 330.8,454.1 331.0,454.4 331.3,454.7 331.6,454.3 331.9,455.5 332.1,454.4 332.4,454.2 332.7,454.9 332.9,454.7 333.2,454.4 333.5,454.4 333.8,454.6 334.0,454.8 334.3,454.7 334.6,454.4 334.9,454.6 335.1,454.8 335.4,454.7 335.7,453.4 335.9,454.2 336.2,454.2 336.5,454.4 336.8,454.5 337.0,454.8 337.3,454.7 337.6,454.4 337.8,454.5 338.1,455.1 338.4,454.3 338.7,454.6 338.9,455.0 339.2,454.6 339.5,453.8 339.7,454.6 340.0,454.4 340.3,454.4 340.6,454.9 340.8,454.7 341.1,454.4 341.4,454.8 341.7,454.6 341.9,454.5 342.2,454.6 342.5,454.6 342.7,454.4 343.0,454.3 343.3,454.5 343.6,454.2 343.8,454.0 344.1,454.9 344.4,454.4 344.6,454.5 344.9,454.4 345.2,454.5 345.5,454.5 345.7,454.5 346.0,454.2 346.3,454.8 346.5,454.2 346.8,454.9 347.1,453.8 347.4,454.1 347.6,454.8 347.9,454.4 348.2,454.3 348.5,454.6 348.7,454.1 349.0,454.5 349.3,453.7 349.5,454.3 349.8,454.3 350.1,454.7 350.4,454.8 350.6,454.2 350.9,455.1 351.2,454.3 351.4,453.8 351.7,453.7 352.0,455.0 352.3,454.5 352.5,454.3 352.8,454.2 353.1,454.1 353.3,455.0 353.6,454.5 353.9,455.1 354.2,454.4 354.4,453.7 354.7,454.8 355.0,454.4 355.3,454.4 355.5,455.0 355.8,454.4 356.1,454.9 356.3,454.5 356.6,454.2 356.9,454.6 357.2,454.3 357.4,454.9 357.7,454.8 358.0,454.5 358.2,454.7 358.5,454.7 358.8,454.4 359.1,454.8 359.3,454.4 359.6,454.6 359.9,454.1 360.1,454.4 360.4,454.5 360.7,454.1 361.0,454.2 361.2,454.1 361.5,454.5 361.8,454.0 362.1,454.2 362.3,454.4 362.6,453.6 362.9,452.4 363.1,452.4 363.4,451.9 363.7,451.0 364.0,451.5 364.2,451.8 364.5,452.5 364.8,452.9 365.0,453.3 365.3,453.8 365.6,454.1 365.9,454.4 366.1,454.4 366.4,454.2 366.7,454.4 366.9,454.5 367.2,453.8 367.5,454.1 367.8,454.1 368.0,454.4 368.3,454.3 368.6,454.4 368.9,454.1 369.1,454.7 369.4,454.6 369.7,453.9 369.9,454.5 370.2,454.1 370.5,455.1 370.8,454.3 371.0,454.3 371.3,454.5 371.6,454.4 371.8,454.5 372.1,455.0 372.4,454.6 372.7,454.8 372.9,454.9 373.2,454.1 373.5,455.1 373.7,454.7 374.0,454.8 374.3,454.2 374.6,454.8 374.8,454.6 375.1,454.3 375.4,455.3 375.7,454.7 375.9,454.4 376.2,454.6 376.5,454.8 376.7,454.9 377.0,454.7 377.3,454.9 377.6,455.0 377.8,454.1 378.1,454.3 378.4,454.2 378.6,454.5 378.9,455.0 379.2,454.7 379.5,454.1 379.7,454.4 380.0,454.9 380.3,454.3 380.5,454.5 380.8,454.6 381.1,453.9 381.4,454.8 381.6,454.6 381.9,454.7 382.2,454.2 382.5,454.2 382.7,454.3 383.0,454.6 383.3,454.5 383.5,454.5 383.8,455.1 384.1,455.0 384.4,454.3 384.6,454.3 384.9,455.1 385.2,454.4 385.4,455.0 385.7,455.1 386.0,454.3 386.3,454.4 386.5,454.5 386.8,454.2 387.1,454.2 387.3,454.4 387.6,454.8 387.9,454.3 388.2,454.4 388.4,454.3 388.7,454.0 389.0,455.0 389.3,453.7 389.5,454.3 389.8,454.7 390.1,454.0 390.3,454.7 390.6,454.9 390.9,454.2 391.2,454.6 391.4,454.1 391.7,454.7 392.0,454.5 392.2,454.6 392.5,455.0 392.8,454.7 393.1,455.0 393.3,454.7 393.6,454.1 393.9,454.6 394.1,454.7 394.4,454.0 394.7,455.0 395.0,454.5 395.2,454.6 395.5,454.2 395.8,454.5 396.1,454.6 396.3,454.4 396.6,454.5 396.9,453.8 397.1,455.0 397.4,454.1 397.7,453.7 398.0,454.2 398.2,454.2 398.5,454.7 398.8,454.2 399.0,454.6 399.3,454.2 399.6,455.3 399.9,454.7 400.1,455.2 400.4,454.1 400.7,454.7 400.9,454.2 401.2,454.7 401.5,454.7 401.8,453.9 402.0,454.1 402.3,454.1 402.6,454.0 402.9,454.2 403.1,454.2 403.4,454.0 403.7,454.5 403.9,454.7 404.2,454.0 404.5,454.3 404.8,454.5 405.0,454.4 405.3,454.3 405.6,454.8 405.8,454.8 406.1,454.7 406.4,454.4 406.7,455.2 406.9,455.1 407.2,454.4 407.5,454.5 407.7,454.9 408.0,454.2 408.3,454.6 408.6,454.5 408.8,454.3 409.1,454.4 409.4,454.0 409.7,454.3 409.9,453.8 410.2,455.3 410.5,455.0 410.7,454.9 411.0,454.6 411.3,454.8 411.6,454.9 411.8,454.9 412.1,454.8 412.4,454.2 412.6,454.6 412.9,454.3 413.2,454.1 413.5,454.1 413.7,454.6 414.0,454.9 414.3,454.0 414.5,455.1 414.8,455.0 415.1,454.4 415.4,454.3 415.6,454.5 415.9,454.8 416.2,454.4 416.5,454.1 416.7,454.6 417.0,453.8 417.3,454.5 417.5,454.9 417.8,454.6 418.1,454.8 418.4,454.7 418.6,454.7 418.9,454.5 419.2,454.2 419.4,454.4 419.7,454.5 420.0,454.9 420.3,455.1 420.5,454.6 420.8,454.2 421.1,454.2 421.3,454.4 421.6,455.0 421.9,454.6 422.2,454.5 422.4,454.2 422.7,454.8 423.0,454.6 423.3,454.5 423.5,454.5 423.8,455.1 424.1,454.4 424.3,455.1 424.6,454.9 424.9,454.5 425.2,454.8 425.4,454.4 425.7,454.2 426.0,454.4 426.2,454.2 426.5,454.7 426.8,454.5 427.1,454.7 427.3,454.8 427.6,453.4 427.9,454.6 428.1,453.8 428.4,454.5 428.7,454.2 429.0,454.5 429.2,454.9 429.5,453.9 429.8,454.5 430.1,454.4 430.3,453.8 430.6,454.7 430.9,454.4 431.1,454.2 431.4,454.2 431.7,455.5 432.0,454.2 432.2,453.7 432.5,454.0 432.8,454.2 433.0,454.1 433.3,454.1 433.6,453.6 433.9,453.8 434.1,452.7 434.4,451.1 434.7,449.5 434.9,447.8 435.2,447.3 435.5,448.1 435.8,449.7 436.0,451.6 436.3,453.0 436.6,454.3 436.9,453.8 437.1,454.3 437.4,454.5 437.7,454.0 437.9,454.4 438.2,454.4 438.5,454.2 438.8,454.6 439.0,454.8 439.3,454.8 439.6,454.4 439.8,454.5 440.1,455.3 440.4,454.1 440.7,454.5 440.9,454.8 441.2,454.5 441.5,454.7 441.7,454.5 442.0,454.7 442.3,454.9 442.6,454.4 442.8,454.5 443.1,454.5 443.4,454.3 443.7,454.5 443.9,454.1 444.2,454.7 444.5,455.1 444.7,455.1 445.0,454.9 445.3,454.1 445.6,455.0 445.8,454.2 446.1,454.5 446.4,455.1 446.6,454.1 446.9,454.8 447.2,454.6 447.5,454.4 447.7,454.2 448.0,454.6 448.3,454.3 448.5,454.9 448.8,454.9 449.1,454.0 449.4,454.3 449.6,454.4 449.9,454.1 450.2,454.1 450.5,454.5 450.7,454.4 451.0,453.9 451.3,454.3 451.5,454.7 451.8,454.1 452.1,454.2 452.4,455.1 452.6,455.0 452.9,453.9 453.2,454.0 453.4,454.6 453.7,454.1 454.0,454.4 454.3,454.3 454.5,454.7 454.8,453.6 455.1,453.7 455.3,454.1 455.6,454.9 455.9,454.4 456.2,453.9 456.4,454.7 456.7,454.7 457.0,454.4 457.3,454.4 457.5,454.6 457.8,454.9 458.1,454.6 458.3,454.7 458.6,454.5 458.9,454.4 459.2,454.2 459.4,454.6 459.7,454.4 460.0,454.4 460.2,454.8 460.5,454.7 460.8,454.8 461.1,453.9 461.3,454.7 461.6,454.3 461.9,454.2 462.1,454.2 462.4,454.9 462.7,454.8 463.0,454.2 463.2,454.1 463.5,454.5 463.8,454.3 464.1,455.1 464.3,454.0 464.6,453.9 464.9,454.4 465.1,454.5 465.4,454.5 465.7,454.8 466.0,455.2 466.2,454.4 466.5,454.3 466.8,453.9 467.0,454.6 467.3,454.8 467.6,454.4 467.9,454.9 468.1,454.5 468.4,455.0 468.7,454.6 468.9,454.1 469.2,454.3 469.5,454.0 469.8,453.9 470.0,454.6 470.3,454.8 470.6,455.2 470.9,454.5 471.1,454.4 471.4,454.1 471.7,454.8 471.9,454.6 472.2,454.3 472.5,454.7 472.8,454.7 473.0,453.8 473.3,454.8 473.6,454.5 473.8,454.4 474.1,454.4 474.4,455.1 474.7,455.0 474.9,455.1 475.2,454.1 475.5,454.3 475.7,454.8 476.0,454.1 476.3,454.2 476.6,453.9 476.8,455.1 477.1,454.9 477.4,454.7 477.7,454.6 477.9,454.4 478.2,454.4 478.5,454.7 478.7,454.2 479.0,454.9 479.3,454.3 479.6,454.2 479.8,455.0 480.1,454.4 480.4,454.7 480.6,454.4 480.9,453.7 481.2,454.7 481.5,454.0 481.7,454.9 482.0,454.0 482.3,453.8 482.5,454.6 482.8,454.6 483.1,454.5 483.4,454.1 483.6,454.8 483.9,454.0 484.2,454.3 484.5,454.2 484.7,454.4 485.0,454.8 485.3,454.3 485.5,454.7 485.8,454.7 486.1,453.9 486.4,454.1 486.6,454.4 486.9,454.3 487.2,454.6 487.4,453.8 487.7,454.8 488.0,454.8 488.3,454.4 488.5,454.0 488.8,454.5 489.1,454.3 489.3,454.7 489.6,454.5 489.9,454.8 490.2,454.3 490.4,455.0 490.7,453.7 491.0,454.1 491.3,454.7 491.5,454.0 491.8,454.8 492.1,454.1 492.3,454.5 492.6,454.2 492.9,454.3 493.2,454.6 493.4,454.5 493.7,454.4 494.0,455.3 494.2,454.5 494.5,454.2 494.8,454.8 495.1,454.8 495.3,454.9 495.6,455.1 495.9,454.2 496.1,454.9 496.4,454.9 496.7,454.5 497.0,454.6 497.2,453.4 497.5,454.3 497.8,455.1 498.1,453.9 498.3,454.3 498.6,454.6 498.9,454.7 499.1,455.1 499.4,453.9 499.7,454.5 500.0,454.8 500.2,454.0 500.5,454.5 500.8,455.2 501.0,455.0 501.3,454.7 501.6,453.6 501.9,454.5 502.1,454.6 502.4,454.4 502.7,454.5 502.9,455.6 503.2,454.4 503.5,454.2 503.8,454.6 504.0,454.4 504.3,454.4 504.6,454.5 504.9,454.8 505.1,454.6 505.4,454.1 505.7,454.5 505.9,454.7 506.2,454.3 506.5,454.9 506.8,454.8 507.0,454.2 507.3,454.6 507.6,455.2 507.8,455.0 508.1,454.5 508.4,454.8 508.7,454.3 508.9,454.0 509.2,454.7 509.5,454.6 509.7,454.7 510.0,454.5 510.3,454.6 510.6,454.3 510.8,454.7 511.1,454.8 511.4,454.5 511.7,454.8 511.9,453.9 512.2,454.2 512.5,455.0 512.7,455.1 513.0,454.6 513.3,454.5 513.6,454.1 513.8,454.6 514.1,454.8 514.4,454.0 514.6,454.7 514.9,454.7 515.2,454.7 515.5,454.1 515.7,454.7 516.0,454.0 516.3,455.0 516.5,454.5 516.8,454.1 517.1,455.0 517.4,454.9 517.6,454.3 517.9,455.3 518.2,454.1 518.5,454.6 518.7,454.9 519.0,453.7 519.3,454.9 519.5,454.5 519.8,454.5 520.1,454.1 520.4,454.6 520.6,454.1 520.9,454.2 521.2,454.3 521.4,454.1 521.7,455.1 522.0,454.0 522.3,454.2 522.5,454.4 522.8,454.5 523.1,454.8 523.3,454.8 523.6,454.4 523.9,454.4 524.2,454.5 524.4,454.8 524.7,454.7 525.0,454.3 525.3,453.8 525.5,455.2 525.8,454.8 526.1,454.6 526.3,454.6 526.6,454.3 526.9,454.1 527.2,454.4 527.4,454.4 527.7,454.3 528.0,454.0 528.2,454.4 528.5,454.7 528.8,454.3 529.1,454.5 529.3,453.8 529.6,454.4 529.9,454.5 530.1,454.1 530.4,453.9 530.7,454.6 531.0,454.2 531.2,454.7 531.5,454.4 531.8,454.7 532.1,454.4 532.3,454.0 532.6,454.5 532.9,454.4 533.1,454.7 533.4,454.3 533.7,454.4 534.0,454.8 534.2,454.9 534.5,454.8 534.8,454.9 535.0,454.7 535.3,454.8 535.6,454.8 535.9,454.6 536.1,454.5 536.4,454.5 536.7,455.3 536.9,454.5 537.2,454.4 537.5,454.4 537.8,454.5 538.0,454.6 538.3,454.1 538.6,453.8 538.9,454.6 539.1,453.9 539.4,454.6 539.7,454.5 539.9,454.9 540.2,455.1 540.5,454.6 540.8,454.3 541.0,454.1 541.3,454.2 541.6,454.5 541.8,453.8 542.1,454.5 542.4,454.5 542.7,454.7 542.9,454.4 543.2,454.5 543.5,454.2 543.7,454.3 544.0,453.9 544.3,454.5 544.6,455.0 544.8,454.6 545.1,454.6 545.4,454.2 545.7,455.0 545.9,454.2 546.2,454.8 546.5,454.5 546.7,454.2 547.0,454.9 547.3,454.5 547.6,454.6 547.8,454.7 548.1,454.5 548.4,454.4 548.6,454.7 548.9,454.4 549.2,454.5 549.5,454.3 549.7,454.0 550.0,454.3 550.3,454.3 550.5,454.5 550.8,454.9 551.1,453.9 551.4,454.5 551.6,453.7 551.9,454.1 552.2,454.3 552.5,453.7 552.7,453.8 553.0,454.6 553.3,454.5 553.5,454.5 553.8,454.2 554.1,455.3 554.4,454.4 554.6,454.2 554.9,455.1 555.2,454.7 555.4,454.4 555.7,454.9 556.0,454.6 556.3,454.7 556.5,454.6 556.8,454.1 557.1,454.8 557.3,454.6 557.6,454.1 557.9,454.2 558.2,454.8 558.4,454.4 558.7,454.5 559.0,454.7 559.3,454.5 559.5,454.0 559.8,454.7 560.1,454.8 560.3,454.8 560.6,455.1 560.9,454.6 561.2,454.8 561.4,455.1 561.7,454.4 562.0,455.1 562.2,455.1 562.5,454.8 562.8,455.1 563.1,454.8 563.3,454.2 563.6,454.9 563.9,454.6 564.1,454.6 564.4,454.6 564.7,455.0 565.0,454.7 565.2,454.3 565.5,454.7 565.8,454.8 566.1,454.2 566.3,454.3 566.6,454.4 566.9,454.3 567.1,454.6 567.4,454.9 567.7,455.2 568.0,454.9 568.2,454.9 568.5,454.9 568.8,455.0 569.0,454.4 569.3,454.7 569.6,454.6 569.9,454.5 570.1,454.3 570.4,454.3 570.7,454.4 570.9,454.1 571.2,454.7 571.5,454.5 571.8,454.5 572.0,454.6 572.3,454.8 572.6,454.3 572.9,454.5 573.1,453.9 573.4,453.7 573.7,453.8 573.9,455.0 574.2,453.9 574.5,454.7 574.8,455.0 575.0,454.3 575.3,455.1 575.6,455.1 575.8,454.8 576.1,455.3 576.4,454.7 576.7,454.2 576.9,454.7 577.2,454.3 577.5,454.0 577.7,454.1 578.0,455.3 578.3,454.3 578.6,454.5 578.8,454.3 579.1,454.6 579.4,454.4 579.7,454.4 579.9,454.1 580.2,454.0 580.5,454.2 580.7,454.6 581.0,455.2 581.3,454.9 581.6,455.1 581.8,454.7 582.1,454.5 582.4,454.0 582.6,454.5 582.9,453.8 583.2,454.4 583.5,455.1 583.7,454.6 584.0,454.9 584.3,454.4 584.5,454.0 584.8,454.3 585.1,454.4 585.4,454.9 585.6,455.2 585.9,454.2 586.2,454.4 586.5,454.5 586.7,454.4 587.0,454.1 587.3,454.5 587.5,454.6 587.8,454.6 588.1,454.1 588.4,454.5 588.6,453.9 588.9,454.8 589.2,454.2 589.4,454.4 589.7,454.4 590.0,454.3 590.3,454.1 590.5,453.9 590.8,455.1 591.1,454.6 591.3,454.6 591.6,455.2 591.9,454.5 592.2,454.7 592.4,454.5 592.7,454.9 593.0,454.7 593.3,454.6 593.5,454.4 593.8,454.6 594.1,454.9 594.3,453.8 594.6,454.5 594.9,454.4 595.2,454.4 595.4,453.8 595.7,454.8 596.0,454.2 596.2,454.4 596.5,454.3 596.8,453.9 597.1,454.4 597.3,453.9 597.6,454.2 597.9,454.4 598.1,454.5 598.4,454.5 598.7,454.5 599.0,455.3 599.2,454.7 599.5,454.1 599.8,454.3 600.1,454.3 600.3,454.4 600.6,454.3 600.9,454.2 601.1,455.1 601.4,454.5 601.7,454.4 602.0,454.4 602.2,454.4 602.5,455.0 602.8,454.7 603.0,454.9 603.3,453.4 603.6,454.6 603.9,454.9 604.1,455.2 604.4,454.5 604.7,453.9 604.9,454.7 605.2,454.3 605.5,453.9 605.8,454.3 606.0,454.9 606.3,454.9 606.6,454.8 606.9,454.1 607.1,455.4 607.4,454.1 607.7,454.5 607.9,454.0 608.2,455.0 608.5,454.7 608.8,454.8 609.0,454.5 609.3,454.5 609.6,454.6 609.8,453.9 610.1,454.9 610.4,454.8 610.7,454.4 610.9,454.5 611.2,454.6 611.5,455.1 611.7,454.7 612.0,454.5 612.3,454.3 612.6,454.0 612.8,454.3 613.1,454.5 613.4,454.4 613.7,454.5 613.9,454.8 614.2,454.7 614.5,454.6 614.7,454.7 615.0,454.6 615.3,454.5 615.6,454.7 615.8,453.9 616.1,455.0 616.4,454.1 616.6,454.8 616.9,454.5 617.2,454.9 617.5,454.5 617.7,454.2 618.0,454.9 618.3,454.6 618.5,454.6 618.8,454.5 619.1,454.9 619.4,454.8 619.6,454.6 619.9,454.0 620.2,454.4 620.5,454.6 620.7,455.1 621.0,454.7 621.3,454.5 621.5,454.9 621.8,454.5 622.1,454.5 622.4,454.6 622.6,454.0 622.9,454.9 623.2,454.7 623.4,454.4 623.7,454.1 624.0,454.6 624.3,455.0 624.5,454.3 624.8,454.1 625.1,454.7 625.3,454.0 625.6,453.7 625.9,454.4 626.2,454.3 626.4,454.4 626.7,454.3 627.0,454.6 627.3,454.4 627.5,454.3 627.8,454.4 628.1,454.7 628.3,454.9 628.6,454.8 628.9,454.8 629.2,453.4 629.4,454.2 629.7,454.4 630.0,454.6 630.2,454.0 630.5,455.0 630.8,454.6 631.1,454.3 631.3,454.6 631.6,454.4 631.9,454.3 632.1,454.7 632.4,454.4 632.7,454.0 633.0,454.3 633.2,454.5 633.5,454.1 633.8,455.0 634.1,454.1 634.3,455.1 634.6,454.8 634.9,454.2 635.1,454.6 635.4,454.9 635.7,454.5 636.0,454.1 636.2,454.6 636.5,455.2" fill="none" stroke="#086208" stroke-width="3.6" stroke-linejoin="round" stroke-linecap="round" />
<polygon points="124.00,13.25 125.36,22.92 129.25,23.37 126.21,29.80 127.24,39.75 124.00,34.05 120.76,39.75 121.79,29.80 118.75,23.37 122.64,22.92" fill="#ff0000"/>
<polygon points="231.00,104.45 232.36,114.12 236.25,114.57 233.21,121.00 234.24,130.95 231.00,125.25 227.76,130.95 228.79,121.00 225.75,114.57 229.64,114.12" fill="#ff0000"/>
<polygon points="297.80,96.75 299.16,106.42 303.05,106.87 300.01,113.30 301.04,123.25 297.80,117.55 294.56,123.25 295.59,113.30 292.55,106.87 296.44,106.42" fill="#ff0000"/>
<polygon points="326.40,90.25 327.76,99.92 331.65,100.37 328.61,106.80 329.64,116.75 326.40,111.05 323.16,116.75 324.19,106.80 321.15,100.37 325.04,99.92" fill="#ff0000"/>
<polygon points="365.60,103.75 366.96,113.42 370.85,113.87 367.81,120.30 368.84,130.25 365.60,124.55 362.36,130.25 363.39,120.30 360.35,113.87 364.24,113.42" fill="#ff0000"/>
<polygon points="437.50,90.75 438.86,100.42 442.75,100.87 439.71,107.30 440.74,117.25 437.50,111.55 434.26,117.25 435.29,107.30 432.25,100.87 436.14,100.42" fill="#ff0000"/>
<polygon points="123.00,304.75 124.36,314.42 128.25,314.87 125.21,321.30 126.24,331.25 123.00,325.55 119.76,331.25 120.79,321.30 117.75,314.87 121.64,314.42" fill="#ff0000"/>
<polygon points="224.20,417.05 225.56,426.72 229.45,427.17 226.41,433.60 227.44,443.55 224.20,437.85 220.96,443.55 221.99,433.60 218.95,427.17 222.84,426.72" fill="#ff0000"/>
<polygon points="295.70,414.05 297.06,423.72 300.95,424.17 297.91,430.60 298.94,440.55 295.70,434.85 292.46,440.55 293.49,430.60 290.45,424.17 294.34,423.72" fill="#ff0000"/>
<polygon points="327.30,410.25 328.66,419.92 332.55,420.37 329.51,426.80 330.54,436.75 327.30,431.05 324.06,436.75 325.09,426.80 322.05,420.37 325.94,419.92" fill="#ff0000"/>
<polygon points="365.50,412.15 366.86,421.82 370.75,422.27 367.71,428.70 368.74,438.65 365.50,432.95 362.26,438.65 363.29,428.70 360.25,422.27 364.14,421.82" fill="#ff0000"/>
<polygon points="434.90,415.35 436.26,425.02 440.15,425.47 437.11,431.90 438.14,441.85 434.90,436.15 431.66,441.85 432.69,431.90 429.65,425.47 433.54,425.02" fill="#ff0000"/>
<polygon points="218.6,105.0 225.1,113.0 218.6,121.0 212.1,113.0" fill="url(#dgrad)"/>
<polygon points="248.8,113.3 255.3,121.3 248.8,129.3 242.3,121.3" fill="url(#dgrad)"/>
<polygon points="347.4,114.0 353.9,122.0 347.4,130.0 340.9,122.0" fill="url(#dgrad)"/>
<polygon points="407.8,116.5 414.3,124.5 407.8,132.5 401.3,124.5" fill="url(#dgrad)"/>
<polygon points="423.5,118.0 430.0,126.0 423.5,134.0 417.0,126.0" fill="url(#dgrad)"/>
<polygon points="496.2,120.1 502.7,128.1 496.2,136.1 489.7,128.1" fill="url(#dgrad)"/>
<polygon points="545.2,120.1 551.7,128.1 545.2,136.1 538.7,128.1" fill="url(#dgrad)"/>
<polygon points="562.5,118.7 569.0,126.7 562.5,134.7 556.0,126.7" fill="url(#dgrad)"/>
<polygon points="218.9,151.3 225.4,159.3 218.9,167.3 212.4,159.3" fill="url(#dgrad)"/>
<polygon points="249.0,245.0 255.5,253.0 249.0,261.0 242.5,253.0" fill="url(#dgrad)"/>
<polygon points="347.0,220.7 353.5,228.7 347.0,236.7 340.5,228.7" fill="url(#dgrad)"/>
<polygon points="407.8,241.4 414.3,249.4 407.8,257.4 401.3,249.4" fill="url(#dgrad)"/>
<polygon points="425.3,267.7 431.8,275.7 425.3,283.7 418.8,275.7" fill="url(#dgrad)"/>
<polygon points="493.8,267.0 500.3,275.0 493.8,283.0 487.3,275.0" fill="url(#dgrad)"/>
<polygon points="545.6,265.3 552.1,273.3 545.6,281.3 539.1,273.3" fill="url(#dgrad)"/>
<polygon points="559.2,264.5 565.7,272.5 559.2,280.5 552.7,272.5" fill="url(#dgrad)"/>
<polygon points="93.4,180.5 99.9,188.5 93.4,196.5 86.9,188.5" fill="url(#dgrad)"/>
<polygon points="92.40,223.00 93.63,232.12 97.15,232.55 94.40,238.61 95.34,248.00 92.40,242.62 89.46,248.00 90.40,238.61 87.65,232.55 91.17,232.12" fill="#ff0000"/>
<text transform="translate(103.52,198.00) scale(0.8420,1)" font-family='"Liberation Sans", Arial, sans-serif' font-weight="bold" font-size="26.23" fill="#7a1af0" ><tspan>CeO</tspan><tspan font-size="24.13" dy="8.66">2</tspan></text>
<text transform="translate(105.92,244.70) scale(0.8301,1)" font-family='"Liberation Sans", Arial, sans-serif' font-weight="bold" font-size="27.39" fill="#ff0000" ><tspan>MoS</tspan><tspan font-size="25.20" dy="9.04">2</tspan></text>
<text transform="translate(463.05,95.50) scale(1.0082,1)" font-family='"Liberation Serif", "Times New Roman", serif' font-weight="bold" font-size="38.78" fill="#ff0000" ><tspan>CeO</tspan><tspan font-size="24.04" dy="8.53">2</tspan><tspan dy="-8.53">/MoS</tspan><tspan font-size="24.04" dy="8.53">2</tspan></text>
<text transform="translate(561.21,254.20) scale(0.9348,1)" font-family='"Liberation Serif", "Times New Roman", serif' font-weight="bold" font-size="42.60" fill="#ff0000" ><tspan>CeO</tspan><tspan font-size="26.41" dy="9.37">2</tspan></text>
<text transform="translate(561.82,429.40) scale(1.0014,1)" font-family='"Liberation Serif", "Times New Roman", serif' font-weight="bold" font-size="38.93" fill="#ff0000" ><tspan>MoS</tspan><tspan font-size="24.14" dy="8.56">2</tspan></text>
<rect x="761" y="6" width="582.4000000000001" height="468.6" fill="none" stroke="#000" stroke-width="5" stroke-linejoin="round"/>
<path d="M797.4,474.6V484.1 M870.1,474.6V484.1 M942.8,474.6V484.1 M1015.6,474.6V484.1 M1088.3,474.6V484.1 M1161.0,474.6V484.1 M1233.7,474.6V484.1 M1306.4,474.6V484.1 M833.8,474.6V478.6 M906.5,474.6V478.6 M979.2,474.6V478.6 M1051.9,474.6V478.6 M1124.6,474.6V478.6 M1197.4,474.6V478.6 M1270.1,474.6V478.6 M761.0,474.6V478.6" stroke="#000" stroke-width="3.2" stroke-linecap="round" fill="none"/>
<text transform="translate(767.61,511.00) scale(1.1099,1)" font-family='"Liberation Sans", Arial, sans-serif' font-weight="bold" font-size="23.91" fill="#000" ><tspan>1400</tspan></text>
<text transform="translate(840.31,511.00) scale(1.1099,1)" font-family='"Liberation Sans", Arial, sans-serif' font-weight="bold" font-size="23.91" fill="#000" ><tspan>1200</tspan></text>
<text transform="translate(913.01,511.00) scale(1.1099,1)" font-family='"Liberation Sans", Arial, sans-serif' font-weight="bold" font-size="23.91" fill="#000" ><tspan>1000</tspan></text>
<text transform="translate(993.55,511.00) scale(1.1090,1)" font-family='"Liberation Sans", Arial, sans-serif' font-weight="bold" font-size="23.91" fill="#000" ><tspan>800</tspan></text>
<text transform="translate(1066.22,511.00) scale(1.1125,1)" font-family='"Liberation Sans", Arial, sans-serif' font-weight="bold" font-size="23.91" fill="#000" ><tspan>600</tspan></text>
<text transform="translate(1139.46,511.00) scale(1.0987,1)" font-family='"Liberation Sans", Arial, sans-serif' font-weight="bold" font-size="23.91" fill="#000" ><tspan>400</tspan></text>
<text transform="translate(1211.62,511.00) scale(1.1125,1)" font-family='"Liberation Sans", Arial, sans-serif' font-weight="bold" font-size="23.91" fill="#000" ><tspan>200</tspan></text>
<text transform="translate(1298.16,511.00) scale(1.2413,1)" font-family='"Liberation Sans", Arial, sans-serif' font-weight="bold" font-size="23.91" fill="#000" ><tspan>0</tspan></text>
<text transform="translate(879.35,541.40) scale(1.0532,1)" font-family='"Liberation Sans", Arial, sans-serif' font-weight="bold" font-size="34.35" fill="#000" ><tspan>Binding energy (eV)</tspan></text>
<text transform="translate(719.90,357.84) rotate(-90) scale(0.9524,1)" font-family='"Liberation Sans", Arial, sans-serif' font-weight="bold" font-size="37.83" fill="#000" ><tspan>Intensity(a.u.)</tspan></text>
<text transform="translate(771.03,52.10) scale(1.0448,1)" font-family='"Liberation Serif", "Times New Roman", serif' font-weight="bold" font-size="49.31" fill="#ff0000" ><tspan>B</tspan></text>
<text transform="translate(984.60,82.76) rotate(-90) scale(0.9609,1)" font-family='"Liberation Sans", Arial, sans-serif' font-weight="bold" font-size="25.07" fill="#000" ><tspan>Ce 3d</tspan></text>
<text transform="translate(1006.30,149.77) rotate(-90) scale(0.9685,1)" font-family='"Liberation Sans", Arial, sans-serif' font-weight="bold" font-size="25.07" fill="#000" ><tspan>Ce 3d</tspan></text>
<text transform="translate(1124.90,244.75) rotate(-90) scale(0.9391,1)" font-family='"Liberation Sans", Arial, sans-serif' font-weight="bold" font-size="25.22" fill="#000" ><tspan>O 1S</tspan></text>
<text transform="translate(1234.50,352.38) rotate(-90) scale(0.9614,1)" font-family='"Liberation Sans", Arial, sans-serif' font-weight="bold" font-size="25.36" fill="#000" ><tspan>Mo 3d</tspan></text>
<text transform="translate(1276.70,342.22) rotate(-90) scale(0.9352,1)" font-family='"Liberation Sans", Arial, sans-serif' font-weight="bold" font-size="25.65" fill="#000" ><tspan>S 2P</tspan></text>
<polyline points="815.5,127.6 817.0,133.5 818.6,138.5 820.1,142.9 821.7,145.6 823.2,148.7 824.8,151.6 826.6,154.4 828.5,158.0 830.4,160.5 832.2,162.3 833.9,164.9 835.7,164.2 837.4,166.3 839.2,167.1 840.9,168.7 842.4,168.4 843.9,169.1 845.4,168.6 846.9,169.5 848.4,169.3 850.2,169.2 852.1,166.3 853.9,166.2 855.8,164.5 857.3,161.6 858.9,158.5 860.4,156.1 862.5,160.8 864.5,165.4 866.4,167.9 868.2,170.4 869.8,167.9 871.3,165.4 872.8,165.4 874.4,165.7 876.0,166.3 877.5,168.0 879.0,171.0 880.6,171.3 882.1,172.3 883.7,170.5 885.2,170.1 886.8,169.2 888.5,167.4 890.3,165.0 892.0,163.0 893.8,161.1 895.5,159.9 897.1,158.0 898.7,156.1 900.3,153.6 901.8,151.4 903.4,148.5 905.0,148.0 906.6,146.1 908.2,143.6 909.8,142.6 911.4,141.1 913.0,138.6 914.6,137.4 916.2,135.2 917.8,132.2 919.3,131.1 920.9,129.3 922.5,128.0 924.0,125.3 925.5,123.7 927.1,121.5 928.7,120.2 930.2,118.4 931.8,117.1 933.3,115.1 934.9,112.9 936.4,111.0 938.0,109.1 939.5,107.2 941.1,106.2 942.6,103.4 944.5,104.5 946.5,105.5 948.8,112.1 951.5,100.0 953.4,86.0 955.5,110.0 956.3,117.0 958.1,118.9 960.0,119.4 961.6,119.5 963.3,118.5 964.9,117.0 966.8,118.9 968.6,120.8 970.5,129.4 972.4,132.0 973.6,86.0 974.8,145.6 977.3,122.0 978.5,150.0 980.4,110.8 981.5,205.0 982.5,150.0 983.3,209.0 984.5,170.0 986.0,155.8 987.3,258.7 989.8,261.9 991.4,260.4 993.1,261.1 994.8,261.2 996.4,260.2 998.1,259.1 999.7,260.0 1001.4,259.0 1003.0,258.0 1005.9,255.0 1007.0,266.0 1009.6,293.4 1011.5,308.3 1013.3,323.2 1015.8,342.8 1017.3,343.0 1018.9,344.7 1020.5,344.4 1022.0,346.6 1023.5,344.9 1025.1,343.5 1026.7,342.9 1028.2,341.8 1029.8,341.9 1031.3,341.8 1032.9,340.0 1034.4,339.9 1036.0,337.9 1037.7,337.9 1039.3,336.8 1042.0,341.0 1043.8,339.5 1045.5,338.0 1047.4,344.2 1049.3,351.8 1051.0,351.3 1052.8,354.7 1054.5,356.4 1056.3,356.3 1058.0,358.3 1059.5,358.1 1061.0,358.9 1062.5,357.7 1064.0,357.4 1065.6,357.5 1067.1,356.8 1068.6,356.4 1070.1,355.7 1071.6,356.1 1073.2,354.4 1074.7,355.3 1076.3,353.6 1077.9,352.7 1079.5,353.0 1081.0,352.3 1082.6,350.3 1084.2,351.1 1085.8,349.6 1087.3,349.3 1088.9,349.7 1090.4,348.2 1091.9,348.3 1093.5,347.3 1095.0,348.2 1096.5,346.4 1098.0,345.2 1099.6,344.7 1101.1,344.3 1102.6,344.2 1104.7,345.8 1106.7,347.4 1108.3,355.8 1110.0,364.2 1111.5,350.0 1113.0,368.0 1114.2,256.2 1116.2,377.8 1117.8,377.6 1119.4,378.0 1121.0,377.4 1122.6,377.2 1124.2,377.2 1125.7,376.7 1127.3,376.8 1128.9,377.0 1130.5,376.8 1132.1,375.9 1133.7,375.0 1135.3,375.1 1136.8,375.3 1138.4,373.1 1139.9,373.8 1141.5,373.9 1143.0,372.8 1144.6,372.0 1146.2,373.3 1147.7,372.6 1149.3,371.1 1150.8,371.6 1152.4,371.1 1153.9,369.1 1155.5,370.9 1157.3,367.7 1159.2,367.0 1161.0,366.0 1163.1,363.4 1164.8,371.2 1166.4,371.3 1167.9,369.8 1169.5,370.0 1171.0,370.1 1172.6,369.0 1174.1,368.1 1175.7,368.6 1177.3,366.2 1178.8,366.4 1180.4,364.7 1181.9,364.1 1183.5,363.1 1185.0,362.3 1186.6,361.2 1188.1,359.9 1189.7,359.1 1191.2,358.8 1192.8,357.6 1194.3,356.0 1195.9,355.4 1197.6,356.0 1199.3,356.9 1201.0,357.5 1203.0,315.4 1205.2,366.9 1206.7,366.0 1208.3,364.7 1209.8,364.3 1211.3,362.6 1212.9,360.8 1214.4,361.7 1216.1,362.0 1217.8,363.7 1219.5,364.8 1221.2,366.8 1223.7,355.8 1225.8,365.1 1227.9,374.7 1229.6,371.6 1231.2,370.6 1232.9,368.4 1233.5,389.2 1235.1,388.6 1236.6,388.1 1238.2,389.2 1239.8,388.9 1241.3,388.9 1242.9,389.3 1244.4,388.2 1246.0,387.8 1248.0,377.7 1250.0,388.2 1251.7,388.7 1253.3,389.7 1255.0,390.2 1256.6,390.7 1258.2,393.2 1259.9,392.8 1262.4,363.4 1264.5,372.0 1267.4,365.1 1269.1,380.0 1270.0,430.4 1271.6,431.6 1273.1,431.7 1274.7,431.4 1276.3,430.7 1277.8,431.1 1279.4,430.9 1281.0,430.5 1282.5,431.1 1284.1,430.8 1285.7,430.6 1287.2,431.3 1288.8,430.2 1290.4,431.1 1291.9,430.4 1293.5,430.7 1295.2,429.4 1297.0,428.0 1298.6,426.4 1300.2,424.8 1301.9,438.3 1303.5,437.1 1305.0,436.3 1306.8,438.5 1308.5,441.0 1310.3,443.3" fill="none" stroke="#0a0af0" stroke-width="5.2" stroke-linejoin="round" stroke-linecap="round" />
<rect x="1437" y="8.9" width="609.7" height="448.90000000000003" fill="none" stroke="#000" stroke-width="5" stroke-linejoin="round"/>
<path d="M1492.0,457.8V467.3 M1630.5,457.8V467.3 M1769.0,457.8V467.3 M1907.5,457.8V467.3 M2046.0,457.8V467.3 M1561.2,457.8V461.8 M1699.8,457.8V461.8 M1838.2,457.8V461.8 M1976.8,457.8V461.8" stroke="#000" stroke-width="3.2" stroke-linecap="round" fill="none"/>
<text transform="translate(1470.58,493.30) scale(1.1321,1)" font-family='"Liberation Sans", Arial, sans-serif' font-weight="bold" font-size="23.33" fill="#000" ><tspan>240</tspan></text>
<text transform="translate(1608.58,493.30) scale(1.1215,1)" font-family='"Liberation Sans", Arial, sans-serif' font-weight="bold" font-size="23.33" fill="#000" ><tspan>235</tspan></text>
<text transform="translate(1747.48,493.30) scale(1.1321,1)" font-family='"Liberation Sans", Arial, sans-serif' font-weight="bold" font-size="23.33" fill="#000" ><tspan>230</tspan></text>
<text transform="translate(1885.38,493.30) scale(1.1215,1)" font-family='"Liberation Sans", Arial, sans-serif' font-weight="bold" font-size="23.33" fill="#000" ><tspan>225</tspan></text>
<text transform="translate(2023.38,493.30) scale(1.1321,1)" font-family='"Liberation Sans", Arial, sans-serif' font-weight="bold" font-size="23.33" fill="#000" ><tspan>220</tspan></text>
<text transform="translate(1571.45,540.60) scale(1.0336,1)" font-family='"Liberation Sans", Arial, sans-serif' font-weight="bold" font-size="34.93" fill="#000" ><tspan>Binding energy (eV)</tspan></text>
<text transform="translate(1400.60,364.61) rotate(-90) scale(1.0111,1)" font-family='"Liberation Sans", Arial, sans-serif' font-weight="bold" font-size="36.67" fill="#000" ><tspan>Intensity(a.u.)</tspan></text>
<text transform="translate(1449.19,58.50) scale(1.0874,1)" font-family='"Liberation Serif", "Times New Roman", serif' font-weight="bold" font-size="49.92" fill="#ff0000" ><tspan>C</tspan></text>
<text transform="translate(1958.47,45.60) scale(0.9832,1)" font-family='"Liberation Sans", Arial, sans-serif' font-weight="bold" font-size="30.14" fill="#1a1aff" ><tspan>Mo 3d</tspan></text>
<polygon points="1595.0,367.5 1595.0,367.4 1596.0,367.4 1597.0,367.4 1598.0,367.3 1599.0,367.3 1600.0,367.2 1601.0,367.1 1602.0,367.1 1603.0,366.9 1604.0,366.8 1605.0,366.6 1606.0,366.4 1607.0,366.2 1608.0,365.9 1609.0,365.6 1610.0,365.2 1611.0,364.8 1612.0,364.3 1613.0,363.8 1614.0,363.2 1615.0,362.6 1616.0,362.0 1617.0,361.3 1618.0,360.6 1619.0,359.8 1620.0,359.1 1621.0,358.3 1622.0,357.6 1623.0,356.9 1624.0,356.3 1625.0,355.7 1626.0,355.2 1627.0,354.7 1628.0,354.4 1629.0,354.2 1630.0,354.0 1631.0,354.0 1632.0,354.1 1633.0,354.3 1634.0,354.6 1635.0,355.0 1636.0,355.5 1637.0,356.0 1638.0,356.7 1639.0,357.3 1640.0,358.1 1641.0,358.8 1642.0,359.5 1643.0,360.3 1644.0,361.0 1645.0,361.7 1646.0,362.4 1647.0,363.0 1648.0,363.6 1649.0,364.1 1650.0,364.6 1651.0,365.0 1652.0,365.4 1653.0,365.8 1654.0,366.1 1655.0,366.3 1656.0,366.5 1657.0,366.7 1658.0,366.9 1659.0,367.0 1660.0,367.1 1661.0,367.2 1662.0,367.3 1663.0,367.3 1664.0,367.4 1665.0,367.4 1666.0,367.4 1666.0,367.5" fill="#ffff00" stroke="none" />
<polygon points="1652.0,367.5 1652.0,367.4 1653.0,367.4 1654.0,367.4 1655.0,367.4 1656.0,367.3 1657.0,367.3 1658.0,367.2 1659.0,367.1 1660.0,367.0 1661.0,366.9 1662.0,366.8 1663.0,366.7 1664.0,366.5 1665.0,366.3 1666.0,366.0 1667.0,365.7 1668.0,365.3 1669.0,364.9 1670.0,364.3 1671.0,363.7 1672.0,363.1 1673.0,362.2 1674.0,361.3 1675.0,360.3 1676.0,359.0 1677.0,357.7 1678.0,356.1 1679.0,354.3 1680.0,352.4 1681.0,350.1 1682.0,347.7 1683.0,345.0 1684.0,342.0 1685.0,338.7 1686.0,335.1 1687.0,331.2 1688.0,327.0 1689.0,322.4 1690.0,317.6 1691.0,312.4 1692.0,306.9 1693.0,301.1 1694.0,295.1 1695.0,288.8 1696.0,282.2 1697.0,275.5 1698.0,268.6 1699.0,261.6 1700.0,254.5 1701.0,247.4 1702.0,240.3 1703.0,233.3 1704.0,226.5 1705.0,219.9 1706.0,213.5 1707.0,207.5 1708.0,201.9 1709.0,196.7 1710.0,192.0 1711.0,187.8 1712.0,184.3 1713.0,181.4 1714.0,179.1 1715.0,177.5 1716.0,176.7 1717.0,176.5 1718.0,177.1 1719.0,178.4 1720.0,180.4 1721.0,183.0 1722.0,186.3 1723.0,190.2 1724.0,194.7 1725.0,199.7 1726.0,205.2 1727.0,211.1 1728.0,217.3 1729.0,223.8 1730.0,230.6 1731.0,237.5 1732.0,244.6 1733.0,251.7 1734.0,258.8 1735.0,265.8 1736.0,272.7 1737.0,279.6 1738.0,286.2 1739.0,292.6 1740.0,298.7 1741.0,304.6 1742.0,310.2 1743.0,315.5 1744.0,320.5 1745.0,325.2 1746.0,329.5 1747.0,333.6 1748.0,337.3 1749.0,340.7 1750.0,343.8 1751.0,346.6 1752.0,349.2 1753.0,351.5 1754.0,353.6 1755.0,355.4 1756.0,357.1 1757.0,358.5 1758.0,359.8 1759.0,360.9 1760.0,361.9 1761.0,362.7 1762.0,363.5 1763.0,364.1 1764.0,364.7 1765.0,365.1 1766.0,365.5 1767.0,365.9 1768.0,366.2 1769.0,366.4 1770.0,366.6 1771.0,366.8 1772.0,366.9 1773.0,367.0 1774.0,367.1 1775.0,367.2 1776.0,367.2 1777.0,367.3 1778.0,367.3 1779.0,367.4 1780.0,367.4 1781.0,367.4 1781.0,367.5" fill="url(#gP)" stroke="none" />
<polygon points="1809.0,364.5 1809.0,364.5 1810.0,364.3 1811.0,364.0 1812.0,363.8 1813.0,363.5 1814.0,363.2 1815.0,362.9 1816.0,362.6 1817.0,362.2 1818.0,361.9 1819.0,361.5 1820.0,361.1 1821.0,360.7 1822.0,360.3 1823.0,359.9 1824.0,359.4 1825.0,358.9 1826.0,358.4 1827.0,357.9 1828.0,357.3 1829.0,356.8 1830.0,356.2 1831.0,355.6 1832.0,354.9 1833.0,354.3 1834.0,353.6 1835.0,352.9 1836.0,352.2 1837.0,351.5 1838.0,350.7 1839.0,349.9 1840.0,349.1 1841.0,348.3 1842.0,347.5 1843.0,346.7 1844.0,345.8 1845.0,344.9 1846.0,344.1 1847.0,343.2 1848.0,342.3 1849.0,341.3 1850.0,340.4 1851.0,339.5 1852.0,338.6 1853.0,337.6 1854.0,336.7 1855.0,335.8 1856.0,334.8 1857.0,333.9 1858.0,333.0 1859.0,332.1 1860.0,331.2 1861.0,330.3 1862.0,329.4 1863.0,328.6 1864.0,327.7 1865.0,326.9 1866.0,326.1 1867.0,325.4 1868.0,324.6 1869.0,323.9 1870.0,323.2 1871.0,322.6 1872.0,321.9 1873.0,321.3 1874.0,320.8 1875.0,320.3 1876.0,319.8 1877.0,319.4 1878.0,319.0 1879.0,318.6 1880.0,318.3 1881.0,318.1 1882.0,317.9 1883.0,317.7 1884.0,317.6 1885.0,317.5 1886.0,317.5 1887.0,317.5 1888.0,317.6 1889.0,317.7 1890.0,317.9 1891.0,318.1 1892.0,318.3 1893.0,318.6 1894.0,319.0 1895.0,319.4 1896.0,319.8 1897.0,320.3 1898.0,320.8 1899.0,321.3 1900.0,321.9 1901.0,322.6 1902.0,323.2 1903.0,323.9 1904.0,324.6 1905.0,325.4 1906.0,326.1 1907.0,326.9 1908.0,327.7 1909.0,328.6 1910.0,329.4 1911.0,330.3 1912.0,331.2 1913.0,332.1 1914.0,333.0 1915.0,333.9 1916.0,334.8 1917.0,335.8 1918.0,336.7 1919.0,337.6 1920.0,338.6 1921.0,339.5 1922.0,340.4 1923.0,341.3 1924.0,342.3 1925.0,343.2 1926.0,344.1 1927.0,344.9 1928.0,345.8 1929.0,346.7 1930.0,347.5 1931.0,348.3 1932.0,349.1 1933.0,349.9 1934.0,350.7 1935.0,351.5 1936.0,352.2 1937.0,352.9 1938.0,353.6 1939.0,354.3 1940.0,354.9 1941.0,355.6 1942.0,356.2 1943.0,356.8 1944.0,357.3 1945.0,357.9 1946.0,358.4 1947.0,358.9 1948.0,359.4 1949.0,359.9 1950.0,360.3 1951.0,360.7 1952.0,361.1 1953.0,361.5 1954.0,361.9 1955.0,362.2 1956.0,362.6 1957.0,362.9 1958.0,363.2 1959.0,363.5 1960.0,363.8 1961.0,364.0 1962.0,364.3 1963.0,364.5 1963.0,364.5" fill="#88ffff" stroke="none" />
<polygon points="1747.0,367.5 1747.0,367.4 1748.0,367.4 1749.0,367.4 1750.0,367.3 1751.0,367.3 1752.0,367.2 1753.0,367.1 1754.0,367.0 1755.0,366.8 1756.0,366.6 1757.0,366.3 1758.0,366.0 1759.0,365.6 1760.0,365.1 1761.0,364.5 1762.0,363.8 1763.0,362.9 1764.0,361.8 1765.0,360.5 1766.0,358.9 1767.0,357.1 1768.0,354.9 1769.0,352.3 1770.0,349.4 1771.0,345.9 1772.0,342.0 1773.0,337.4 1774.0,332.3 1775.0,326.6 1776.0,320.1 1777.0,312.9 1778.0,305.0 1779.0,296.3 1780.0,286.8 1781.0,276.6 1782.0,265.6 1783.0,253.9 1784.0,241.5 1785.0,228.6 1786.0,215.1 1787.0,201.2 1788.0,187.1 1789.0,172.8 1790.0,158.5 1791.0,144.4 1792.0,130.6 1793.0,117.3 1794.0,104.7 1795.0,92.9 1796.0,82.2 1797.0,72.6 1798.0,64.3 1799.0,57.6 1800.0,52.3 1801.0,48.7 1802.0,46.8 1803.0,46.6 1804.0,48.2 1805.0,51.5 1806.0,56.4 1807.0,62.9 1808.0,70.8 1809.0,80.1 1810.0,90.7 1811.0,102.2 1812.0,114.7 1813.0,127.9 1814.0,141.6 1815.0,155.7 1816.0,169.9 1817.0,184.2 1818.0,198.4 1819.0,212.4 1820.0,225.9 1821.0,239.0 1822.0,251.4 1823.0,263.3 1824.0,274.4 1825.0,284.8 1826.0,294.4 1827.0,303.3 1828.0,311.4 1829.0,318.7 1830.0,325.3 1831.0,331.2 1832.0,336.5 1833.0,341.1 1834.0,345.2 1835.0,348.7 1836.0,351.8 1837.0,354.4 1838.0,356.7 1839.0,358.6 1840.0,360.2 1841.0,361.5 1842.0,362.7 1843.0,363.6 1844.0,364.4 1845.0,365.0 1846.0,365.5 1847.0,365.9 1848.0,366.3 1849.0,366.5 1850.0,366.8 1851.0,366.9 1852.0,367.1 1853.0,367.2 1854.0,367.2 1855.0,367.3 1856.0,367.4 1857.0,367.4 1858.0,367.4 1859.0,367.4 1859.0,367.5" fill="#00ee00" stroke="none" />
<polyline points="1801.0,48.7 1802.0,46.8 1803.0,46.6 1804.0,48.2 1805.0,51.5 1806.0,56.4 1807.0,62.9 1808.0,70.8 1809.0,80.1 1810.0,90.7 1811.0,102.2 1812.0,114.7 1813.0,127.9 1814.0,141.6 1815.0,155.7 1816.0,169.9 1817.0,184.2 1818.0,198.4 1819.0,212.4 1820.0,225.9 1821.0,239.0 1822.0,251.4 1823.0,263.3 1824.0,274.4 1825.0,284.8 1826.0,294.4 1827.0,303.3 1828.0,311.4 1829.0,318.7 1830.0,325.3 1831.0,331.2 1832.0,336.5 1833.0,341.1 1834.0,345.2 1835.0,348.7 1836.0,351.8 1837.0,354.4 1838.0,356.7 1839.0,358.6 1840.0,360.2 1841.0,361.5 1842.0,362.7 1843.0,363.6 1844.0,364.4 1845.0,365.0 1846.0,365.5 1847.0,365.9 1848.0,366.3 1849.0,366.5 1850.0,366.8 1851.0,366.9 1852.0,367.1 1853.0,367.2 1854.0,367.2 1855.0,367.3 1856.0,367.4 1857.0,367.4 1858.0,367.4 1859.0,367.4 1860.0,367.5 1861.0,367.5 1862.0,367.5 1863.0,367.5 1864.0,367.5 1865.0,367.5 1866.0,367.5 1867.0,367.5 1868.0,367.5 1869.0,367.5 1870.0,367.5 1871.0,367.5 1872.0,367.5 1873.0,367.5 1874.0,367.5 1875.0,367.5 1876.0,367.5 1877.0,367.5 1878.0,367.5 1879.0,367.5 1880.0,367.5 1881.0,367.5 1882.0,367.5 1883.0,367.5 1884.0,367.5 1885.0,367.5 1886.0,367.5 1887.0,367.5 1888.0,367.5 1889.0,367.5 1890.0,367.5 1891.0,367.5 1892.0,367.5 1893.0,367.5 1894.0,367.5 1895.0,367.5 1896.0,367.5 1897.0,367.5 1898.0,367.5 1899.0,367.5 1900.0,367.5 1901.0,367.5 1902.0,367.5 1903.0,367.5 1904.0,367.5 1905.0,367.5 1906.0,367.5 1907.0,367.5 1908.0,367.5 1909.0,367.5 1910.0,367.5 1911.0,367.5 1912.0,367.5 1913.0,367.5 1914.0,367.5 1915.0,367.5 1916.0,367.5 1917.0,367.5 1918.0,367.5 1919.0,367.5 1920.0,367.5 1921.0,367.5 1922.0,367.5 1923.0,367.5 1924.0,367.5 1925.0,367.5 1926.0,367.5 1927.0,367.5 1928.0,367.5 1929.0,367.5 1930.0,367.5 1931.0,367.5 1932.0,367.5 1933.0,367.5 1934.0,367.5 1935.0,367.5 1936.0,367.5 1937.0,367.5 1938.0,367.5 1939.0,367.5 1940.0,367.5 1941.0,367.5 1942.0,367.5 1943.0,367.5 1944.0,367.5 1945.0,367.5 1946.0,367.5 1947.0,367.5 1948.0,367.5 1949.0,367.5 1950.0,367.5 1951.0,367.5 1952.0,367.5 1953.0,367.5 1954.0,367.5 1955.0,367.5 1956.0,367.5 1957.0,367.5 1958.0,367.5 1959.0,367.5 1960.0,367.5 1961.0,367.5 1962.0,367.5 1963.0,367.5 1964.0,367.5 1965.0,367.5 1966.0,367.5 1967.0,367.5 1968.0,367.5 1969.0,367.5 1970.0,367.5 1971.0,367.5 1972.0,367.5 1973.0,367.5 1974.0,367.5 1975.0,367.5 1976.0,367.5 1977.0,367.5 1978.0,367.5 1979.0,367.5 1980.0,367.5 1981.0,367.5 1982.0,367.5 1983.0,367.5 1984.0,367.5 1985.0,367.5 1986.0,367.5 1987.0,367.5 1988.0,367.5 1989.0,367.5 1990.0,367.5" fill="none" stroke="#ff00ff" stroke-width="2.2" stroke-linejoin="round" stroke-linecap="round" />
<polyline points="1489.0,356.0 1492.2,354.5 1495.4,353.8 1498.6,363.0 1501.8,368.2 1505.0,371.2 1508.2,357.0 1511.4,362.2 1514.6,346.9 1517.8,341.5 1521.0,353.7 1524.2,355.5 1527.4,347.5 1530.6,345.4 1533.8,366.2 1537.0,354.2 1540.2,346.3 1543.4,382.2 1546.6,362.9 1549.8,358.5 1553.0,367.5 1556.2,354.5 1559.4,375.6 1562.6,347.5 1565.8,349.6 1569.0,361.8 1572.2,372.3 1575.4,388.0 1578.6,347.8 1581.8,354.7 1585.0,363.4 1588.2,366.3 1591.4,370.2 1594.6,364.3 1597.8,380.9 1601.0,356.6 1604.2,362.1 1607.4,367.5 1610.6,362.5 1613.8,361.1 1617.0,357.8 1620.2,354.2 1623.4,348.6 1626.6,350.2 1629.8,334.4 1633.0,339.5 1636.2,318.6 1639.4,365.6 1642.6,365.6 1645.8,358.6 1649.0,360.7 1652.2,361.0 1655.4,374.8 1658.6,374.4 1661.8,383.1 1665.0,362.7 1668.2,372.3 1671.4,357.6 1674.6,361.1 1677.8,344.0 1681.0,345.3 1684.2,344.5 1687.4,326.0 1690.6,313.0 1693.8,298.5 1697.0,275.1 1700.2,256.6 1703.4,223.2 1706.6,211.5 1709.8,194.3 1713.0,175.0 1716.2,163.9 1719.4,178.0 1722.6,185.2 1725.8,202.0 1729.0,225.5 1732.2,244.8 1735.4,269.8 1738.6,287.3 1741.8,309.8 1745.0,320.2 1748.2,330.7 1751.4,332.7 1754.6,347.8 1757.8,350.1 1761.0,348.9 1764.2,362.7 1767.4,349.2 1770.6,351.8 1773.8,330.8 1777.0,317.1 1780.2,284.1 1783.4,244.4 1786.6,206.4 1789.8,161.6 1793.0,117.9 1796.2,82.1 1799.4,49.5 1802.6,40.2 1805.8,53.4 1809.0,76.1 1812.2,110.6 1815.4,153.6 1818.6,203.0 1821.8,244.1 1825.0,273.6 1828.2,298.4 1831.4,324.7 1834.6,328.2 1837.8,340.3 1841.0,326.9 1844.2,320.1 1847.4,332.9 1850.6,328.4 1853.8,338.0 1857.0,341.4 1860.2,320.2 1863.4,326.5 1866.6,324.0 1869.8,310.0 1873.0,305.5 1876.2,322.3 1879.4,306.4 1882.6,308.2 1885.8,305.9 1889.0,307.3 1892.2,304.5 1895.4,315.7 1898.6,321.1 1901.8,310.9 1905.0,305.6 1908.2,318.9 1911.4,310.1 1914.6,319.4 1917.8,336.3 1921.0,347.4 1924.2,335.8 1927.4,327.9 1930.6,344.4 1933.8,324.4 1937.0,338.3 1940.2,357.0 1943.4,353.1 1946.6,339.0 1949.8,338.4 1953.0,358.5 1956.2,352.9 1959.4,349.7 1962.6,358.0 1965.8,351.3 1969.0,341.8 1972.2,362.6 1975.4,352.1 1978.6,349.7 1981.8,356.5 1985.0,368.5 1988.2,360.7" fill="none" stroke="#000" stroke-width="4.2" stroke-linejoin="round" stroke-linecap="round" />
<polyline points="1489.0,367.5 1490.0,367.5 1491.0,367.5 1492.0,367.5 1493.0,367.5 1494.0,367.5 1495.0,367.5 1496.0,367.5 1497.0,367.5 1498.0,367.5 1499.0,367.5 1500.0,367.5 1501.0,367.5 1502.0,367.5 1503.0,367.5 1504.0,367.5 1505.0,367.5 1506.0,367.5 1507.0,367.5 1508.0,367.5 1509.0,367.5 1510.0,367.5 1511.0,367.5 1512.0,367.5 1513.0,367.5 1514.0,367.5 1515.0,367.5 1516.0,367.5 1517.0,367.5 1518.0,367.5 1519.0,367.5 1520.0,367.5 1521.0,367.5 1522.0,367.5 1523.0,367.5 1524.0,367.5 1525.0,367.5 1526.0,367.5 1527.0,367.5 1528.0,367.5 1529.0,367.5 1530.0,367.5 1531.0,367.5 1532.0,367.5 1533.0,367.5 1534.0,367.5 1535.0,367.5 1536.0,367.5 1537.0,367.5 1538.0,367.5 1539.0,367.5 1540.0,367.5 1541.0,367.5 1542.0,367.5 1543.0,367.5 1544.0,367.5 1545.0,367.5 1546.0,367.5 1547.0,367.5 1548.0,367.5 1549.0,367.5 1550.0,367.5 1551.0,367.5 1552.0,367.5 1553.0,367.5 1554.0,367.5 1555.0,367.5 1556.0,367.5 1557.0,367.5 1558.0,367.5 1559.0,367.5 1560.0,367.5 1561.0,367.5 1562.0,367.5 1563.0,367.5 1564.0,367.5 1565.0,367.5 1566.0,367.5 1567.0,367.5 1568.0,367.5 1569.0,367.5 1570.0,367.5 1571.0,367.5 1572.0,367.5 1573.0,367.5 1574.0,367.5 1575.0,367.5 1576.0,367.5 1577.0,367.5 1578.0,367.5 1579.0,367.5 1580.0,367.5 1581.0,367.5 1582.0,367.5 1583.0,367.5 1584.0,367.5 1585.0,367.5 1586.0,367.5 1587.0,367.5 1588.0,367.5 1589.0,367.5 1590.0,367.5 1591.0,367.5 1592.0,367.5 1593.0,367.5 1594.0,367.4 1595.0,367.4 1596.0,367.4 1597.0,367.4 1598.0,367.3 1599.0,367.3 1600.0,367.2 1601.0,367.1 1602.0,367.1 1603.0,366.9 1604.0,366.8 1605.0,366.6 1606.0,366.4 1607.0,366.2 1608.0,365.9 1609.0,365.6 1610.0,365.2 1611.0,364.8 1612.0,364.3 1613.0,363.8 1614.0,363.2 1615.0,362.6 1616.0,362.0 1617.0,361.3 1618.0,360.6 1619.0,359.8 1620.0,359.1 1621.0,358.3 1622.0,357.6 1623.0,356.9 1624.0,356.3 1625.0,355.7 1626.0,355.2 1627.0,354.7 1628.0,354.4 1629.0,354.2 1630.0,354.0 1631.0,354.0 1632.0,354.1 1633.0,354.3 1634.0,354.6 1635.0,355.0 1636.0,355.5 1637.0,356.0 1638.0,356.7 1639.0,357.3 1640.0,358.1 1641.0,358.8 1642.0,359.5 1643.0,360.3 1644.0,361.0 1645.0,361.7 1646.0,362.4 1647.0,363.0 1648.0,363.6 1649.0,364.1 1650.0,364.6 1651.0,365.0 1652.0,365.4 1653.0,365.7 1654.0,366.0 1655.0,366.2 1656.0,366.4 1657.0,366.5 1658.0,366.6 1659.0,366.6 1660.0,366.7 1661.0,366.6 1662.0,366.6 1663.0,366.5 1664.0,366.3 1665.0,366.1 1666.0,365.9 1667.0,365.6 1668.0,365.3 1669.0,364.8 1670.0,364.3 1671.0,363.7 1672.0,363.0 1673.0,362.2 1674.0,361.3 1675.0,360.3 1676.0,359.0 1677.0,357.7 1678.0,356.1 1679.0,354.3 1680.0,352.4 1681.0,350.1 1682.0,347.7 1683.0,345.0 1684.0,342.0 1685.0,338.7 1686.0,335.1 1687.0,331.2 1688.0,327.0 1689.0,322.4 1690.0,317.6 1691.0,312.4 1692.0,306.9 1693.0,301.1 1694.0,295.1 1695.0,288.8 1696.0,282.2 1697.0,275.5 1698.0,268.6 1699.0,261.6 1700.0,254.5 1701.0,247.4 1702.0,240.3 1703.0,233.3 1704.0,226.5 1705.0,219.9 1706.0,213.5 1707.0,207.5 1708.0,201.9 1709.0,196.7 1710.0,192.0 1711.0,187.8 1712.0,184.3 1713.0,181.4 1714.0,179.1 1715.0,177.5 1716.0,176.7 1717.0,176.5 1718.0,177.1 1719.0,178.4 1720.0,180.4 1721.0,183.0 1722.0,186.3 1723.0,190.2 1724.0,194.7 1725.0,199.7 1726.0,205.2 1727.0,211.1 1728.0,217.3 1729.0,223.8 1730.0,230.6 1731.0,237.5 1732.0,244.6 1733.0,251.7 1734.0,258.7 1735.0,265.8 1736.0,272.7 1737.0,279.5 1738.0,286.2 1739.0,292.6 1740.0,298.7 1741.0,304.6 1742.0,310.2 1743.0,315.5 1744.0,320.5 1745.0,325.1 1746.0,329.5 1747.0,333.5 1748.0,337.2 1749.0,340.5 1750.0,343.6 1751.0,346.4 1752.0,348.9 1753.0,351.1 1754.0,353.0 1755.0,354.7 1756.0,356.1 1757.0,357.3 1758.0,358.3 1759.0,359.0 1760.0,359.5 1761.0,359.7 1762.0,359.7 1763.0,359.5 1764.0,358.9 1765.0,358.1 1766.0,356.9 1767.0,355.4 1768.0,353.5 1769.0,351.1 1770.0,348.4 1771.0,345.1 1772.0,341.3 1773.0,336.8 1774.0,331.8 1775.0,326.1 1776.0,319.7 1777.0,312.5 1778.0,304.6 1779.0,295.9 1780.0,286.5 1781.0,276.2 1782.0,265.2 1783.0,253.5 1784.0,241.1 1785.0,228.1 1786.0,214.6 1787.0,200.7 1788.0,186.6 1789.0,172.2 1790.0,157.9 1791.0,143.7 1792.0,129.8 1793.0,116.5 1794.0,103.8 1795.0,91.9 1796.0,81.1 1797.0,71.4 1798.0,63.1 1799.0,56.2 1800.0,50.8 1801.0,47.1 1802.0,45.0 1803.0,44.7 1804.0,46.1 1805.0,49.2 1806.0,54.0 1807.0,60.3 1808.0,68.0 1809.0,77.1 1810.0,87.4 1811.0,98.8 1812.0,111.0 1813.0,123.9 1814.0,137.3 1815.0,151.1 1816.0,165.0 1817.0,179.0 1818.0,192.8 1819.0,206.4 1820.0,219.5 1821.0,232.2 1822.0,244.3 1823.0,255.6 1824.0,266.3 1825.0,276.2 1826.0,285.3 1827.0,293.7 1828.0,301.2 1829.0,308.0 1830.0,314.0 1831.0,319.3 1832.0,323.9 1833.0,327.9 1834.0,331.3 1835.0,334.1 1836.0,336.5 1837.0,338.4 1838.0,339.9 1839.0,341.0 1840.0,341.8 1841.0,342.4 1842.0,342.7 1843.0,342.8 1844.0,342.7 1845.0,342.4 1846.0,342.1 1847.0,341.6 1848.0,341.0 1849.0,340.4 1850.0,339.7 1851.0,338.9 1852.0,338.1 1853.0,337.3 1854.0,336.5 1855.0,335.6 1856.0,334.7 1857.0,333.8 1858.0,332.9 1859.0,332.0 1860.0,331.1 1861.0,330.3 1862.0,329.4 1863.0,328.6 1864.0,327.7 1865.0,326.9 1866.0,326.1 1867.0,325.3 1868.0,324.6 1869.0,323.9 1870.0,323.2 1871.0,322.6 1872.0,321.9 1873.0,321.3 1874.0,320.8 1875.0,320.3 1876.0,319.8 1877.0,319.4 1878.0,319.0 1879.0,318.6 1880.0,318.3 1881.0,318.1 1882.0,317.9 1883.0,317.7 1884.0,317.6 1885.0,317.5 1886.0,317.5 1887.0,317.5 1888.0,317.6 1889.0,317.7 1890.0,317.9 1891.0,318.1 1892.0,318.3 1893.0,318.6 1894.0,319.0 1895.0,319.4 1896.0,319.8 1897.0,320.3 1898.0,320.8 1899.0,321.3 1900.0,321.9 1901.0,322.6 1902.0,323.2 1903.0,323.9 1904.0,324.6 1905.0,325.4 1906.0,326.1 1907.0,326.9 1908.0,327.7 1909.0,328.6 1910.0,329.4 1911.0,330.3 1912.0,331.2 1913.0,332.1 1914.0,333.0 1915.0,333.9 1916.0,334.8 1917.0,335.8 1918.0,336.7 1919.0,337.6 1920.0,338.6 1921.0,339.5 1922.0,340.4 1923.0,341.3 1924.0,342.3 1925.0,343.2 1926.0,344.1 1927.0,344.9 1928.0,345.8 1929.0,346.7 1930.0,347.5 1931.0,348.3 1932.0,349.1 1933.0,349.9 1934.0,350.7 1935.0,351.5 1936.0,352.2 1937.0,352.9 1938.0,353.6 1939.0,354.3 1940.0,354.9 1941.0,355.6 1942.0,356.2 1943.0,356.8 1944.0,357.3 1945.0,357.9 1946.0,358.4 1947.0,358.9 1948.0,359.4 1949.0,359.9 1950.0,360.3 1951.0,360.7 1952.0,361.1 1953.0,361.5 1954.0,361.9 1955.0,362.2 1956.0,362.6 1957.0,362.9 1958.0,363.2 1959.0,363.5 1960.0,363.8 1961.0,364.0 1962.0,364.3 1963.0,364.5 1964.0,364.7 1965.0,364.9 1966.0,365.1 1967.0,365.3 1968.0,365.4 1969.0,365.6 1970.0,365.7 1971.0,365.9 1972.0,366.0 1973.0,366.1 1974.0,366.2 1975.0,366.3 1976.0,366.4 1977.0,366.5 1978.0,366.6 1979.0,366.7 1980.0,366.7 1981.0,366.8 1982.0,366.9 1983.0,366.9 1984.0,367.0 1985.0,367.0 1986.0,367.1 1987.0,367.1 1988.0,367.1 1989.0,367.2 1990.0,367.2" fill="none" stroke="#0c0c8a" stroke-width="4.8" stroke-linejoin="round" stroke-linecap="round" />
<line x1="1488.5" y1="367.5" x2="1990.5" y2="367.5" stroke="#0000ff" stroke-width="3.8"/>
<line x1="1633.0" y1="347.0" x2="1633.0" y2="277.4" stroke="#000" stroke-width="3.2"/>
<polygon points="1633.0,260.4 1639.2,279.4 1633.0,275.6 1626.8,279.4" fill="#000"/>
<line x1="1707.4" y1="186.0" x2="1662.2" y2="156.6" stroke="#000" stroke-width="3.2"/>
<polygon points="1647.9,147.3 1667.2,152.4 1660.6,155.6 1660.4,162.9" fill="#000"/>
<line x1="1815.0" y1="144.7" x2="1853.2" y2="129.7" stroke="#000" stroke-width="3.2"/>
<polygon points="1869.0,123.5 1853.6,136.3 1854.9,129.1 1849.0,124.6" fill="#000"/>
<line x1="1884.2" y1="306.6" x2="1884.2" y2="253.5" stroke="#000" stroke-width="3.2"/>
<polygon points="1884.2,236.5 1890.5,255.5 1884.2,251.7 1878.0,255.5" fill="#000"/>
<text transform="translate(1594.00,253.00) scale(0.9546,1)" font-family='"Liberation Sans", Arial, sans-serif' font-weight="bold" font-size="28.99" fill="#ff0000" ><tspan>Mo</tspan><tspan font-size="17.97" dy="-12.17">6+</tspan></text>
<text transform="translate(1566.26,137.40) scale(1.0376,1)" font-family='"Liberation Sans", Arial, sans-serif' font-weight="bold" font-size="24.78" fill="#ff0000" ><tspan>3d</tspan><tspan font-size="24.04" dy="6.69">3/2</tspan></text>
<text transform="translate(1852.26,114.80) scale(1.0651,1)" font-family='"Liberation Sans", Arial, sans-serif' font-weight="bold" font-size="23.91" fill="#ff0000" ><tspan>3d</tspan><tspan font-size="23.20" dy="6.46">5/2</tspan></text>
<text transform="translate(1859.04,228.20) scale(1.1545,1)" font-family='"Liberation Sans", Arial, sans-serif' font-weight="bold" font-size="23.77" fill="#ff0000" ><tspan>2s</tspan></text>
<rect x="58" y="582" width="611.3" height="454.5" fill="none" stroke="#000" stroke-width="5" stroke-linejoin="round"/>
<path d="M114.4,1036.5V1046.0 M253.0,1036.5V1046.0 M391.6,1036.5V1046.0 M530.2,1036.5V1046.0 M668.8,1036.5V1046.0 M183.7,1036.5V1040.5 M322.3,1036.5V1040.5 M460.9,1036.5V1040.5 M599.5,1036.5V1040.5" stroke="#000" stroke-width="3.2" stroke-linecap="round" fill="none"/>
<text transform="translate(91.83,1072.40) scale(1.1230,1)" font-family='"Liberation Sans", Arial, sans-serif' font-weight="bold" font-size="23.33" fill="#000" ><tspan>175</tspan></text>
<text transform="translate(231.11,1072.40) scale(1.1337,1)" font-family='"Liberation Sans", Arial, sans-serif' font-weight="bold" font-size="23.33" fill="#000" ><tspan>170</tspan></text>
<text transform="translate(370.23,1072.40) scale(1.1230,1)" font-family='"Liberation Sans", Arial, sans-serif' font-weight="bold" font-size="23.33" fill="#000" ><tspan>165</tspan></text>
<text transform="translate(508.31,1072.40) scale(1.1337,1)" font-family='"Liberation Sans", Arial, sans-serif' font-weight="bold" font-size="23.33" fill="#000" ><tspan>160</tspan></text>
<text transform="translate(646.13,1072.40) scale(1.1230,1)" font-family='"Liberation Sans", Arial, sans-serif' font-weight="bold" font-size="23.33" fill="#000" ><tspan>155</tspan></text>
<text transform="translate(229.25,1116.00) scale(1.1025,1)" font-family='"Liberation Sans", Arial, sans-serif' font-weight="bold" font-size="32.75" fill="#000" ><tspan>Binding energy (eV)</tspan></text>
<text transform="translate(29.30,925.24) rotate(-90) scale(1.0362,1)" font-family='"Liberation Sans", Arial, sans-serif' font-weight="bold" font-size="34.78" fill="#000" ><tspan>Intensity(a.u.)</tspan></text>
<text transform="translate(73.57,630.40) scale(0.9595,1)" font-family='"Liberation Serif", "Times New Roman", serif' font-weight="bold" font-size="50.69" fill="#ff0000" ><tspan>D</tspan></text>
<text transform="translate(603.04,615.50) scale(1.0794,1)" font-family='"Liberation Sans", Arial, sans-serif' font-weight="bold" font-size="26.52" fill="#1a1aff" ><tspan>S 2p</tspan></text>
<polygon points="431.8,960.5 431.8,960.4 432.8,960.4 433.8,960.4 434.8,960.3 435.8,960.2 436.8,960.1 437.8,960.0 438.8,959.9 439.8,959.7 440.8,959.5 441.8,959.2 442.8,958.8 443.8,958.3 444.8,957.7 445.8,957.0 446.8,956.1 447.8,955.0 448.8,953.7 449.8,952.1 450.8,950.2 451.8,948.0 452.8,945.4 453.8,942.4 454.8,938.9 455.8,934.8 456.8,930.2 457.8,925.0 458.8,919.2 459.8,912.7 460.8,905.5 461.8,897.6 462.8,888.9 463.8,879.7 464.8,869.7 465.8,859.2 466.8,848.1 467.8,836.6 468.8,824.7 469.8,812.6 470.8,800.3 471.8,788.2 472.8,776.2 473.8,764.6 474.8,753.6 475.8,743.2 476.8,733.7 477.8,725.3 478.8,718.0 479.8,712.0 480.8,707.4 481.8,704.3 482.8,702.7 483.8,702.7 484.8,703.9 485.8,706.4 486.8,710.1 487.8,715.0 488.8,720.9 489.8,727.8 490.8,735.7 491.8,744.3 492.8,753.6 493.8,763.5 494.8,773.8 495.8,784.4 496.8,795.3 497.8,806.2 498.8,817.1 499.8,827.9 500.8,838.5 501.8,848.8 502.8,858.7 503.8,868.2 504.8,877.2 505.8,885.7 506.8,893.6 507.8,901.0 508.8,907.9 509.8,914.2 510.8,919.9 511.8,925.1 512.8,929.8 513.8,934.0 514.8,937.7 515.8,941.0 516.8,943.9 517.8,946.4 518.8,948.7 519.8,950.6 520.8,952.2 521.8,953.6 522.8,954.8 523.8,955.8 524.8,956.7 525.8,957.4 526.8,958.0 527.8,958.5 528.8,958.9 529.8,959.2 530.8,959.5 531.8,959.7 532.8,959.9 533.8,960.0 534.8,960.1 535.8,960.2 536.8,960.3 537.8,960.3 538.8,960.4 539.8,960.4 540.8,960.4 540.8,960.5" fill="#ff00ff" stroke="none" />
<polyline points="431.8,960.4 432.8,960.4 433.8,960.4 434.8,960.3 435.8,960.2 436.8,960.1 437.8,960.0 438.8,959.9 439.8,959.7 440.8,959.5 441.8,959.2 442.8,958.8 443.8,958.3 444.8,957.7 445.8,957.0 446.8,956.1 447.8,955.0 448.8,953.7 449.8,952.1 450.8,950.2 451.8,948.0 452.8,945.4 453.8,942.4 454.8,938.9 455.8,934.8 456.8,930.2 457.8,925.0 458.8,919.2 459.8,912.7 460.8,905.5 461.8,897.6 462.8,888.9 463.8,879.7 464.8,869.7 465.8,859.2 466.8,848.1 467.8,836.6 468.8,824.7 469.8,812.6 470.8,800.3 471.8,788.2 472.8,776.2 473.8,764.6 474.8,753.6 475.8,743.2 476.8,733.7 477.8,725.3 478.8,718.0 479.8,712.0 480.8,707.4 481.8,704.3 482.8,702.7 483.8,702.7 484.8,703.9 485.8,706.4 486.8,710.1 487.8,715.0 488.8,720.9 489.8,727.8 490.8,735.7 491.8,744.3 492.8,753.6 493.8,763.5 494.8,773.8 495.8,784.4 496.8,795.3 497.8,806.2 498.8,817.1 499.8,827.9 500.8,838.5 501.8,848.8 502.8,858.7 503.8,868.2 504.8,877.2 505.8,885.7 506.8,893.6 507.8,901.0 508.8,907.9 509.8,914.2 510.8,919.9 511.8,925.1 512.8,929.8 513.8,934.0 514.8,937.7 515.8,941.0 516.8,943.9 517.8,946.4 518.8,948.7 519.8,950.6 520.8,952.2 521.8,953.6 522.8,954.8 523.8,955.8 524.8,956.7 525.8,957.4 526.8,958.0 527.8,958.5 528.8,958.9 529.8,959.2 530.8,959.5 531.8,959.7 532.8,959.9 533.8,960.0 534.8,960.1 535.8,960.2 536.8,960.3 537.8,960.3 538.8,960.4 539.8,960.4 540.8,960.4" fill="none" stroke="#1a1aff" stroke-width="2.4" stroke-linejoin="round" stroke-linecap="round" />
<polygon points="114.8,960.5 114.8,960.4 115.8,960.4 116.8,960.4 117.8,960.4 118.8,960.4 119.8,960.4 120.8,960.4 121.8,960.4 122.8,960.4 123.8,960.4 124.8,960.4 125.8,960.4 126.8,960.4 127.8,960.4 128.8,960.4 129.8,960.4 130.8,960.4 131.8,960.4 132.8,960.4 133.8,960.4 134.8,960.4 135.8,960.4 136.8,960.4 137.8,960.4 138.8,960.4 139.8,960.4 140.8,960.4 141.8,960.4 142.8,960.4 143.8,960.4 144.8,960.4 145.8,960.4 146.8,960.4 147.8,960.4 148.8,960.4 149.8,960.4 150.8,960.4 151.8,960.4 152.8,960.4 153.8,960.4 154.8,960.4 155.8,960.4 156.8,960.4 157.8,960.4 158.8,960.4 159.8,960.4 160.8,960.4 161.8,960.4 162.8,960.4 163.8,960.4 164.8,960.4 165.8,960.4 166.8,960.4 167.8,960.4 168.8,960.4 169.8,960.4 170.8,960.4 171.8,960.4 172.8,960.4 173.8,960.4 174.8,960.4 175.8,960.4 176.8,960.4 177.8,960.4 178.8,960.4 179.8,960.4 180.8,960.4 181.8,960.4 182.8,960.4 183.8,960.4 184.8,960.4 185.8,960.4 186.8,960.4 187.8,960.4 188.8,960.4 189.8,960.4 190.8,960.4 191.8,960.3 192.8,960.3 193.8,960.3 194.8,960.3 195.8,960.3 196.8,960.3 197.8,960.3 198.8,960.3 199.8,960.3 200.8,960.3 201.8,960.3 202.8,960.3 203.8,960.3 204.8,960.3 205.8,960.3 206.8,960.3 207.8,960.3 208.8,960.3 209.8,960.3 210.8,960.3 211.8,960.3 212.8,960.3 213.8,960.3 214.8,960.3 215.8,960.3 216.8,960.3 217.8,960.3 218.8,960.3 219.8,960.3 220.8,960.3 221.8,960.3 222.8,960.3 223.8,960.3 224.8,960.3 225.8,960.3 226.8,960.3 227.8,960.3 228.8,960.3 229.8,960.3 230.8,960.3 231.8,960.3 232.8,960.3 233.8,960.3 234.8,960.3 235.8,960.3 236.8,960.3 237.8,960.3 238.8,960.3 239.8,960.3 240.8,960.3 241.8,960.3 242.8,960.3 243.8,960.3 244.8,960.3 245.8,960.3 246.8,960.3 247.8,960.3 248.8,960.3 249.8,960.2 250.8,960.2 251.8,960.2 252.8,960.2 253.8,960.2 254.8,960.2 255.8,960.2 256.8,960.2 257.8,960.2 258.8,960.2 259.8,960.2 260.8,960.2 261.8,960.2 262.8,960.2 263.8,960.2 264.8,960.2 265.8,960.2 266.8,960.2 267.8,960.2 268.8,960.2 269.8,960.2 270.8,960.2 271.8,960.2 272.8,960.2 273.8,960.2 274.8,960.2 275.8,960.2 276.8,960.2 277.8,960.2 278.8,960.2 279.8,960.2 280.8,960.1 281.8,960.1 282.8,960.1 283.8,960.1 284.8,960.1 285.8,960.1 286.8,960.1 287.8,960.1 288.8,960.1 289.8,960.1 290.8,960.1 291.8,960.1 292.8,960.1 293.8,960.1 294.8,960.1 295.8,960.1 296.8,960.1 297.8,960.1 298.8,960.1 299.8,960.1 300.8,960.0 301.8,960.0 302.8,960.0 303.8,960.0 304.8,960.0 305.8,960.0 306.8,960.0 307.8,960.0 308.8,960.0 309.8,960.0 310.8,960.0 311.8,960.0 312.8,960.0 313.8,960.0 314.8,959.9 315.8,959.9 316.8,959.9 317.8,959.9 318.8,959.9 319.8,959.9 320.8,959.9 321.8,959.9 322.8,959.9 323.8,959.9 324.8,959.9 325.8,959.8 326.8,959.8 327.8,959.8 328.8,959.8 329.8,959.8 330.8,959.8 331.8,959.8 332.8,959.8 333.8,959.8 334.8,959.7 335.8,959.7 336.8,959.7 337.8,959.7 338.8,959.7 339.8,959.7 340.8,959.7 341.8,959.6 342.8,959.6 343.8,959.6 344.8,959.6 345.8,959.6 346.8,959.6 347.8,959.5 348.8,959.5 349.8,959.5 350.8,959.5 351.8,959.5 352.8,959.4 353.8,959.4 354.8,959.4 355.8,959.4 356.8,959.3 357.8,959.3 358.8,959.3 359.8,959.3 360.8,959.2 361.8,959.2 362.8,959.2 363.8,959.2 364.8,959.1 365.8,959.1 366.8,959.1 367.8,959.0 368.8,959.0 369.8,958.9 370.8,958.9 371.8,958.9 372.8,958.8 373.8,958.8 374.8,958.7 375.8,958.7 376.8,958.6 377.8,958.6 378.8,958.5 379.8,958.5 380.8,958.4 381.8,958.4 382.8,958.3 383.8,958.2 384.8,958.2 385.8,958.1 386.8,958.0 387.8,957.9 388.8,957.8 389.8,957.7 390.8,957.6 391.8,957.5 392.8,957.4 393.8,957.3 394.8,957.1 395.8,956.9 396.8,956.8 397.8,956.6 398.8,956.3 399.8,956.1 400.8,955.8 401.8,955.5 402.8,955.1 403.8,954.7 404.8,954.2 405.8,953.6 406.8,953.0 407.8,952.3 408.8,951.5 409.8,950.6 410.8,949.6 411.8,948.5 412.8,947.2 413.8,945.8 414.8,944.2 415.8,942.4 416.8,940.4 417.8,938.3 418.8,935.9 419.8,933.3 420.8,930.4 421.8,927.4 422.8,924.0 423.8,920.5 424.8,916.7 425.8,912.6 426.8,908.4 427.8,903.9 428.8,899.2 429.8,894.3 430.8,889.3 431.8,884.2 432.8,878.9 433.8,873.6 434.8,868.3 435.8,863.0 436.8,857.8 437.8,852.8 438.8,847.9 439.8,843.3 440.8,839.1 441.8,835.2 442.8,831.8 443.8,828.9 444.8,826.6 445.8,824.9 446.8,823.8 447.8,823.5 448.8,823.9 449.8,825.0 450.8,826.9 451.8,829.4 452.8,832.6 453.8,836.3 454.8,840.5 455.8,845.2 456.8,850.2 457.8,855.4 458.8,860.9 459.8,866.5 460.8,872.1 461.8,877.8 462.8,883.4 463.8,888.9 464.8,894.2 465.8,899.4 466.8,904.4 467.8,909.1 468.8,913.6 469.8,917.8 470.8,921.7 471.8,925.4 472.8,928.8 473.8,931.9 474.8,934.8 475.8,937.4 476.8,939.7 477.8,941.8 478.8,943.7 479.8,945.4 480.8,946.9 481.8,948.3 482.8,949.4 483.8,950.5 484.8,951.4 485.8,952.2 486.8,952.9 487.8,953.5 488.8,954.1 489.8,954.5 490.8,955.0 491.8,955.3 492.8,955.6 493.8,955.9 494.8,956.2 495.8,956.4 496.8,956.6 497.8,956.8 498.8,956.9 499.8,957.1 500.8,957.2 501.8,957.4 502.8,957.5 503.8,957.6 504.8,957.7 505.8,957.8 506.8,957.9 507.8,957.9 508.8,958.0 509.8,958.1 510.8,958.2 511.8,958.2 512.8,958.3 513.8,958.4 514.8,958.4 515.8,958.5 516.8,958.5 517.8,958.6 518.8,958.6 519.8,958.7 520.8,958.7 521.8,958.8 522.8,958.8 523.8,958.9 524.8,958.9 525.8,958.9 526.8,959.0 527.8,959.0 528.8,959.1 529.8,959.1 530.8,959.1 531.8,959.2 532.8,959.2 533.8,959.2 534.8,959.2 535.8,959.3 536.8,959.3 537.8,959.3 538.8,959.3 539.8,959.4 540.8,959.4 541.8,959.4 542.8,959.4 543.8,959.5 544.8,959.5 545.8,959.5 546.8,959.5 547.8,959.5 548.8,959.6 549.8,959.6 550.8,959.6 551.8,959.6 552.8,959.6 553.8,959.6 554.8,959.7 555.8,959.7 556.8,959.7 557.8,959.7 558.8,959.7 559.8,959.7 560.8,959.7 561.8,959.8 562.8,959.8 563.8,959.8 564.8,959.8 565.8,959.8 566.8,959.8 567.8,959.8 568.8,959.8 569.8,959.8 570.8,959.9 571.8,959.9 572.8,959.9 573.8,959.9 574.8,959.9 575.8,959.9 576.8,959.9 577.8,959.9 578.8,959.9 579.8,959.9 580.8,959.9 581.8,960.0 582.8,960.0 583.8,960.0 584.8,960.0 585.8,960.0 586.8,960.0 587.8,960.0 588.8,960.0 589.8,960.0 590.8,960.0 591.8,960.0 592.8,960.0 593.8,960.0 594.8,960.0 595.8,960.1 596.8,960.1 597.8,960.1 598.8,960.1 599.8,960.1 600.8,960.1 601.8,960.1 602.8,960.1 603.8,960.1 604.8,960.1 605.8,960.1 606.8,960.1 607.8,960.1 608.8,960.1 609.8,960.1 610.8,960.1 611.8,960.1 611.8,960.5" fill="#006400" stroke="none" />
<polyline points="114.8,975.2 117.6,951.5 120.3,960.0 123.1,950.5 125.9,948.8 128.6,940.3 131.4,945.9 134.2,957.7 137.0,972.8 139.7,941.9 142.5,933.3 145.3,975.2 148.0,956.7 150.8,948.6 153.6,953.5 156.3,942.6 159.1,951.1 161.9,958.8 164.7,963.6 167.4,948.4 170.2,935.5 173.0,955.6 175.7,960.2 178.5,956.2 181.3,948.1 184.0,955.3 186.8,959.3 189.6,948.4 192.4,944.4 195.1,956.3 197.9,960.1 200.7,987.0 203.4,954.3 206.2,948.8 209.0,950.2 211.7,946.3 214.5,946.9 217.3,949.3 220.1,949.8 222.8,960.2 225.6,945.0 228.4,955.5 231.1,980.9 233.9,964.3 236.7,954.6 239.4,950.5 242.2,958.2 245.0,953.4 247.8,949.9 250.5,962.8 253.3,957.5 256.1,960.8 258.8,939.8 261.6,957.3 264.4,951.9 267.1,926.7 269.9,968.4 272.7,954.3 275.5,957.2 278.2,952.8 281.0,948.4 283.8,946.3 286.5,958.5 289.3,977.2 292.1,952.0 294.8,955.7 297.6,961.7 300.4,947.4 303.2,951.8 305.9,981.7 308.7,965.5 311.5,954.4 314.2,949.7 317.0,942.0 319.8,951.5 322.5,958.5 325.3,935.5 328.1,947.6 330.9,958.4 333.6,960.2 336.4,953.5 339.2,956.3 341.9,947.3 344.7,947.0 347.5,953.9 350.2,951.6 353.0,950.7 355.8,953.5 358.6,953.5 361.3,946.0 364.1,947.6 366.9,954.7 369.6,958.9 372.4,960.3 375.2,946.0 377.9,958.4 380.7,956.1 383.5,950.8 386.3,954.0 389.0,955.9 391.8,961.8 394.6,943.1 397.3,953.3 400.1,946.9 402.9,925.0 405.6,950.3 408.4,948.7 411.2,937.0 414.0,937.0 416.7,936.5 419.5,921.9 422.3,924.9 425.0,909.8 427.8,891.6 430.6,885.3 433.3,873.9 436.1,855.9 438.9,840.0 441.7,837.9 444.4,817.2 447.2,811.1 450.0,802.2 452.7,809.4 455.5,814.5 458.3,809.2 461.0,811.9 463.8,802.1 466.6,784.2 469.4,764.3 472.1,747.2 474.9,718.6 477.7,694.9 480.4,679.7 483.2,676.1 486.0,688.7 488.7,715.8 491.5,725.3 494.3,762.7 497.1,796.2 499.8,819.0 502.6,852.1 505.4,863.0 508.1,887.8 510.9,900.5 513.7,924.8 516.4,933.8 519.2,936.7 522.0,949.7 524.8,949.7 527.5,947.1 530.3,947.5 533.1,942.0 535.8,950.6 538.6,965.7 541.4,951.6 544.1,961.3 546.9,948.9 549.7,957.6 552.5,955.3 555.2,951.0 558.0,938.1 560.8,939.5 563.5,960.2 566.3,951.1 569.1,955.9 571.8,934.7 574.6,939.4 577.4,964.6 580.2,959.0 582.9,929.1 585.7,937.4 588.5,923.6 591.2,928.2 594.0,948.9 596.8,940.8 599.5,930.0 602.3,952.0 605.1,949.1 607.9,947.6 610.6,955.6" fill="none" stroke="#000" stroke-width="4.2" stroke-linejoin="round" stroke-linecap="round" />
<polyline points="114.8,960.4 115.8,960.4 116.8,960.4 117.8,960.4 118.8,960.4 119.8,960.4 120.8,960.4 121.8,960.4 122.8,960.4 123.8,960.4 124.8,960.4 125.8,960.4 126.8,960.4 127.8,960.4 128.8,960.4 129.8,960.4 130.8,960.4 131.8,960.4 132.8,960.4 133.8,960.4 134.8,960.4 135.8,960.4 136.8,960.4 137.8,960.4 138.8,960.4 139.8,960.4 140.8,960.4 141.8,960.4 142.8,960.4 143.8,960.4 144.8,960.4 145.8,960.4 146.8,960.4 147.8,960.4 148.8,960.4 149.8,960.4 150.8,960.4 151.8,960.4 152.8,960.4 153.8,960.4 154.8,960.4 155.8,960.4 156.8,960.4 157.8,960.4 158.8,960.4 159.8,960.4 160.8,960.4 161.8,960.4 162.8,960.4 163.8,960.4 164.8,960.4 165.8,960.4 166.8,960.4 167.8,960.4 168.8,960.4 169.8,960.4 170.8,960.4 171.8,960.4 172.8,960.4 173.8,960.4 174.8,960.4 175.8,960.4 176.8,960.4 177.8,960.4 178.8,960.4 179.8,960.4 180.8,960.4 181.8,960.4 182.8,960.4 183.8,960.4 184.8,960.4 185.8,960.4 186.8,960.4 187.8,960.4 188.8,960.4 189.8,960.4 190.8,960.4 191.8,960.3 192.8,960.3 193.8,960.3 194.8,960.3 195.8,960.3 196.8,960.3 197.8,960.3 198.8,960.3 199.8,960.3 200.8,960.3 201.8,960.3 202.8,960.3 203.8,960.3 204.8,960.3 205.8,960.3 206.8,960.3 207.8,960.3 208.8,960.3 209.8,960.3 210.8,960.3 211.8,960.3 212.8,960.3 213.8,960.3 214.8,960.3 215.8,960.3 216.8,960.3 217.8,960.3 218.8,960.3 219.8,960.3 220.8,960.3 221.8,960.3 222.8,960.3 223.8,960.3 224.8,960.3 225.8,960.3 226.8,960.3 227.8,960.3 228.8,960.3 229.8,960.3 230.8,960.3 231.8,960.3 232.8,960.3 233.8,960.3 234.8,960.3 235.8,960.3 236.8,960.3 237.8,960.3 238.8,960.3 239.8,960.3 240.8,960.3 241.8,960.3 242.8,960.3 243.8,960.3 244.8,960.3 245.8,960.3 246.8,960.3 247.8,960.3 248.8,960.3 249.8,960.2 250.8,960.2 251.8,960.2 252.8,960.2 253.8,960.2 254.8,960.2 255.8,960.2 256.8,960.2 257.8,960.2 258.8,960.2 259.8,960.2 260.8,960.2 261.8,960.2 262.8,960.2 263.8,960.2 264.8,960.2 265.8,960.2 266.8,960.2 267.8,960.2 268.8,960.2 269.8,960.2 270.8,960.2 271.8,960.2 272.8,960.2 273.8,960.2 274.8,960.2 275.8,960.2 276.8,960.2 277.8,960.2 278.8,960.2 279.8,960.2 280.8,960.1 281.8,960.1 282.8,960.1 283.8,960.1 284.8,960.1 285.8,960.1 286.8,960.1 287.8,960.1 288.8,960.1 289.8,960.1 290.8,960.1 291.8,960.1 292.8,960.1 293.8,960.1 294.8,960.1 295.8,960.1 296.8,960.1 297.8,960.1 298.8,960.1 299.8,960.1 300.8,960.0 301.8,960.0 302.8,960.0 303.8,960.0 304.8,960.0 305.8,960.0 306.8,960.0 307.8,960.0 308.8,960.0 309.8,960.0 310.8,960.0 311.8,960.0 312.8,960.0 313.8,960.0 314.8,959.9 315.8,959.9 316.8,959.9 317.8,959.9 318.8,959.9 319.8,959.9 320.8,959.9 321.8,959.9 322.8,959.9 323.8,959.9 324.8,959.9 325.8,959.8 326.8,959.8 327.8,959.8 328.8,959.8 329.8,959.8 330.8,959.8 331.8,959.8 332.8,959.8 333.8,959.8 334.8,959.7 335.8,959.7 336.8,959.7 337.8,959.7 338.8,959.7 339.8,959.7 340.8,959.7 341.8,959.6 342.8,959.6 343.8,959.6 344.8,959.6 345.8,959.6 346.8,959.6 347.8,959.5 348.8,959.5 349.8,959.5 350.8,959.5 351.8,959.5 352.8,959.4 353.8,959.4 354.8,959.4 355.8,959.4 356.8,959.3 357.8,959.3 358.8,959.3 359.8,959.3 360.8,959.2 361.8,959.2 362.8,959.2 363.8,959.2 364.8,959.1 365.8,959.1 366.8,959.1 367.8,959.0 368.8,959.0 369.8,958.9 370.8,958.9 371.8,958.9 372.8,958.8 373.8,958.8 374.8,958.7 375.8,958.7 376.8,958.6 377.8,958.6 378.8,958.5 379.8,958.5 380.8,958.4 381.8,958.4 382.8,958.3 383.8,958.2 384.8,958.2 385.8,958.1 386.8,958.0 387.8,957.9 388.8,957.8 389.8,957.7 390.8,957.6 391.8,957.5 392.8,957.4 393.8,957.3 394.8,957.1 395.8,956.9 396.8,956.8 397.8,956.6 398.8,956.3 399.8,956.1 400.8,955.8 401.8,955.5 402.8,955.1 403.8,954.7 404.8,954.2 405.8,953.6 406.8,953.0 407.8,952.3 408.8,951.5 409.8,950.6 410.8,949.6 411.8,948.5 412.8,947.2 413.8,945.8 414.8,944.2 415.8,942.4 416.8,940.4 417.8,938.3 418.8,935.9 419.8,933.3 420.8,930.4 421.8,927.4 422.8,924.0 423.8,920.5 424.8,916.7 425.8,912.6 426.8,908.4 427.8,903.9 428.8,899.2 429.8,894.3 430.8,889.3 431.8,884.1 432.8,878.8 433.8,873.5 434.8,868.1 435.8,862.8 436.8,857.5 437.8,852.3 438.8,847.3 439.8,842.5 440.8,838.0 441.8,833.8 442.8,830.1 443.8,826.7 444.8,823.8 445.8,821.3 446.8,819.4 447.8,818.0 448.8,817.1 449.8,816.6 450.8,816.6 451.8,816.9 452.8,817.5 453.8,818.2 454.8,818.9 455.8,819.5 456.8,819.9 457.8,820.0 458.8,819.6 459.8,818.7 460.8,817.1 461.8,814.8 462.8,811.8 463.8,808.0 464.8,803.4 465.8,798.1 466.8,792.0 467.8,785.2 468.8,777.8 469.8,769.9 470.8,761.6 471.8,753.1 472.8,744.5 473.8,736.0 474.8,727.8 475.8,720.1 476.8,712.9 477.8,706.6 478.8,701.2 479.8,696.9 480.8,693.8 481.8,692.0 482.8,691.6 483.8,692.6 484.8,694.8 485.8,698.1 486.8,702.5 487.8,708.0 488.8,714.5 489.8,721.9 490.8,730.1 491.8,739.1 492.8,748.7 493.8,758.9 494.8,769.5 495.8,780.3 496.8,791.4 497.8,802.5 498.8,813.6 499.8,824.5 500.8,835.2 501.8,845.6 502.8,855.6 503.8,865.2 504.8,874.4 505.8,882.9 506.8,891.0 507.8,898.5 508.8,905.4 509.8,911.8 510.8,917.6 511.8,922.8 512.8,927.6 513.8,931.8 514.8,935.6 515.8,939.0 516.8,941.9 517.8,944.5 518.8,946.8 519.8,948.8 520.8,950.5 521.8,951.9 522.8,953.1 523.8,954.2 524.8,955.1 525.8,955.8 526.8,956.5 527.8,957.0 528.8,957.4 529.8,957.8 530.8,958.1 531.8,958.3 532.8,958.5 533.8,958.7 534.8,958.8 535.8,959.0 536.8,959.1 537.8,959.1 538.8,959.2 539.8,959.3 540.8,959.3 541.8,959.4 542.8,959.4 543.8,959.4 544.8,959.5 545.8,959.5 546.8,959.5 547.8,959.5 548.8,959.5 549.8,959.6 550.8,959.6 551.8,959.6 552.8,959.6 553.8,959.6 554.8,959.7 555.8,959.7 556.8,959.7 557.8,959.7 558.8,959.7 559.8,959.7 560.8,959.7 561.8,959.8 562.8,959.8 563.8,959.8 564.8,959.8 565.8,959.8 566.8,959.8 567.8,959.8 568.8,959.8 569.8,959.8 570.8,959.9 571.8,959.9 572.8,959.9 573.8,959.9 574.8,959.9 575.8,959.9 576.8,959.9 577.8,959.9 578.8,959.9 579.8,959.9 580.8,959.9 581.8,960.0 582.8,960.0 583.8,960.0 584.8,960.0 585.8,960.0 586.8,960.0 587.8,960.0 588.8,960.0 589.8,960.0 590.8,960.0 591.8,960.0 592.8,960.0 593.8,960.0 594.8,960.0 595.8,960.1 596.8,960.1 597.8,960.1 598.8,960.1 599.8,960.1 600.8,960.1 601.8,960.1 602.8,960.1 603.8,960.1 604.8,960.1 605.8,960.1 606.8,960.1 607.8,960.1 608.8,960.1 609.8,960.1 610.8,960.1 611.8,960.1" fill="none" stroke="#0c0c8a" stroke-width="4.4" stroke-linejoin="round" stroke-linecap="round" />
<line x1="490.3" y1="706.6" x2="542.4" y2="706.0" stroke="#000" stroke-width="3.2"/>
<polygon points="559.4,705.8 540.5,712.3 544.2,706.0 540.3,699.8" fill="#000"/>
<line x1="441.0" y1="825.0" x2="389.3" y2="802.1" stroke="#000" stroke-width="3.2"/>
<polygon points="373.8,795.2 393.7,797.2 387.7,801.4 388.6,808.6" fill="#000"/>
<text transform="translate(556.27,690.90) scale(1.0326,1)" font-family='"Liberation Sans", Arial, sans-serif' font-weight="bold" font-size="25.80" fill="#ff0000" ><tspan>2p</tspan><tspan font-size="25.02" dy="6.97">3/2</tspan></text>
<text transform="translate(329.86,765.10) scale(1.0438,1)" font-family='"Liberation Sans", Arial, sans-serif' font-weight="bold" font-size="25.80" fill="#ff0000" ><tspan>2p</tspan><tspan font-size="25.02" dy="6.97">1/2</tspan></text>
<rect x="760.4" y="583.6" width="596.6" height="455.19999999999993" fill="none" stroke="#000" stroke-width="5" stroke-linejoin="round"/>
<path d="M760.3,1038.8V1048.3 M835.0,1038.8V1048.3 M909.8,1038.8V1048.3 M984.5,1038.8V1048.3 M1059.3,1038.8V1048.3 M1134.0,1038.8V1048.3 M1208.8,1038.8V1048.3 M1283.5,1038.8V1048.3 M1358.3,1038.8V1048.3 M797.7,1038.8V1042.8 M872.4,1038.8V1042.8 M947.2,1038.8V1042.8 M1021.9,1038.8V1042.8 M1096.7,1038.8V1042.8 M1171.4,1038.8V1042.8 M1246.2,1038.8V1042.8 M1320.9,1038.8V1042.8" stroke="#000" stroke-width="3.2" stroke-linecap="round" fill="none"/>
<text transform="translate(738.80,1073.90) scale(1.0997,1)" font-family='"Liberation Sans", Arial, sans-serif' font-weight="bold" font-size="23.33" fill="#000" ><tspan>940</tspan></text>
<text transform="translate(813.40,1073.90) scale(1.0997,1)" font-family='"Liberation Sans", Arial, sans-serif' font-weight="bold" font-size="23.33" fill="#000" ><tspan>930</tspan></text>
<text transform="translate(888.00,1073.90) scale(1.0997,1)" font-family='"Liberation Sans", Arial, sans-serif' font-weight="bold" font-size="23.33" fill="#000" ><tspan>920</tspan></text>
<text transform="translate(962.60,1073.90) scale(1.0997,1)" font-family='"Liberation Sans", Arial, sans-serif' font-weight="bold" font-size="23.33" fill="#000" ><tspan>910</tspan></text>
<text transform="translate(1037.20,1073.90) scale(1.0997,1)" font-family='"Liberation Sans", Arial, sans-serif' font-weight="bold" font-size="23.33" fill="#000" ><tspan>900</tspan></text>
<text transform="translate(1111.93,1073.90) scale(1.0963,1)" font-family='"Liberation Sans", Arial, sans-serif' font-weight="bold" font-size="23.33" fill="#000" ><tspan>890</tspan></text>
<text transform="translate(1186.53,1073.90) scale(1.0963,1)" font-family='"Liberation Sans", Arial, sans-serif' font-weight="bold" font-size="23.33" fill="#000" ><tspan>880</tspan></text>
<text transform="translate(1261.13,1073.90) scale(1.0963,1)" font-family='"Liberation Sans", Arial, sans-serif' font-weight="bold" font-size="23.33" fill="#000" ><tspan>870</tspan></text>
<text transform="translate(1335.73,1073.90) scale(1.0963,1)" font-family='"Liberation Sans", Arial, sans-serif' font-weight="bold" font-size="23.33" fill="#000" ><tspan>860</tspan></text>
<text transform="translate(882.95,1116.60) scale(1.0740,1)" font-family='"Liberation Sans", Arial, sans-serif' font-weight="bold" font-size="33.62" fill="#000" ><tspan>Binding energy (eV)</tspan></text>
<text transform="translate(720.50,926.34) rotate(-90) scale(1.0146,1)" font-family='"Liberation Sans", Arial, sans-serif' font-weight="bold" font-size="35.51" fill="#000" ><tspan>Intensity(a.u.)</tspan></text>
<text transform="translate(771.05,632.90) scale(1.0477,1)" font-family='"Liberation Serif", "Times New Roman", serif' font-weight="bold" font-size="41.68" fill="#ff0000" ><tspan>E</tspan></text>
<text transform="translate(1274.89,618.30) scale(0.9724,1)" font-family='"Liberation Sans", Arial, sans-serif' font-weight="bold" font-size="28.55" fill="#1a1aff" ><tspan>Ce 3d</tspan></text>
<polygon points="903.0,947.6 903.0,947.5 904.0,947.5 905.0,947.4 906.0,947.4 907.0,947.3 908.0,947.1 909.0,946.9 910.0,946.6 911.0,946.2 912.0,945.7 913.0,944.9 914.0,944.0 915.0,942.8 916.0,941.2 917.0,939.2 918.0,936.8 919.0,933.7 920.0,930.1 921.0,925.7 922.0,920.5 923.0,914.5 924.0,907.7 925.0,900.0 926.0,891.4 927.0,882.1 928.0,872.0 929.0,861.5 930.0,850.6 931.0,839.6 932.0,828.7 933.0,818.2 934.0,808.5 935.0,799.7 936.0,792.1 937.0,786.1 938.0,781.7 939.0,779.2 940.0,778.6 941.0,780.0 942.0,783.3 943.0,788.3 944.0,795.0 945.0,803.1 946.0,812.3 947.0,822.4 948.0,833.0 949.0,844.0 950.0,855.0 951.0,865.8 952.0,876.1 953.0,885.9 954.0,894.9 955.0,903.2 956.0,910.5 957.0,917.0 958.0,922.7 959.0,927.5 960.0,931.6 961.0,935.0 962.0,937.8 963.0,940.1 964.0,941.9 965.0,943.3 966.0,944.4 967.0,945.3 968.0,945.9 969.0,946.4 970.0,946.7 971.0,947.0 972.0,947.2 973.0,947.3 974.0,947.4 975.0,947.5 976.0,947.5 977.0,947.5 977.0,947.6" fill="url(#gE1)" stroke="none" />
<polyline points="903.0,947.5 904.0,947.5 905.0,947.4 906.0,947.4 907.0,947.3 908.0,947.1 909.0,946.9 910.0,946.6 911.0,946.2 912.0,945.7 913.0,944.9 914.0,944.0 915.0,942.8 916.0,941.2 917.0,939.2 918.0,936.8 919.0,933.7 920.0,930.1 921.0,925.7 922.0,920.5 923.0,914.5 924.0,907.7 925.0,900.0 926.0,891.4 927.0,882.1 928.0,872.0 929.0,861.5 930.0,850.6 931.0,839.6 932.0,828.7 933.0,818.2 934.0,808.5 935.0,799.7 936.0,792.1 937.0,786.1 938.0,781.7 939.0,779.2 940.0,778.6 941.0,780.0 942.0,783.3 943.0,788.3 944.0,795.0 945.0,803.1 946.0,812.3 947.0,822.4 948.0,833.0 949.0,844.0 950.0,855.0 951.0,865.8 952.0,876.1 953.0,885.9 954.0,894.9 955.0,903.2 956.0,910.5 957.0,917.0 958.0,922.7 959.0,927.5 960.0,931.6 961.0,935.0 962.0,937.8 963.0,940.1 964.0,941.9 965.0,943.3 966.0,944.4 967.0,945.3 968.0,945.9 969.0,946.4 970.0,946.7 971.0,947.0 972.0,947.2 973.0,947.3 974.0,947.4 975.0,947.5 976.0,947.5 977.0,947.5" fill="none" stroke="#80e000" stroke-width="1.2" stroke-linejoin="round" stroke-linecap="round" />
<polygon points="981.0,947.6 981.0,947.5 982.0,947.5 983.0,947.4 984.0,947.3 985.0,947.2 986.0,947.0 987.0,946.8 988.0,946.4 989.0,946.0 990.0,945.4 991.0,944.6 992.0,943.6 993.0,942.5 994.0,941.1 995.0,939.4 996.0,937.6 997.0,935.5 998.0,933.2 999.0,930.9 1000.0,928.4 1001.0,926.0 1002.0,923.8 1003.0,921.8 1004.0,920.1 1005.0,918.8 1006.0,917.9 1007.0,917.6 1008.0,917.8 1009.0,918.5 1010.0,919.8 1011.0,921.4 1012.0,923.4 1013.0,925.6 1014.0,928.0 1015.0,930.4 1016.0,932.8 1017.0,935.0 1018.0,937.2 1019.0,939.1 1020.0,940.8 1021.0,942.2 1022.0,943.4 1023.0,944.4 1024.0,945.2 1025.0,945.9 1026.0,946.3 1027.0,946.7 1028.0,947.0 1029.0,947.2 1030.0,947.3 1031.0,947.4 1032.0,947.5 1033.0,947.5 1033.0,947.6" fill="url(#gE2)" stroke="none" />
<polyline points="981.0,947.5 982.0,947.5 983.0,947.4 984.0,947.3 985.0,947.2 986.0,947.0 987.0,946.8 988.0,946.4 989.0,946.0 990.0,945.4 991.0,944.6 992.0,943.6 993.0,942.5 994.0,941.1 995.0,939.4 996.0,937.6 997.0,935.5 998.0,933.2 999.0,930.9 1000.0,928.4 1001.0,926.0 1002.0,923.8 1003.0,921.8 1004.0,920.1 1005.0,918.8 1006.0,917.9 1007.0,917.6 1008.0,917.8 1009.0,918.5 1010.0,919.8 1011.0,921.4 1012.0,923.4 1013.0,925.6 1014.0,928.0 1015.0,930.4 1016.0,932.8 1017.0,935.0 1018.0,937.2 1019.0,939.1 1020.0,940.8 1021.0,942.2 1022.0,943.4 1023.0,944.4 1024.0,945.2 1025.0,945.9 1026.0,946.3 1027.0,946.7 1028.0,947.0 1029.0,947.2 1030.0,947.3 1031.0,947.4 1032.0,947.5 1033.0,947.5" fill="none" stroke="#80e000" stroke-width="1.2" stroke-linejoin="round" stroke-linecap="round" />
<polygon points="1021.0,947.6 1021.0,947.5 1022.0,947.5 1023.0,947.5 1024.0,947.4 1025.0,947.3 1026.0,947.1 1027.0,946.9 1028.0,946.6 1029.0,946.2 1030.0,945.6 1031.0,944.9 1032.0,943.9 1033.0,942.5 1034.0,940.8 1035.0,938.7 1036.0,936.0 1037.0,932.6 1038.0,928.6 1039.0,923.7 1040.0,918.0 1041.0,911.4 1042.0,903.8 1043.0,895.4 1044.0,886.1 1045.0,876.0 1046.0,865.3 1047.0,854.3 1048.0,843.0 1049.0,831.9 1050.0,821.2 1051.0,811.3 1052.0,802.4 1053.0,794.9 1054.0,789.0 1055.0,784.9 1056.0,782.9 1057.0,783.0 1058.0,786.6 1059.0,793.4 1060.0,803.1 1061.0,815.0 1062.0,828.6 1063.0,843.1 1064.0,857.8 1065.0,872.1 1066.0,885.4 1067.0,897.5 1068.0,908.1 1069.0,917.1 1070.0,924.6 1071.0,930.6 1072.0,935.3 1073.0,938.9 1074.0,941.6 1075.0,943.5 1076.0,944.9 1077.0,945.8 1078.0,946.5 1079.0,946.9 1080.0,947.2 1081.0,947.3 1082.0,947.5 1083.0,947.5 1084.0,947.6 1084.0,947.6" fill="url(#gE3)" stroke="none" />
<polyline points="1021.0,947.5 1022.0,947.5 1023.0,947.5 1024.0,947.4 1025.0,947.3 1026.0,947.1 1027.0,946.9 1028.0,946.6 1029.0,946.2 1030.0,945.6 1031.0,944.9 1032.0,943.9 1033.0,942.5 1034.0,940.8 1035.0,938.7 1036.0,936.0 1037.0,932.6 1038.0,928.6 1039.0,923.7 1040.0,918.0 1041.0,911.4 1042.0,903.8 1043.0,895.4 1044.0,886.1 1045.0,876.0 1046.0,865.3 1047.0,854.3 1048.0,843.0 1049.0,831.9 1050.0,821.2 1051.0,811.3 1052.0,802.4 1053.0,794.9 1054.0,789.0 1055.0,784.9 1056.0,782.9 1057.0,783.0 1058.0,786.6 1059.0,793.4 1060.0,803.1 1061.0,815.0 1062.0,828.6 1063.0,843.1 1064.0,857.8 1065.0,872.1 1066.0,885.4 1067.0,897.5 1068.0,908.1 1069.0,917.1 1070.0,924.6 1071.0,930.6 1072.0,935.3 1073.0,938.9 1074.0,941.6 1075.0,943.5 1076.0,944.9 1077.0,945.8 1078.0,946.5 1079.0,946.9 1080.0,947.2 1081.0,947.3 1082.0,947.5 1083.0,947.5 1084.0,947.6" fill="none" stroke="#80e000" stroke-width="1.2" stroke-linejoin="round" stroke-linecap="round" />
<polygon points="1052.0,947.6 1052.0,947.5 1053.0,947.5 1054.0,947.4 1055.0,947.2 1056.0,946.9 1057.0,946.3 1058.0,945.5 1059.0,944.1 1060.0,941.9 1061.0,938.8 1062.0,934.2 1063.0,927.9 1064.0,919.3 1065.0,908.1 1066.0,894.0 1067.0,876.8 1068.0,856.7 1069.0,834.1 1070.0,809.7 1071.0,784.7 1072.0,760.4 1073.0,738.4 1074.0,720.2 1075.0,707.2 1076.0,700.5 1077.0,700.3 1078.0,705.6 1079.0,715.8 1080.0,730.4 1081.0,748.4 1082.0,768.8 1083.0,790.5 1084.0,812.6 1085.0,834.1 1086.0,854.1 1087.0,872.3 1088.0,888.3 1089.0,901.8 1090.0,913.0 1091.0,922.1 1092.0,929.1 1093.0,934.5 1094.0,938.6 1095.0,941.5 1096.0,943.5 1097.0,945.0 1098.0,945.9 1099.0,946.6 1100.0,947.0 1101.0,947.2 1102.0,947.4 1103.0,947.5 1104.0,947.5 1104.0,947.6" fill="url(#gE4)" stroke="none" />
<polyline points="1052.0,947.5 1053.0,947.5 1054.0,947.4 1055.0,947.2 1056.0,946.9 1057.0,946.3 1058.0,945.5 1059.0,944.1 1060.0,941.9 1061.0,938.8 1062.0,934.2 1063.0,927.9 1064.0,919.3 1065.0,908.1 1066.0,894.0 1067.0,876.8 1068.0,856.7 1069.0,834.1 1070.0,809.7 1071.0,784.7 1072.0,760.4 1073.0,738.4 1074.0,720.2 1075.0,707.2 1076.0,700.5 1077.0,700.3 1078.0,705.6 1079.0,715.8 1080.0,730.4 1081.0,748.4 1082.0,768.8 1083.0,790.5 1084.0,812.6 1085.0,834.1 1086.0,854.1 1087.0,872.3 1088.0,888.3 1089.0,901.8 1090.0,913.0 1091.0,922.1 1092.0,929.1 1093.0,934.5 1094.0,938.6 1095.0,941.5 1096.0,943.5 1097.0,945.0 1098.0,945.9 1099.0,946.6 1100.0,947.0 1101.0,947.2 1102.0,947.4 1103.0,947.5 1104.0,947.5" fill="none" stroke="#2030ff" stroke-width="1.5" stroke-linejoin="round" stroke-linecap="round" />
<polygon points="1166.0,947.6 1166.0,947.6 1167.0,947.5 1168.0,947.5 1169.0,947.4 1170.0,947.2 1171.0,946.9 1172.0,946.5 1173.0,945.9 1174.0,944.9 1175.0,943.5 1176.0,941.6 1177.0,938.8 1178.0,935.1 1179.0,930.2 1180.0,923.9 1181.0,915.8 1182.0,905.9 1183.0,894.0 1184.0,880.1 1185.0,864.3 1186.0,846.9 1187.0,828.3 1188.0,809.1 1189.0,790.1 1190.0,772.1 1191.0,756.0 1192.0,742.7 1193.0,732.8 1194.0,727.0 1195.0,725.7 1196.0,728.8 1197.0,736.3 1198.0,747.6 1199.0,762.2 1200.0,779.1 1201.0,797.6 1202.0,816.8 1203.0,835.8 1204.0,854.0 1205.0,870.8 1206.0,885.9 1207.0,899.0 1208.0,910.1 1209.0,919.2 1210.0,926.6 1211.0,932.3 1212.0,936.8 1213.0,940.0 1214.0,942.4 1215.0,944.1 1216.0,945.3 1217.0,946.1 1218.0,946.7 1219.0,947.0 1220.0,947.3 1221.0,947.4 1222.0,947.5 1223.0,947.5 1223.0,947.6" fill="url(#gE6)" stroke="none" />
<polyline points="1166.0,947.6 1167.0,947.5 1168.0,947.5 1169.0,947.4 1170.0,947.2 1171.0,946.9 1172.0,946.5 1173.0,945.9 1174.0,944.9 1175.0,943.5 1176.0,941.6 1177.0,938.8 1178.0,935.1 1179.0,930.2 1180.0,923.9 1181.0,915.8 1182.0,905.9 1183.0,894.0 1184.0,880.1 1185.0,864.3 1186.0,846.9 1187.0,828.3 1188.0,809.1 1189.0,790.1 1190.0,772.1 1191.0,756.0 1192.0,742.7 1193.0,732.8 1194.0,727.0 1195.0,725.7 1196.0,728.8 1197.0,736.3 1198.0,747.6 1199.0,762.2 1200.0,779.1 1201.0,797.6 1202.0,816.8 1203.0,835.8 1204.0,854.0 1205.0,870.8 1206.0,885.9 1207.0,899.0 1208.0,910.1 1209.0,919.2 1210.0,926.6 1211.0,932.3 1212.0,936.8 1213.0,940.0 1214.0,942.4 1215.0,944.1 1216.0,945.3 1217.0,946.1 1218.0,946.7 1219.0,947.0 1220.0,947.3 1221.0,947.4 1222.0,947.5 1223.0,947.5" fill="none" stroke="#a020c0" stroke-width="1.8" stroke-linejoin="round" stroke-linecap="round" />
<polygon points="1072.0,947.6 1072.0,947.5 1073.0,947.5 1074.0,947.5 1075.0,947.5 1076.0,947.5 1077.0,947.4 1078.0,947.4 1079.0,947.4 1080.0,947.4 1081.0,947.3 1082.0,947.3 1083.0,947.2 1084.0,947.2 1085.0,947.1 1086.0,947.0 1087.0,946.9 1088.0,946.8 1089.0,946.7 1090.0,946.6 1091.0,946.5 1092.0,946.3 1093.0,946.1 1094.0,945.9 1095.0,945.7 1096.0,945.5 1097.0,945.2 1098.0,944.9 1099.0,944.6 1100.0,944.2 1101.0,943.8 1102.0,943.4 1103.0,942.9 1104.0,942.4 1105.0,941.8 1106.0,941.2 1107.0,940.5 1108.0,939.7 1109.0,938.9 1110.0,938.0 1111.0,937.1 1112.0,936.0 1113.0,934.9 1114.0,933.7 1115.0,932.5 1116.0,931.1 1117.0,929.6 1118.0,928.1 1119.0,926.4 1120.0,924.7 1121.0,922.8 1122.0,920.9 1123.0,918.8 1124.0,916.7 1125.0,914.4 1126.0,912.0 1127.0,909.6 1128.0,907.0 1129.0,904.3 1130.0,901.6 1131.0,898.7 1132.0,895.7 1133.0,892.7 1134.0,889.6 1135.0,886.4 1136.0,883.2 1137.0,879.9 1138.0,876.6 1139.0,873.2 1140.0,869.8 1141.0,866.4 1142.0,863.0 1143.0,859.6 1144.0,856.2 1145.0,852.9 1146.0,849.6 1147.0,846.3 1148.0,843.2 1149.0,840.1 1150.0,837.1 1151.0,834.3 1152.0,831.5 1153.0,829.0 1154.0,826.5 1155.0,824.3 1156.0,822.2 1157.0,820.3 1158.0,818.5 1159.0,817.0 1160.0,815.7 1161.0,814.7 1162.0,813.8 1163.0,813.2 1164.0,812.8 1165.0,812.6 1166.0,812.7 1167.0,813.0 1168.0,813.5 1169.0,814.3 1170.0,815.3 1171.0,816.5 1172.0,817.9 1173.0,819.5 1174.0,821.4 1175.0,823.4 1176.0,825.6 1177.0,828.0 1178.0,830.5 1179.0,833.2 1180.0,836.0 1181.0,838.9 1182.0,841.9 1183.0,845.1 1184.0,848.3 1185.0,851.5 1186.0,854.9 1187.0,858.2 1188.0,861.6 1189.0,865.0 1190.0,868.4 1191.0,871.8 1192.0,875.2 1193.0,878.6 1194.0,881.9 1195.0,885.1 1196.0,888.3 1197.0,891.5 1198.0,894.5 1199.0,897.5 1200.0,900.4 1201.0,903.2 1202.0,905.9 1203.0,908.5 1204.0,911.1 1205.0,913.5 1206.0,915.8 1207.0,918.0 1208.0,920.1 1209.0,922.1 1210.0,924.0 1211.0,925.7 1212.0,927.4 1213.0,929.0 1214.0,930.5 1215.0,931.9 1216.0,933.2 1217.0,934.5 1218.0,935.6 1219.0,936.7 1220.0,937.6 1221.0,938.6 1222.0,939.4 1223.0,940.2 1224.0,940.9 1225.0,941.5 1226.0,942.1 1227.0,942.7 1228.0,943.2 1229.0,943.7 1230.0,944.1 1231.0,944.5 1232.0,944.8 1233.0,945.1 1234.0,945.4 1235.0,945.6 1236.0,945.9 1237.0,946.1 1238.0,946.2 1239.0,946.4 1240.0,946.6 1241.0,946.7 1242.0,946.8 1243.0,946.9 1244.0,947.0 1245.0,947.1 1246.0,947.1 1247.0,947.2 1248.0,947.2 1249.0,947.3 1250.0,947.3 1251.0,947.4 1252.0,947.4 1253.0,947.4 1254.0,947.5 1255.0,947.5 1256.0,947.5 1257.0,947.5 1258.0,947.5 1258.0,947.6" fill="url(#gE5)" stroke="none" />
<polyline points="1072.0,947.5 1073.0,947.5 1074.0,947.5 1075.0,947.5 1076.0,947.5 1077.0,947.4 1078.0,947.4 1079.0,947.4 1080.0,947.4 1081.0,947.3 1082.0,947.3 1083.0,947.2 1084.0,947.2 1085.0,947.1 1086.0,947.0 1087.0,946.9 1088.0,946.8 1089.0,946.7 1090.0,946.6 1091.0,946.5 1092.0,946.3 1093.0,946.1 1094.0,945.9 1095.0,945.7 1096.0,945.5 1097.0,945.2 1098.0,944.9 1099.0,944.6 1100.0,944.2 1101.0,943.8 1102.0,943.4 1103.0,942.9 1104.0,942.4 1105.0,941.8 1106.0,941.2 1107.0,940.5 1108.0,939.7 1109.0,938.9 1110.0,938.0 1111.0,937.1 1112.0,936.0 1113.0,934.9 1114.0,933.7 1115.0,932.5 1116.0,931.1 1117.0,929.6 1118.0,928.1 1119.0,926.4 1120.0,924.7 1121.0,922.8 1122.0,920.9 1123.0,918.8 1124.0,916.7 1125.0,914.4 1126.0,912.0 1127.0,909.6 1128.0,907.0 1129.0,904.3 1130.0,901.6 1131.0,898.7 1132.0,895.7 1133.0,892.7 1134.0,889.6 1135.0,886.4 1136.0,883.2 1137.0,879.9 1138.0,876.6 1139.0,873.2 1140.0,869.8 1141.0,866.4 1142.0,863.0 1143.0,859.6 1144.0,856.2 1145.0,852.9 1146.0,849.6 1147.0,846.3 1148.0,843.2 1149.0,840.1 1150.0,837.1 1151.0,834.3 1152.0,831.5 1153.0,829.0 1154.0,826.5 1155.0,824.3 1156.0,822.2 1157.0,820.3 1158.0,818.5 1159.0,817.0 1160.0,815.7 1161.0,814.7 1162.0,813.8 1163.0,813.2 1164.0,812.8 1165.0,812.6 1166.0,812.7 1167.0,813.0 1168.0,813.5 1169.0,814.3 1170.0,815.3 1171.0,816.5 1172.0,817.9 1173.0,819.5 1174.0,821.4 1175.0,823.4 1176.0,825.6 1177.0,828.0 1178.0,830.5 1179.0,833.2 1180.0,836.0 1181.0,838.9 1182.0,841.9 1183.0,845.1 1184.0,848.3 1185.0,851.5 1186.0,854.9 1187.0,858.2 1188.0,861.6 1189.0,865.0 1190.0,868.4 1191.0,871.8 1192.0,875.2 1193.0,878.6 1194.0,881.9 1195.0,885.1 1196.0,888.3 1197.0,891.5 1198.0,894.5 1199.0,897.5 1200.0,900.4 1201.0,903.2 1202.0,905.9 1203.0,908.5 1204.0,911.1 1205.0,913.5 1206.0,915.8 1207.0,918.0 1208.0,920.1 1209.0,922.1 1210.0,924.0 1211.0,925.7 1212.0,927.4 1213.0,929.0 1214.0,930.5 1215.0,931.9 1216.0,933.2 1217.0,934.5 1218.0,935.6 1219.0,936.7 1220.0,937.6 1221.0,938.6 1222.0,939.4 1223.0,940.2 1224.0,940.9 1225.0,941.5 1226.0,942.1 1227.0,942.7 1228.0,943.2 1229.0,943.7 1230.0,944.1 1231.0,944.5 1232.0,944.8 1233.0,945.1 1234.0,945.4 1235.0,945.6 1236.0,945.9 1237.0,946.1 1238.0,946.2 1239.0,946.4 1240.0,946.6 1241.0,946.7 1242.0,946.8 1243.0,946.9 1244.0,947.0 1245.0,947.1 1246.0,947.1 1247.0,947.2 1248.0,947.2 1249.0,947.3 1250.0,947.3 1251.0,947.4 1252.0,947.4 1253.0,947.4 1254.0,947.5 1255.0,947.5 1256.0,947.5 1257.0,947.5 1258.0,947.5" fill="none" stroke="#80f040" stroke-width="1.4" stroke-linejoin="round" stroke-linecap="round" />
<polyline points="835.0,936.1 836.5,939.1 838.0,940.8 839.5,938.0 841.0,932.9 842.5,935.4 844.0,940.2 845.5,936.8 847.0,935.1 848.5,937.3 850.0,939.0 851.5,938.3 853.0,939.4 854.5,935.1 856.0,936.7 857.5,936.8 859.0,937.5 860.5,931.2 862.0,936.5 863.5,933.0 865.0,940.9 866.5,941.2 868.0,941.3 869.5,938.5 871.0,934.5 872.5,938.5 874.0,934.8 875.5,937.0 877.0,932.3 878.5,933.0 880.0,935.9 881.5,939.5 883.0,933.9 884.5,940.3 886.0,941.5 887.5,929.2 889.0,932.7 890.5,929.6 892.0,931.7 893.5,930.3 895.0,931.4 896.5,933.7 898.0,932.8 899.5,930.1 901.0,928.6 902.5,928.2 904.0,927.4 905.5,928.0 907.0,925.4 908.5,925.9 910.0,919.7 911.5,925.0 913.0,926.9 914.5,921.4 916.0,915.9 917.5,923.5 919.0,917.9 920.5,909.3 922.0,916.9 923.5,911.4 925.0,899.6 926.5,888.9 928.0,872.3 929.5,854.9 931.0,832.2 932.5,818.6 934.0,807.4 935.5,796.0 937.0,778.5 938.5,767.1 940.0,764.6 941.5,766.5 943.0,779.1 944.5,796.6 946.0,811.5 947.5,824.7 949.0,835.6 950.5,858.9 952.0,870.6 953.5,890.8 955.0,901.3 956.5,913.0 958.0,923.1 959.5,926.5 961.0,936.0 962.5,941.6 964.0,943.8 965.5,950.5 967.0,943.9 968.5,945.8 970.0,943.8 971.5,943.9 973.0,949.6 974.5,944.9 976.0,940.3 977.5,940.5 979.0,942.9 980.5,938.5 982.0,939.5 983.5,934.5 985.0,938.9 986.5,941.7 988.0,940.4 989.5,939.1 991.0,935.6 992.5,933.7 994.0,935.7 995.5,931.4 997.0,930.3 998.5,933.3 1000.0,924.2 1001.5,928.7 1003.0,915.9 1004.5,918.4 1006.0,909.2 1007.5,909.1 1009.0,907.3 1010.5,916.8 1012.0,921.0 1013.5,923.9 1015.0,930.4 1016.5,937.1 1018.0,935.6 1019.5,945.9 1021.0,946.6 1022.5,944.9 1024.0,950.6 1025.5,937.8 1027.0,942.2 1028.5,936.9 1030.0,939.3 1031.5,937.6 1033.0,947.6 1034.5,935.3 1036.0,938.3 1037.5,932.9 1039.0,920.9 1040.5,914.6 1042.0,907.3 1043.5,889.7 1045.0,875.1 1046.5,859.8 1048.0,837.0 1049.5,822.6 1051.0,810.6 1052.5,797.3 1054.0,775.6 1055.5,756.2 1057.0,751.3 1058.5,771.4 1060.0,795.2 1061.5,809.4 1063.0,823.4 1064.5,830.7 1066.0,838.5 1067.5,831.2 1069.0,800.8 1070.5,776.9 1072.0,744.5 1073.5,717.3 1075.0,701.0 1076.5,690.4 1078.0,697.4 1079.5,718.0 1081.0,746.4 1082.5,785.8 1084.0,804.3 1085.5,842.1 1087.0,870.7 1088.5,900.7 1090.0,917.4 1091.5,920.6 1093.0,936.9 1094.5,934.1 1096.0,942.4 1097.5,943.0 1099.0,943.7 1100.5,942.3 1102.0,944.6 1103.5,944.7 1105.0,941.7 1106.5,944.5 1108.0,938.9 1109.5,937.6 1111.0,936.0 1112.5,935.8 1114.0,930.3 1115.5,929.8 1117.0,928.7 1118.5,925.9 1120.0,920.7 1121.5,925.4 1123.0,915.9 1124.5,916.2 1126.0,911.1 1127.5,910.3 1129.0,896.2 1130.5,904.7 1132.0,893.5 1133.5,885.9 1135.0,885.2 1136.5,886.7 1138.0,876.5 1139.5,866.2 1141.0,863.4 1142.5,863.7 1144.0,850.4 1145.5,849.1 1147.0,843.9 1148.5,846.5 1150.0,834.7 1151.5,835.2 1153.0,825.4 1154.5,821.4 1156.0,823.6 1157.5,819.7 1159.0,810.3 1160.5,815.5 1162.0,814.1 1163.5,809.5 1165.0,811.6 1166.5,812.0 1168.0,810.3 1169.5,811.1 1171.0,812.2 1172.5,814.9 1174.0,813.1 1175.5,817.7 1177.0,813.2 1178.5,815.5 1180.0,810.4 1181.5,799.0 1183.0,792.4 1184.5,778.7 1186.0,756.5 1187.5,725.4 1189.0,709.7 1190.5,685.3 1192.0,665.5 1193.5,649.1 1195.0,647.7 1196.5,669.5 1198.0,692.7 1199.5,719.0 1201.0,749.6 1202.5,783.1 1204.0,817.6 1205.5,849.3 1207.0,864.6 1208.5,886.5 1210.0,900.2 1211.5,909.7 1213.0,921.0 1214.5,927.0 1216.0,925.1 1217.5,929.2 1219.0,938.0 1220.5,937.2 1222.0,939.2 1223.5,937.4 1225.0,938.8 1226.5,942.3 1228.0,941.1 1229.5,942.8 1231.0,948.8 1232.5,949.9 1234.0,941.7 1235.5,947.4 1237.0,946.6 1238.5,942.2 1240.0,945.0 1241.5,945.0 1243.0,946.8 1244.5,946.6 1246.0,940.4 1247.5,939.4 1249.0,944.0 1250.5,938.1 1252.0,939.6 1253.5,942.2 1255.0,945.9 1256.5,934.1 1258.0,937.9 1259.5,935.0 1261.0,943.2 1262.5,946.1 1264.0,938.0 1265.5,943.1 1267.0,941.0 1268.5,940.8 1270.0,941.6 1271.5,938.8 1273.0,939.5 1274.5,944.7 1276.0,945.7 1277.5,942.0 1279.0,939.8 1280.5,951.4 1282.0,948.2 1283.5,946.4" fill="none" stroke="#000" stroke-width="4.4" stroke-linejoin="round" stroke-linecap="round" />
<polyline points="835.0,947.6 836.0,947.6 837.0,947.6 838.0,947.6 839.0,947.6 840.0,947.6 841.0,947.6 842.0,947.6 843.0,947.6 844.0,947.6 845.0,947.6 846.0,947.6 847.0,947.6 848.0,947.6 849.0,947.6 850.0,947.6 851.0,947.6 852.0,947.6 853.0,947.6 854.0,947.6 855.0,947.6 856.0,947.6 857.0,947.6 858.0,947.6 859.0,947.6 860.0,947.6 861.0,947.6 862.0,947.6 863.0,947.6 864.0,947.6 865.0,947.6 866.0,947.6 867.0,947.6 868.0,947.6 869.0,947.6 870.0,947.6 871.0,947.6 872.0,947.6 873.0,947.6 874.0,947.6 875.0,947.6 876.0,947.6 877.0,947.6 878.0,947.6 879.0,947.6 880.0,947.6 881.0,947.6 882.0,947.6 883.0,947.6 884.0,947.6 885.0,947.6 886.0,947.6 887.0,947.6 888.0,947.6 889.0,947.6 890.0,947.6 891.0,947.6 892.0,947.6 893.0,947.6 894.0,947.6 895.0,947.6 896.0,947.6 897.0,947.6 898.0,947.6 899.0,947.6 900.0,947.6 901.0,947.6 902.0,947.6 903.0,947.5 904.0,947.5 905.0,947.4 906.0,947.4 907.0,947.3 908.0,947.1 909.0,946.9 910.0,946.6 911.0,946.2 912.0,945.7 913.0,944.9 914.0,944.0 915.0,942.8 916.0,941.2 917.0,939.2 918.0,936.8 919.0,933.7 920.0,930.1 921.0,925.7 922.0,920.5 923.0,914.5 924.0,907.7 925.0,900.0 926.0,891.4 927.0,882.1 928.0,872.0 929.0,861.5 930.0,850.6 931.0,839.6 932.0,828.7 933.0,818.2 934.0,808.5 935.0,799.7 936.0,792.1 937.0,786.1 938.0,781.7 939.0,779.2 940.0,778.6 941.0,780.0 942.0,783.3 943.0,788.3 944.0,795.0 945.0,803.1 946.0,812.3 947.0,822.4 948.0,833.0 949.0,844.0 950.0,855.0 951.0,865.8 952.0,876.1 953.0,885.9 954.0,894.9 955.0,903.2 956.0,910.5 957.0,917.0 958.0,922.7 959.0,927.5 960.0,931.6 961.0,935.0 962.0,937.8 963.0,940.1 964.0,941.9 965.0,943.3 966.0,944.4 967.0,945.3 968.0,945.9 969.0,946.4 970.0,946.7 971.0,947.0 972.0,947.2 973.0,947.3 974.0,947.4 975.0,947.5 976.0,947.5 977.0,947.5 978.0,947.5 979.0,947.5 980.0,947.5 981.0,947.5 982.0,947.5 983.0,947.4 984.0,947.3 985.0,947.2 986.0,947.0 987.0,946.8 988.0,946.4 989.0,946.0 990.0,945.4 991.0,944.6 992.0,943.6 993.0,942.5 994.0,941.1 995.0,939.4 996.0,937.6 997.0,935.5 998.0,933.2 999.0,930.9 1000.0,928.4 1001.0,926.0 1002.0,923.8 1003.0,921.8 1004.0,920.1 1005.0,918.8 1006.0,917.9 1007.0,917.6 1008.0,917.8 1009.0,918.5 1010.0,919.8 1011.0,921.4 1012.0,923.4 1013.0,925.6 1014.0,927.9 1015.0,930.4 1016.0,932.8 1017.0,935.0 1018.0,937.2 1019.0,939.1 1020.0,940.7 1021.0,942.2 1022.0,943.3 1023.0,944.3 1024.0,945.0 1025.0,945.5 1026.0,945.9 1027.0,946.0 1028.0,946.0 1029.0,945.8 1030.0,945.4 1031.0,944.7 1032.0,943.7 1033.0,942.5 1034.0,940.8 1035.0,938.7 1036.0,936.0 1037.0,932.6 1038.0,928.6 1039.0,923.7 1040.0,918.0 1041.0,911.4 1042.0,903.8 1043.0,895.4 1044.0,886.1 1045.0,876.0 1046.0,865.3 1047.0,854.3 1048.0,843.0 1049.0,831.9 1050.0,821.2 1051.0,811.2 1052.0,802.3 1053.0,794.8 1054.0,788.8 1055.0,784.5 1056.0,782.1 1057.0,781.8 1058.0,784.4 1059.0,789.8 1060.0,797.4 1061.0,806.2 1062.0,815.2 1063.0,823.4 1064.0,829.5 1065.0,832.5 1066.0,831.8 1067.0,826.7 1068.0,817.2 1069.0,803.6 1070.0,786.6 1071.0,767.6 1072.0,748.0 1073.0,729.6 1074.0,714.1 1075.0,703.0 1076.0,697.6 1077.0,698.4 1078.0,704.3 1079.0,714.9 1080.0,729.7 1081.0,747.8 1082.0,768.3 1083.0,790.1 1084.0,812.1 1085.0,833.5 1086.0,853.5 1087.0,871.6 1088.0,887.5 1089.0,900.9 1090.0,912.0 1091.0,920.9 1092.0,927.9 1093.0,933.1 1094.0,936.9 1095.0,939.6 1096.0,941.4 1097.0,942.6 1098.0,943.2 1099.0,943.6 1100.0,943.6 1101.0,943.5 1102.0,943.2 1103.0,942.8 1104.0,942.3 1105.0,941.8 1106.0,941.1 1107.0,940.5 1108.0,939.7 1109.0,938.9 1110.0,938.0 1111.0,937.1 1112.0,936.0 1113.0,934.9 1114.0,933.7 1115.0,932.5 1116.0,931.1 1117.0,929.6 1118.0,928.1 1119.0,926.4 1120.0,924.7 1121.0,922.8 1122.0,920.9 1123.0,918.8 1124.0,916.7 1125.0,914.4 1126.0,912.0 1127.0,909.6 1128.0,907.0 1129.0,904.3 1130.0,901.6 1131.0,898.7 1132.0,895.7 1133.0,892.7 1134.0,889.6 1135.0,886.4 1136.0,883.2 1137.0,879.9 1138.0,876.6 1139.0,873.2 1140.0,869.8 1141.0,866.4 1142.0,863.0 1143.0,859.6 1144.0,856.2 1145.0,852.9 1146.0,849.6 1147.0,846.3 1148.0,843.2 1149.0,840.1 1150.0,837.1 1151.0,834.3 1152.0,831.5 1153.0,829.0 1154.0,826.5 1155.0,824.3 1156.0,822.2 1157.0,820.3 1158.0,818.5 1159.0,817.0 1160.0,815.7 1161.0,814.6 1162.0,813.8 1163.0,813.2 1164.0,812.8 1165.0,812.6 1166.0,812.6 1167.0,812.9 1168.0,813.4 1169.0,814.0 1170.0,814.9 1171.0,815.8 1172.0,816.8 1173.0,817.8 1174.0,818.7 1175.0,819.3 1176.0,819.6 1177.0,819.2 1178.0,818.0 1179.0,815.8 1180.0,812.2 1181.0,807.1 1182.0,800.2 1183.0,791.4 1184.0,780.7 1185.0,768.2 1186.0,754.1 1187.0,738.9 1188.0,723.1 1189.0,707.5 1190.0,693.0 1191.0,680.3 1192.0,670.3 1193.0,663.8 1194.0,661.3 1195.0,663.2 1196.0,669.6 1197.0,680.2 1198.0,694.6 1199.0,712.1 1200.0,731.9 1201.0,753.3 1202.0,775.1 1203.0,796.8 1204.0,817.5 1205.0,836.7 1206.0,854.0 1207.0,869.4 1208.0,882.6 1209.0,893.7 1210.0,902.9 1211.0,910.5 1212.0,916.6 1213.0,921.5 1214.0,925.4 1215.0,928.5 1216.0,931.0 1217.0,933.0 1218.0,934.7 1219.0,936.1 1220.0,937.3 1221.0,938.4 1222.0,939.3 1223.0,940.1 1224.0,940.9 1225.0,941.5 1226.0,942.1 1227.0,942.7 1228.0,943.2 1229.0,943.7 1230.0,944.1 1231.0,944.5 1232.0,944.8 1233.0,945.1 1234.0,945.4 1235.0,945.6 1236.0,945.9 1237.0,946.1 1238.0,946.2 1239.0,946.4 1240.0,946.6 1241.0,946.7 1242.0,946.8 1243.0,946.9 1244.0,947.0 1245.0,947.1 1246.0,947.1 1247.0,947.2 1248.0,947.2 1249.0,947.3 1250.0,947.3 1251.0,947.4 1252.0,947.4 1253.0,947.4 1254.0,947.5 1255.0,947.5 1256.0,947.5 1257.0,947.5 1258.0,947.5 1259.0,947.5 1260.0,947.5 1261.0,947.6 1262.0,947.6 1263.0,947.6 1264.0,947.6 1265.0,947.6 1266.0,947.6 1267.0,947.6 1268.0,947.6 1269.0,947.6 1270.0,947.6 1271.0,947.6 1272.0,947.6 1273.0,947.6 1274.0,947.6 1275.0,947.6 1276.0,947.6 1277.0,947.6 1278.0,947.6 1279.0,947.6 1280.0,947.6 1281.0,947.6 1282.0,947.6 1283.0,947.6" fill="none" stroke="#0c0c8a" stroke-width="4.8" stroke-linejoin="round" stroke-linecap="round" />
<line x1="835" y1="947.6" x2="1284" y2="947.6" stroke="#0c0c8a" stroke-width="3.4"/>
<line x1="938.4" y1="781.0" x2="880.3" y2="781.0" stroke="#000" stroke-width="3.2"/>
<polygon points="863.3,781.0 882.3,774.8 878.5,781.0 882.3,787.2" fill="#000"/>
<line x1="1008.5" y1="911.6" x2="1008.5" y2="889.2" stroke="#000" stroke-width="3.2"/>
<polygon points="1008.5,872.2 1014.8,891.2 1008.5,887.4 1002.2,891.2" fill="#000"/>
<line x1="1056.8" y1="774.2" x2="1029.4" y2="739.9" stroke="#000" stroke-width="3.2"/>
<polygon points="1018.8,726.6 1035.5,737.5 1028.3,738.5 1025.8,745.3" fill="#000"/>
<line x1="1080.7" y1="736.9" x2="1111.7" y2="707.2" stroke="#000" stroke-width="3.2"/>
<polygon points="1124.0,695.4 1114.6,713.1 1113.0,705.9 1106.0,704.0" fill="#000"/>
<line x1="1162.0" y1="811.2" x2="1141.0" y2="774.2" stroke="#000" stroke-width="3.2"/>
<polygon points="1132.6,759.4 1147.4,772.8 1140.1,772.6 1136.5,779.0" fill="#000"/>
<line x1="1196.5" y1="735.2" x2="1229.8" y2="718.6" stroke="#000" stroke-width="3.2"/>
<polygon points="1245.0,711.0 1230.8,725.1 1231.4,717.8 1225.2,713.9" fill="#000"/>
<text transform="translate(818.94,769.80) scale(0.9660,1)" font-family='"Liberation Sans", Arial, sans-serif' font-weight="bold" font-size="27.54" fill="#ff0000" ><tspan>Ce</tspan><tspan font-size="19.83" dy="-12.39">4+</tspan></text>
<text transform="translate(973.91,867.80) scale(1.1717,1)" font-family='"Liberation Sans", Arial, sans-serif' font-weight="bold" font-size="23.33" fill="#ff0000" ><tspan>Ce</tspan><tspan font-size="16.80" dy="-10.50">4+</tspan></text>
<text transform="translate(998.74,720.20) scale(1.0429,1)" font-family='"Liberation Sans", Arial, sans-serif' font-weight="bold" font-size="25.51" fill="#ff0000" ><tspan>Ce</tspan><tspan font-size="18.37" dy="-11.48">3+</tspan></text>
<text transform="translate(1098.73,691.00) scale(1.0235,1)" font-family='"Liberation Sans", Arial, sans-serif' font-weight="bold" font-size="26.09" fill="#ff0000" ><tspan>Ce</tspan><tspan font-size="18.78" dy="-11.74">4+</tspan></text>
<text transform="translate(1103.13,759.40) scale(1.0669,1)" font-family='"Liberation Sans", Arial, sans-serif' font-weight="bold" font-size="25.07" fill="#ff0000" ><tspan>Ce</tspan><tspan font-size="18.05" dy="-11.28">3+</tspan></text>
<text transform="translate(1230.01,700.60) scale(1.0865,1)" font-family='"Liberation Sans", Arial, sans-serif' font-weight="bold" font-size="25.07" fill="#ff0000" ><tspan>Ce</tspan><tspan font-size="18.05" dy="-11.28">4+</tspan></text>
<rect x="1440.2" y="583.3" width="611.9999999999998" height="450.60000000000014" fill="none" stroke="#000" stroke-width="5" stroke-linejoin="round"/>
<path d="M1492.4,1033.9V1043.4 M1619.9,1033.9V1043.4 M1747.3,1033.9V1043.4 M1874.8,1033.9V1043.4 M2002.2,1033.9V1043.4 M1556.1,1033.9V1037.9 M1683.6,1033.9V1037.9 M1811.0,1033.9V1037.9 M1938.5,1033.9V1037.9" stroke="#000" stroke-width="3.2" stroke-linecap="round" fill="none"/>
<text transform="translate(1470.33,1069.50) scale(1.1020,1)" font-family='"Liberation Sans", Arial, sans-serif' font-weight="bold" font-size="23.33" fill="#000" ><tspan>545</tspan></text>
<text transform="translate(1597.12,1069.50) scale(1.1124,1)" font-family='"Liberation Sans", Arial, sans-serif' font-weight="bold" font-size="23.33" fill="#000" ><tspan>540</tspan></text>
<text transform="translate(1724.53,1069.50) scale(1.1020,1)" font-family='"Liberation Sans", Arial, sans-serif' font-weight="bold" font-size="23.33" fill="#000" ><tspan>535</tspan></text>
<text transform="translate(1852.22,1069.50) scale(1.1124,1)" font-family='"Liberation Sans", Arial, sans-serif' font-weight="bold" font-size="23.33" fill="#000" ><tspan>530</tspan></text>
<text transform="translate(1979.93,1069.50) scale(1.1020,1)" font-family='"Liberation Sans", Arial, sans-serif' font-weight="bold" font-size="23.33" fill="#000" ><tspan>525</tspan></text>
<text transform="translate(1616.26,1117.40) scale(1.0448,1)" font-family='"Liberation Sans", Arial, sans-serif' font-weight="bold" font-size="34.49" fill="#000" ><tspan>Binding energy (eV)</tspan></text>
<text transform="translate(1409.50,926.37) rotate(-90) scale(1.0256,1)" font-family='"Liberation Sans", Arial, sans-serif' font-weight="bold" font-size="35.51" fill="#000" ><tspan>Intensity(a.u.)</tspan></text>
<text transform="translate(1456.02,626.90) scale(0.9944,1)" font-family='"Liberation Serif", "Times New Roman", serif' font-weight="bold" font-size="45.34" fill="#ff0000" ><tspan>F</tspan></text>
<text transform="translate(1983.73,616.00) scale(1.1650,1)" font-family='"Liberation Sans", Arial, sans-serif' font-weight="bold" font-size="25.07" fill="#1a1aff" ><tspan>O 1s</tspan></text>
<polygon points="1859.0,959.0 1859.0,958.9 1860.0,958.9 1861.0,958.9 1862.0,958.8 1863.0,958.7 1864.0,958.6 1865.0,958.5 1866.0,958.4 1867.0,958.1 1868.0,957.9 1869.0,957.5 1870.0,957.1 1871.0,956.5 1872.0,955.8 1873.0,954.9 1874.0,953.8 1875.0,952.4 1876.0,950.8 1877.0,948.8 1878.0,946.4 1879.0,943.6 1880.0,940.3 1881.0,936.4 1882.0,931.9 1883.0,926.7 1884.0,920.8 1885.0,914.2 1886.0,906.8 1887.0,898.5 1888.0,889.4 1889.0,879.6 1890.0,868.9 1891.0,857.6 1892.0,845.6 1893.0,833.1 1894.0,820.1 1895.0,806.9 1896.0,793.5 1897.0,780.3 1898.0,767.3 1899.0,754.8 1900.0,743.0 1901.0,732.1 1902.0,722.2 1903.0,713.7 1904.0,706.6 1905.0,701.1 1906.0,697.3 1907.0,695.3 1908.0,695.1 1909.0,696.8 1910.0,700.2 1911.0,705.4 1912.0,712.2 1913.0,720.4 1914.0,730.0 1915.0,740.7 1916.0,752.4 1917.0,764.8 1918.0,777.7 1919.0,790.9 1920.0,804.2 1921.0,817.5 1922.0,830.5 1923.0,843.1 1924.0,855.2 1925.0,866.7 1926.0,877.5 1927.0,887.5 1928.0,896.8 1929.0,905.2 1930.0,912.8 1931.0,919.6 1932.0,925.6 1933.0,930.9 1934.0,935.5 1935.0,939.5 1936.0,943.0 1937.0,945.9 1938.0,948.3 1939.0,950.4 1940.0,952.1 1941.0,953.5 1942.0,954.7 1943.0,955.6 1944.0,956.3 1945.0,956.9 1946.0,957.4 1947.0,957.8 1948.0,958.1 1949.0,958.3 1950.0,958.5 1951.0,958.6 1952.0,958.7 1953.0,958.8 1954.0,958.9 1955.0,958.9 1956.0,958.9 1956.0,959.0" fill="url(#gF)" stroke="none" />
<polyline points="1859.0,958.9 1860.0,958.9 1861.0,958.9 1862.0,958.8 1863.0,958.7 1864.0,958.6 1865.0,958.5 1866.0,958.4 1867.0,958.1 1868.0,957.9 1869.0,957.5 1870.0,957.1 1871.0,956.5 1872.0,955.8 1873.0,954.9 1874.0,953.8 1875.0,952.4 1876.0,950.8 1877.0,948.8 1878.0,946.4 1879.0,943.6 1880.0,940.3 1881.0,936.4 1882.0,931.9 1883.0,926.7 1884.0,920.8 1885.0,914.2 1886.0,906.8 1887.0,898.5 1888.0,889.4 1889.0,879.6 1890.0,868.9 1891.0,857.6 1892.0,845.6 1893.0,833.1 1894.0,820.1 1895.0,806.9 1896.0,793.5 1897.0,780.3 1898.0,767.3 1899.0,754.8 1900.0,743.0 1901.0,732.1 1902.0,722.2 1903.0,713.7 1904.0,706.6 1905.0,701.1 1906.0,697.3 1907.0,695.3 1908.0,695.1 1909.0,696.8 1910.0,700.2 1911.0,705.4 1912.0,712.2 1913.0,720.4 1914.0,730.0 1915.0,740.7 1916.0,752.4 1917.0,764.8 1918.0,777.7 1919.0,790.9 1920.0,804.2 1921.0,817.5 1922.0,830.5 1923.0,843.1 1924.0,855.2 1925.0,866.7 1926.0,877.5 1927.0,887.5 1928.0,896.8 1929.0,905.2 1930.0,912.8 1931.0,919.6 1932.0,925.6 1933.0,930.9 1934.0,935.5 1935.0,939.5 1936.0,943.0 1937.0,945.9 1938.0,948.3 1939.0,950.4 1940.0,952.1 1941.0,953.5 1942.0,954.7 1943.0,955.6 1944.0,956.3 1945.0,956.9 1946.0,957.4 1947.0,957.8 1948.0,958.1 1949.0,958.3 1950.0,958.5 1951.0,958.6 1952.0,958.7 1953.0,958.8 1954.0,958.9 1955.0,958.9 1956.0,958.9" fill="none" stroke="#1010ff" stroke-width="2.6" stroke-linejoin="round" stroke-linecap="round" />
<polygon points="1728.0,959.0 1728.0,958.9 1729.0,958.9 1730.0,958.9 1731.0,958.9 1732.0,958.9 1733.0,958.9 1734.0,958.8 1735.0,958.8 1736.0,958.8 1737.0,958.8 1738.0,958.8 1739.0,958.7 1740.0,958.7 1741.0,958.7 1742.0,958.6 1743.0,958.6 1744.0,958.5 1745.0,958.5 1746.0,958.4 1747.0,958.3 1748.0,958.3 1749.0,958.2 1750.0,958.1 1751.0,958.0 1752.0,957.9 1753.0,957.8 1754.0,957.6 1755.0,957.5 1756.0,957.3 1757.0,957.2 1758.0,957.0 1759.0,956.8 1760.0,956.6 1761.0,956.4 1762.0,956.1 1763.0,955.8 1764.0,955.5 1765.0,955.2 1766.0,954.9 1767.0,954.5 1768.0,954.1 1769.0,953.7 1770.0,953.2 1771.0,952.7 1772.0,952.2 1773.0,951.6 1774.0,951.0 1775.0,950.4 1776.0,949.7 1777.0,949.0 1778.0,948.2 1779.0,947.4 1780.0,946.5 1781.0,945.6 1782.0,944.6 1783.0,943.6 1784.0,942.5 1785.0,941.3 1786.0,940.1 1787.0,938.8 1788.0,937.5 1789.0,936.1 1790.0,934.6 1791.0,933.1 1792.0,931.5 1793.0,929.8 1794.0,928.1 1795.0,926.3 1796.0,924.4 1797.0,922.5 1798.0,920.4 1799.0,918.4 1800.0,916.2 1801.0,914.0 1802.0,911.7 1803.0,909.4 1804.0,906.9 1805.0,904.5 1806.0,901.9 1807.0,899.4 1808.0,896.7 1809.0,894.0 1810.0,891.3 1811.0,888.5 1812.0,885.7 1813.0,882.9 1814.0,880.0 1815.0,877.1 1816.0,874.2 1817.0,871.2 1818.0,868.3 1819.0,865.4 1820.0,862.5 1821.0,859.5 1822.0,856.6 1823.0,853.8 1824.0,850.9 1825.0,848.1 1826.0,845.4 1827.0,842.7 1828.0,840.0 1829.0,837.4 1830.0,834.9 1831.0,832.5 1832.0,830.2 1833.0,827.9 1834.0,825.8 1835.0,823.7 1836.0,821.8 1837.0,820.0 1838.0,818.3 1839.0,816.8 1840.0,815.3 1841.0,814.0 1842.0,812.9 1843.0,811.9 1844.0,811.0 1845.0,810.3 1846.0,809.7 1847.0,809.3 1848.0,809.1 1849.0,809.0 1850.0,809.1 1851.0,809.3 1852.0,809.7 1853.0,810.2 1854.0,810.9 1855.0,811.7 1856.0,812.7 1857.0,813.8 1858.0,815.1 1859.0,816.5 1860.0,818.0 1861.0,819.7 1862.0,821.4 1863.0,823.3 1864.0,825.4 1865.0,827.5 1866.0,829.7 1867.0,832.0 1868.0,834.4 1869.0,836.9 1870.0,839.5 1871.0,842.1 1872.0,844.8 1873.0,847.6 1874.0,850.4 1875.0,853.2 1876.0,856.1 1877.0,859.0 1878.0,861.9 1879.0,864.8 1880.0,867.7 1881.0,870.7 1882.0,873.6 1883.0,876.5 1884.0,879.4 1885.0,882.3 1886.0,885.1 1887.0,888.0 1888.0,890.7 1889.0,893.5 1890.0,896.2 1891.0,898.8 1892.0,901.4 1893.0,904.0 1894.0,906.5 1895.0,908.9 1896.0,911.2 1897.0,913.5 1898.0,915.8 1899.0,917.9 1900.0,920.0 1901.0,922.1 1902.0,924.0 1903.0,925.9 1904.0,927.7 1905.0,929.5 1906.0,931.2 1907.0,932.8 1908.0,934.3 1909.0,935.8 1910.0,937.2 1911.0,938.6 1912.0,939.9 1913.0,941.1 1914.0,942.2 1915.0,943.3 1916.0,944.4 1917.0,945.4 1918.0,946.3 1919.0,947.2 1920.0,948.0 1921.0,948.8 1922.0,949.6 1923.0,950.2 1924.0,950.9 1925.0,951.5 1926.0,952.1 1927.0,952.6 1928.0,953.1 1929.0,953.6 1930.0,954.0 1931.0,954.4 1932.0,954.8 1933.0,955.1 1934.0,955.5 1935.0,955.8 1936.0,956.1 1937.0,956.3 1938.0,956.5 1939.0,956.8 1940.0,957.0 1941.0,957.1 1942.0,957.3 1943.0,957.5 1944.0,957.6 1945.0,957.7 1946.0,957.9 1947.0,958.0 1948.0,958.1 1949.0,958.2 1950.0,958.2 1951.0,958.3 1952.0,958.4 1953.0,958.5 1954.0,958.5 1955.0,958.6 1956.0,958.6 1957.0,958.6 1958.0,958.7 1959.0,958.7 1960.0,958.8 1961.0,958.8 1962.0,958.8 1963.0,958.8 1964.0,958.8 1965.0,958.9 1966.0,958.9 1967.0,958.9 1968.0,958.9 1969.0,958.9 1970.0,958.9 1970.0,959.0" fill="#f2e830" stroke="none" />
<polyline points="1728.0,958.9 1729.0,958.9 1730.0,958.9 1731.0,958.9 1732.0,958.9 1733.0,958.9 1734.0,958.8 1735.0,958.8 1736.0,958.8 1737.0,958.8 1738.0,958.8 1739.0,958.7 1740.0,958.7 1741.0,958.7 1742.0,958.6 1743.0,958.6 1744.0,958.5 1745.0,958.5 1746.0,958.4 1747.0,958.3 1748.0,958.3 1749.0,958.2 1750.0,958.1 1751.0,958.0 1752.0,957.9 1753.0,957.8 1754.0,957.6 1755.0,957.5 1756.0,957.3 1757.0,957.2 1758.0,957.0 1759.0,956.8 1760.0,956.6 1761.0,956.4 1762.0,956.1 1763.0,955.8 1764.0,955.5 1765.0,955.2 1766.0,954.9 1767.0,954.5 1768.0,954.1 1769.0,953.7 1770.0,953.2 1771.0,952.7 1772.0,952.2 1773.0,951.6 1774.0,951.0 1775.0,950.4 1776.0,949.7 1777.0,949.0 1778.0,948.2 1779.0,947.4 1780.0,946.5 1781.0,945.6 1782.0,944.6 1783.0,943.6 1784.0,942.5 1785.0,941.3 1786.0,940.1 1787.0,938.8 1788.0,937.5 1789.0,936.1 1790.0,934.6 1791.0,933.1 1792.0,931.5 1793.0,929.8 1794.0,928.1 1795.0,926.3 1796.0,924.4 1797.0,922.5 1798.0,920.4 1799.0,918.4 1800.0,916.2 1801.0,914.0 1802.0,911.7 1803.0,909.4 1804.0,906.9 1805.0,904.5 1806.0,901.9 1807.0,899.4 1808.0,896.7 1809.0,894.0 1810.0,891.3 1811.0,888.5 1812.0,885.7 1813.0,882.9 1814.0,880.0 1815.0,877.1 1816.0,874.2 1817.0,871.2 1818.0,868.3 1819.0,865.4 1820.0,862.5 1821.0,859.5 1822.0,856.6 1823.0,853.8 1824.0,850.9 1825.0,848.1 1826.0,845.4 1827.0,842.7 1828.0,840.0 1829.0,837.4 1830.0,834.9 1831.0,832.5 1832.0,830.2 1833.0,827.9 1834.0,825.8 1835.0,823.7 1836.0,821.8 1837.0,820.0 1838.0,818.3 1839.0,816.8 1840.0,815.3 1841.0,814.0 1842.0,812.9 1843.0,811.9 1844.0,811.0 1845.0,810.3 1846.0,809.7 1847.0,809.3 1848.0,809.1 1849.0,809.0 1850.0,809.1 1851.0,809.3 1852.0,809.7 1853.0,810.2 1854.0,810.9 1855.0,811.7 1856.0,812.7 1857.0,813.8 1858.0,815.1 1859.0,816.5 1860.0,818.0 1861.0,819.7 1862.0,821.4 1863.0,823.3 1864.0,825.4 1865.0,827.5 1866.0,829.7 1867.0,832.0 1868.0,834.4 1869.0,836.9 1870.0,839.5 1871.0,842.1 1872.0,844.8 1873.0,847.6 1874.0,850.4 1875.0,853.2 1876.0,856.1 1877.0,859.0 1878.0,861.9 1879.0,864.8 1880.0,867.7 1881.0,870.7 1882.0,873.6 1883.0,876.5 1884.0,879.4 1885.0,882.3 1886.0,885.1 1887.0,888.0 1888.0,890.7 1889.0,893.5 1890.0,896.2 1891.0,898.8 1892.0,901.4 1893.0,904.0 1894.0,906.5 1895.0,908.9 1896.0,911.2 1897.0,913.5 1898.0,915.8 1899.0,917.9 1900.0,920.0 1901.0,922.1 1902.0,924.0 1903.0,925.9 1904.0,927.7 1905.0,929.5 1906.0,931.2 1907.0,932.8 1908.0,934.3 1909.0,935.8 1910.0,937.2 1911.0,938.6 1912.0,939.9 1913.0,941.1 1914.0,942.2 1915.0,943.3 1916.0,944.4 1917.0,945.4 1918.0,946.3 1919.0,947.2 1920.0,948.0 1921.0,948.8 1922.0,949.6 1923.0,950.2 1924.0,950.9 1925.0,951.5 1926.0,952.1 1927.0,952.6 1928.0,953.1 1929.0,953.6 1930.0,954.0 1931.0,954.4 1932.0,954.8 1933.0,955.1 1934.0,955.5 1935.0,955.8 1936.0,956.1 1937.0,956.3 1938.0,956.5 1939.0,956.8 1940.0,957.0 1941.0,957.1 1942.0,957.3 1943.0,957.5 1944.0,957.6 1945.0,957.7 1946.0,957.9 1947.0,958.0 1948.0,958.1 1949.0,958.2 1950.0,958.2 1951.0,958.3 1952.0,958.4 1953.0,958.5 1954.0,958.5 1955.0,958.6 1956.0,958.6 1957.0,958.6 1958.0,958.7 1959.0,958.7 1960.0,958.8 1961.0,958.8 1962.0,958.8 1963.0,958.8 1964.0,958.8 1965.0,958.9 1966.0,958.9 1967.0,958.9 1968.0,958.9 1969.0,958.9 1970.0,958.9" fill="none" stroke="#a020e0" stroke-width="2.6" stroke-linejoin="round" stroke-linecap="round" />
<polygon points="1745.0,959.0 1745.0,958.9 1746.0,958.9 1747.0,958.9 1748.0,958.8 1749.0,958.8 1750.0,958.8 1751.0,958.7 1752.0,958.6 1753.0,958.6 1754.0,958.5 1755.0,958.3 1756.0,958.2 1757.0,958.0 1758.0,957.8 1759.0,957.6 1760.0,957.3 1761.0,957.0 1762.0,956.7 1763.0,956.3 1764.0,955.8 1765.0,955.3 1766.0,954.7 1767.0,954.0 1768.0,953.3 1769.0,952.4 1770.0,951.5 1771.0,950.5 1772.0,949.4 1773.0,948.1 1774.0,946.8 1775.0,945.4 1776.0,943.8 1777.0,942.2 1778.0,940.4 1779.0,938.6 1780.0,936.6 1781.0,934.6 1782.0,932.5 1783.0,930.4 1784.0,928.2 1785.0,925.9 1786.0,923.7 1787.0,921.4 1788.0,919.2 1789.0,917.0 1790.0,914.9 1791.0,912.9 1792.0,911.0 1793.0,909.2 1794.0,907.5 1795.0,906.1 1796.0,904.8 1797.0,903.7 1798.0,902.8 1799.0,902.1 1800.0,901.7 1801.0,901.5 1802.0,901.6 1803.0,901.8 1804.0,902.4 1805.0,903.1 1806.0,904.1 1807.0,905.3 1808.0,906.6 1809.0,908.2 1810.0,909.9 1811.0,911.7 1812.0,913.7 1813.0,915.8 1814.0,917.9 1815.0,920.1 1816.0,922.3 1817.0,924.6 1818.0,926.8 1819.0,929.0 1820.0,931.2 1821.0,933.4 1822.0,935.4 1823.0,937.4 1824.0,939.3 1825.0,941.1 1826.0,942.8 1827.0,944.5 1828.0,946.0 1829.0,947.4 1830.0,948.6 1831.0,949.8 1832.0,950.9 1833.0,951.9 1834.0,952.8 1835.0,953.6 1836.0,954.3 1837.0,954.9 1838.0,955.5 1839.0,956.0 1840.0,956.5 1841.0,956.8 1842.0,957.2 1843.0,957.5 1844.0,957.7 1845.0,957.9 1846.0,958.1 1847.0,958.3 1848.0,958.4 1849.0,958.5 1850.0,958.6 1851.0,958.7 1852.0,958.7 1853.0,958.8 1854.0,958.8 1855.0,958.9 1856.0,958.9 1857.0,958.9 1858.0,958.9 1858.0,959.0" fill="#dd0000" stroke="none" />
<polyline points="1745.0,958.9 1746.0,958.9 1747.0,958.9 1748.0,958.8 1749.0,958.8 1750.0,958.8 1751.0,958.7 1752.0,958.6 1753.0,958.6 1754.0,958.5 1755.0,958.3 1756.0,958.2 1757.0,958.0 1758.0,957.8 1759.0,957.6 1760.0,957.3 1761.0,957.0 1762.0,956.7 1763.0,956.3 1764.0,955.8 1765.0,955.3 1766.0,954.7 1767.0,954.0 1768.0,953.3 1769.0,952.4 1770.0,951.5 1771.0,950.5 1772.0,949.4 1773.0,948.1 1774.0,946.8 1775.0,945.4 1776.0,943.8 1777.0,942.2 1778.0,940.4 1779.0,938.6 1780.0,936.6 1781.0,934.6 1782.0,932.5 1783.0,930.4 1784.0,928.2 1785.0,925.9 1786.0,923.7 1787.0,921.4 1788.0,919.2 1789.0,917.0 1790.0,914.9 1791.0,912.9 1792.0,911.0 1793.0,909.2 1794.0,907.5 1795.0,906.1 1796.0,904.8 1797.0,903.7 1798.0,902.8 1799.0,902.1 1800.0,901.7 1801.0,901.5 1802.0,901.6 1803.0,901.8 1804.0,902.4 1805.0,903.1 1806.0,904.1 1807.0,905.3 1808.0,906.6 1809.0,908.2 1810.0,909.9 1811.0,911.7 1812.0,913.7 1813.0,915.8 1814.0,917.9 1815.0,920.1 1816.0,922.3 1817.0,924.6 1818.0,926.8 1819.0,929.0 1820.0,931.2 1821.0,933.4 1822.0,935.4 1823.0,937.4 1824.0,939.3 1825.0,941.1 1826.0,942.8 1827.0,944.5 1828.0,946.0 1829.0,947.4 1830.0,948.6 1831.0,949.8 1832.0,950.9 1833.0,951.9 1834.0,952.8 1835.0,953.6 1836.0,954.3 1837.0,954.9 1838.0,955.5 1839.0,956.0 1840.0,956.5 1841.0,956.8 1842.0,957.2 1843.0,957.5 1844.0,957.7 1845.0,957.9 1846.0,958.1 1847.0,958.3 1848.0,958.4 1849.0,958.5 1850.0,958.6 1851.0,958.7 1852.0,958.7 1853.0,958.8 1854.0,958.8 1855.0,958.9 1856.0,958.9 1857.0,958.9 1858.0,958.9" fill="none" stroke="#1f5a3a" stroke-width="2.8" stroke-linejoin="round" stroke-linecap="round" />
<line x1="1491" y1="959" x2="2002" y2="959" stroke="#1f5a3a" stroke-width="2.4"/>
<polyline points="1491.0,958.7 1493.2,959.6 1495.4,961.2 1497.6,958.8 1499.8,963.9 1502.0,961.0 1504.2,961.5 1506.4,958.6 1508.6,958.9 1510.8,959.1 1513.0,961.2 1515.2,959.8 1517.4,957.5 1519.6,955.4 1521.8,957.1 1524.0,962.7 1526.2,960.2 1528.4,958.6 1530.6,960.5 1532.8,963.3 1535.0,957.8 1537.2,956.0 1539.4,955.9 1541.6,960.3 1543.8,961.0 1546.0,958.9 1548.2,960.1 1550.4,962.3 1552.6,962.6 1554.8,962.3 1557.0,962.2 1559.2,959.8 1561.4,959.7 1563.6,962.3 1565.8,958.1 1568.0,960.3 1570.2,956.8 1572.4,959.7 1574.6,959.0 1576.8,958.0 1579.0,961.5 1581.2,958.9 1583.4,959.6 1585.6,959.8 1587.8,958.9 1590.0,963.1 1592.2,959.4 1594.4,960.6 1596.6,956.8 1598.8,956.0 1601.0,956.1 1603.2,958.6 1605.4,959.0 1607.6,960.5 1609.8,963.3 1612.0,960.0 1614.2,960.0 1616.4,959.5 1618.6,965.2 1620.8,963.4 1623.0,961.3 1625.2,961.6 1627.4,958.8 1629.6,959.9 1631.8,960.6 1634.0,960.3 1636.2,957.6 1638.4,955.0 1640.6,956.4 1642.8,958.9 1645.0,955.8 1647.2,960.3 1649.4,962.6 1651.6,958.8 1653.8,960.6 1656.0,957.2 1658.2,961.7 1660.4,957.9 1662.6,957.6 1664.8,959.4 1667.0,964.7 1669.2,958.8 1671.4,957.5 1673.6,960.9 1675.8,960.4 1678.0,963.2 1680.2,957.5 1682.4,956.8 1684.6,959.3 1686.8,960.7 1689.0,960.6 1691.2,962.1 1693.4,957.0 1695.6,957.8 1697.8,956.4 1700.0,955.5 1702.2,957.5 1704.4,958.5 1706.6,957.8 1708.8,961.6 1711.0,961.7 1713.2,965.2 1715.4,959.5 1717.6,963.0 1719.8,957.4 1722.0,958.7 1724.2,958.5 1726.4,958.9 1728.6,958.1 1730.8,958.7 1733.0,959.7 1735.2,958.9 1737.4,960.9 1739.6,959.0 1741.8,958.4 1744.0,960.3 1746.2,954.0 1748.4,952.8 1750.6,951.2 1752.8,949.4 1755.0,947.4 1757.2,942.8 1759.4,942.1 1761.6,939.7 1763.8,936.2 1766.0,931.3 1768.2,926.9 1770.4,924.4 1772.6,920.1 1774.8,914.7 1777.0,906.9 1779.2,900.2 1781.4,895.8 1783.6,886.6 1785.8,882.1 1788.0,875.3 1790.2,866.0 1792.4,861.3 1794.6,853.8 1796.8,847.4 1799.0,840.8 1801.2,836.2 1803.4,833.6 1805.6,827.7 1807.8,823.9 1810.0,818.7 1812.2,816.9 1814.4,814.9 1816.6,811.4 1818.8,809.3 1821.0,809.8 1823.2,807.6 1825.4,804.9 1827.6,804.9 1829.8,805.1 1832.0,804.4 1834.2,797.1 1836.4,799.3 1838.6,803.5 1840.8,798.5 1843.0,797.1 1845.2,796.9 1847.4,806.4 1849.6,806.5 1851.8,805.4 1854.0,809.6 1856.2,811.3 1858.4,813.2 1860.6,815.2 1862.8,815.9 1865.0,817.3 1867.2,819.8 1869.4,822.5 1871.6,825.3 1873.8,826.3 1876.0,827.8 1878.2,828.2 1880.4,824.8 1882.6,820.4 1884.8,809.5 1887.0,790.6 1889.2,773.4 1891.4,752.7 1893.6,731.4 1895.8,712.4 1898.0,690.2 1900.2,672.1 1902.4,659.0 1904.6,650.0 1906.8,647.6 1909.0,655.0 1911.2,670.1 1913.4,687.2 1915.6,709.3 1917.8,733.8 1920.0,756.2 1922.2,783.1 1924.4,807.6 1926.6,833.4 1928.8,854.8 1931.0,872.0 1933.2,893.2 1935.4,906.8 1937.6,921.8 1939.8,928.8 1942.0,932.7 1944.2,937.4 1946.4,943.3 1948.6,947.8 1950.8,949.8 1953.0,952.8 1955.2,951.2 1957.4,953.6 1959.6,954.3 1961.8,952.8 1964.0,956.2 1966.2,955.0 1968.4,954.1 1970.6,957.1 1972.8,960.4 1975.0,964.5 1977.2,960.2 1979.4,960.0 1981.6,961.2 1983.8,965.7 1986.0,967.0 1988.2,963.7 1990.4,962.2 1992.6,960.7 1994.8,959.3 1997.0,958.2 1999.2,957.6 2001.4,956.1" fill="none" stroke="#000" stroke-width="4.2" stroke-linejoin="round" stroke-linecap="round" />
<polyline points="1491.0,959.0 1492.0,959.0 1493.0,959.0 1494.0,959.0 1495.0,959.0 1496.0,959.0 1497.0,959.0 1498.0,959.0 1499.0,959.0 1500.0,959.0 1501.0,959.0 1502.0,959.0 1503.0,959.0 1504.0,958.9 1505.0,958.9 1506.0,958.9 1507.0,958.9 1508.0,958.9 1509.0,958.9 1510.0,958.9 1511.0,958.9 1512.0,958.9 1513.0,958.9 1514.0,958.9 1515.0,958.9 1516.0,958.9 1517.0,958.9 1518.0,958.9 1519.0,958.9 1520.0,958.9 1521.0,958.9 1522.0,958.9 1523.0,958.9 1524.0,958.9 1525.0,958.9 1526.0,958.9 1527.0,958.9 1528.0,958.9 1529.0,958.8 1530.0,958.8 1531.0,958.8 1532.0,958.8 1533.0,958.8 1534.0,958.8 1535.0,958.8 1536.0,958.8 1537.0,958.8 1538.0,958.8 1539.0,958.8 1540.0,958.8 1541.0,958.8 1542.0,958.8 1543.0,958.8 1544.0,958.8 1545.0,958.8 1546.0,958.8 1547.0,958.8 1548.0,958.8 1549.0,958.8 1550.0,958.8 1551.0,958.8 1552.0,958.8 1553.0,958.7 1554.0,958.7 1555.0,958.7 1556.0,958.7 1557.0,958.7 1558.0,958.7 1559.0,958.7 1560.0,958.7 1561.0,958.7 1562.0,958.7 1563.0,958.7 1564.0,958.7 1565.0,958.7 1566.0,958.7 1567.0,958.7 1568.0,958.7 1569.0,958.7 1570.0,958.7 1571.0,958.7 1572.0,958.7 1573.0,958.7 1574.0,958.7 1575.0,958.7 1576.0,958.7 1577.0,958.7 1578.0,958.6 1579.0,958.6 1580.0,958.6 1581.0,958.6 1582.0,958.6 1583.0,958.6 1584.0,958.6 1585.0,958.6 1586.0,958.6 1587.0,958.6 1588.0,958.6 1589.0,958.6 1590.0,958.6 1591.0,958.6 1592.0,958.6 1593.0,958.6 1594.0,958.6 1595.0,958.6 1596.0,958.6 1597.0,958.6 1598.0,958.6 1599.0,958.6 1600.0,958.6 1601.0,958.6 1602.0,958.6 1603.0,958.5 1604.0,958.5 1605.0,958.5 1606.0,958.5 1607.0,958.5 1608.0,958.5 1609.0,958.5 1610.0,958.5 1611.0,958.5 1612.0,958.5 1613.0,958.5 1614.0,958.5 1615.0,958.5 1616.0,958.5 1617.0,958.5 1618.0,958.5 1619.0,958.5 1620.0,958.5 1621.0,958.5 1622.0,958.5 1623.0,958.5 1624.0,958.5 1625.0,958.5 1626.0,958.5 1627.0,958.5 1628.0,958.4 1629.0,958.4 1630.0,958.4 1631.0,958.4 1632.0,958.4 1633.0,958.4 1634.0,958.4 1635.0,958.4 1636.0,958.4 1637.0,958.4 1638.0,958.4 1639.0,958.4 1640.0,958.4 1641.0,958.4 1642.0,958.4 1643.0,958.4 1644.0,958.4 1645.0,958.4 1646.0,958.4 1647.0,958.4 1648.0,958.4 1649.0,958.4 1650.0,958.4 1651.0,958.4 1652.0,958.4 1653.0,958.3 1654.0,958.3 1655.0,958.3 1656.0,958.3 1657.0,958.3 1658.0,958.3 1659.0,958.3 1660.0,958.3 1661.0,958.3 1662.0,958.3 1663.0,958.3 1664.0,958.3 1665.0,958.3 1666.0,958.3 1667.0,958.3 1668.0,958.3 1669.0,958.3 1670.0,958.3 1671.0,958.3 1672.0,958.3 1673.0,958.3 1674.0,958.3 1675.0,958.3 1676.0,958.3 1677.0,958.2 1678.0,958.2 1679.0,958.2 1680.0,958.2 1681.0,958.2 1682.0,958.2 1683.0,958.2 1684.0,958.2 1685.0,958.2 1686.0,958.2 1687.0,958.2 1688.0,958.2 1689.0,958.2 1690.0,958.2 1691.0,958.2 1692.0,958.2 1693.0,958.2 1694.0,958.2 1695.0,958.2 1696.0,958.2 1697.0,958.2 1698.0,958.2 1699.0,958.2 1700.0,958.2 1701.0,958.2 1702.0,958.1 1703.0,958.1 1704.0,958.1 1705.0,958.1 1706.0,958.1 1707.0,958.1 1708.0,958.1 1709.0,958.1 1710.0,958.1 1711.0,958.1 1712.0,958.1 1713.0,958.1 1714.0,958.1 1715.0,958.1 1716.0,958.1 1717.0,958.1 1718.0,958.1 1719.0,958.1 1720.0,958.1 1721.0,958.1 1722.0,958.1 1723.0,958.1 1724.0,958.1 1725.0,958.1 1726.0,958.1 1727.0,958.0 1728.0,958.0 1729.0,958.0 1730.0,958.0 1731.0,958.0 1732.0,958.0 1733.0,958.0 1734.0,958.0 1735.0,958.0 1736.0,958.0 1737.0,957.9 1738.0,957.8 1739.0,957.6 1740.0,957.3 1741.0,957.0 1742.0,956.6 1743.0,956.1 1744.0,955.7 1745.0,955.2 1746.0,954.7 1747.0,954.3 1748.0,953.8 1749.0,953.3 1750.0,952.7 1751.0,952.0 1752.0,951.1 1753.0,950.2 1754.0,949.0 1755.0,947.8 1756.0,946.4 1757.0,945.1 1758.0,943.7 1759.0,942.4 1760.0,941.0 1761.0,939.7 1762.0,938.3 1763.0,936.9 1764.0,935.6 1765.0,934.2 1766.0,932.9 1767.0,931.5 1768.0,930.2 1769.0,928.6 1770.0,926.8 1771.0,924.7 1772.0,922.4 1773.0,919.9 1774.0,917.1 1775.0,914.2 1776.0,911.2 1777.0,908.2 1778.0,905.2 1779.0,902.2 1780.0,899.2 1781.0,896.3 1782.0,893.3 1783.0,890.3 1784.0,887.3 1785.0,884.3 1786.0,881.3 1787.0,878.2 1788.0,875.2 1789.0,872.2 1790.0,869.2 1791.0,866.2 1792.0,863.2 1793.0,860.2 1794.0,857.2 1795.0,854.3 1796.0,851.6 1797.0,849.0 1798.0,846.5 1799.0,844.0 1800.0,841.8 1801.0,839.5 1802.0,837.3 1803.0,835.0 1804.0,832.8 1805.0,830.5 1806.0,828.3 1807.0,826.2 1808.0,824.3 1809.0,822.5 1810.0,821.0 1811.0,819.7 1812.0,818.5 1813.0,817.5 1814.0,816.6 1815.0,815.7 1816.0,814.8 1817.0,813.9 1818.0,813.0 1819.0,812.1 1820.0,811.2 1821.0,810.3 1822.0,809.4 1823.0,808.6 1824.0,807.9 1825.0,807.2 1826.0,806.7 1827.0,806.3 1828.0,806.0 1829.0,805.8 1830.0,805.6 1831.0,805.4 1832.0,805.2 1833.0,805.0 1834.0,804.8 1835.0,804.6 1836.0,804.4 1837.0,804.2 1838.0,804.0 1839.0,803.9 1840.0,803.9 1841.0,804.0 1842.0,804.2 1843.0,804.4 1844.0,804.8 1845.0,805.3 1846.0,805.8 1847.0,806.3 1848.0,806.8 1849.0,807.3 1850.0,807.8 1851.0,808.3 1852.0,808.8 1853.0,809.3 1854.0,809.8 1855.0,810.3 1856.0,811.0 1857.0,811.7 1858.0,812.4 1859.0,813.3 1860.0,814.2 1861.0,815.2 1862.0,816.2 1863.0,817.2 1864.0,818.2 1865.0,819.2 1866.0,820.2 1867.0,821.2 1868.0,822.2 1869.0,823.2 1870.0,824.2 1871.0,825.2 1872.0,826.2 1873.0,827.2 1874.0,828.0 1875.0,828.5 1876.0,828.7 1877.0,828.7 1878.0,828.3 1879.0,827.6 1880.0,826.4 1881.0,824.2 1882.0,821.1 1883.0,817.2 1884.0,812.4 1885.0,806.8 1886.0,800.4 1887.0,792.9 1888.0,785.1 1889.0,776.9 1890.0,768.2 1891.0,759.1 1892.0,749.5 1893.0,739.7 1894.0,729.9 1895.0,720.4 1896.0,710.9 1897.0,701.6 1898.0,692.4 1899.0,683.6 1900.0,675.8 1901.0,669.0 1902.0,663.2 1903.0,658.4 1904.0,655.0 1905.0,653.3 1906.0,653.2 1907.0,653.8 1908.0,655.2 1909.0,658.1 1910.0,662.7 1911.0,668.8 1912.0,675.9 1913.0,684.0 1914.0,693.2 1915.0,703.4 1916.0,714.1 1917.0,724.9 1918.0,735.9 1919.0,747.1 1920.0,758.5 1921.0,770.0 1922.0,781.6 1923.0,793.2 1924.0,804.8 1925.0,816.1 1926.0,827.0 1927.0,837.4 1928.0,847.3 1929.0,856.7 1930.0,865.7 1931.0,874.2 1932.0,882.6 1933.0,891.0 1934.0,899.2 1935.0,906.6 1936.0,913.0 1937.0,918.6 1938.0,923.4 1939.0,927.2 1940.0,930.2 1941.0,932.4 1942.0,934.7 1943.0,937.0 1944.0,939.3 1945.0,941.5 1946.0,943.8 1947.0,946.0 1948.0,947.9 1949.0,949.5 1950.0,950.8 1951.0,951.9 1952.0,952.6 1953.0,953.1 1954.0,953.5 1955.0,953.8 1956.0,954.1 1957.0,954.5 1958.0,954.8 1959.0,955.1 1960.0,955.5 1961.0,955.8 1962.0,956.2 1963.0,956.5 1964.0,956.8 1965.0,957.2 1966.0,957.5 1967.0,957.8 1968.0,958.0 1969.0,958.2 1970.0,958.3 1971.0,958.4 1972.0,958.5 1973.0,958.5 1974.0,958.5 1975.0,958.5 1976.0,958.5 1977.0,958.5 1978.0,958.6 1979.0,958.6 1980.0,958.6 1981.0,958.6 1982.0,958.6 1983.0,958.7 1984.0,958.7 1985.0,958.7 1986.0,958.7 1987.0,958.7 1988.0,958.7 1989.0,958.8 1990.0,958.8 1991.0,958.8 1992.0,958.8 1993.0,958.8 1994.0,958.9 1995.0,958.9 1996.0,958.9 1997.0,958.9 1998.0,958.9 1999.0,958.9 2000.0,959.0 2001.0,959.0 2002.0,959.0" fill="none" stroke="#0c0c8a" stroke-width="4.8" stroke-linejoin="round" stroke-linecap="round" />
<line x1="1790.2" y1="903.8" x2="1746.9" y2="864.3" stroke="#000" stroke-width="3.2"/>
<polygon points="1734.3,852.8 1752.5,861.0 1745.5,863.0 1744.1,870.2" fill="#000"/>
<line x1="1841.8" y1="809.7" x2="1841.8" y2="763.9" stroke="#000" stroke-width="3.2"/>
<polygon points="1841.8,746.9 1848.0,765.9 1841.8,762.1 1835.5,765.9" fill="#000"/>
<line x1="1909.7" y1="697.2" x2="1945.3" y2="696.7" stroke="#000" stroke-width="3.2"/>
<polygon points="1962.3,696.5 1943.4,703.0 1947.1,696.7 1943.2,690.5" fill="#000"/>
<text transform="translate(1704.64,844.70) scale(1.0569,1)" font-family='"Liberation Sans", Arial, sans-serif' font-weight="bold" font-size="25.07" fill="#ff0000" ><tspan>C=O</tspan></text>
<text transform="translate(1818.40,736.80) scale(1.0363,1)" font-family='"Liberation Sans", Arial, sans-serif' font-weight="bold" font-size="26.52" fill="#ff0000" ><tspan>C-O</tspan></text>
<text transform="translate(1967.95,705.10) scale(1.0158,1)" font-family='"Liberation Sans", Arial, sans-serif' font-weight="bold" font-size="25.80" fill="#ff0000" ><tspan>Ce-O</tspan></text>
</svg></body></html>
